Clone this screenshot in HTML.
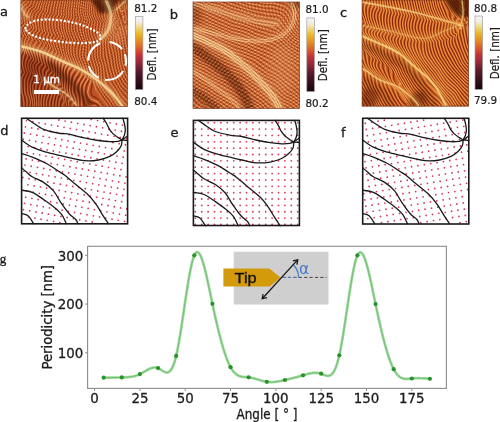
<!DOCTYPE html><html><head><meta charset="utf-8"><style>html,body{margin:0;padding:0;background:#fff;overflow:hidden}svg{display:block}</style></head><body><svg width="500" height="422" viewBox="0 0 500 422">
<defs>
<linearGradient id="cmap" x1="0" y1="1" x2="0" y2="0">
<stop offset="0" stop-color="#1a0508"/>
<stop offset="0.10" stop-color="#2e0d18"/>
<stop offset="0.25" stop-color="#5a1a2c"/>
<stop offset="0.38" stop-color="#9a2a3a"/>
<stop offset="0.48" stop-color="#c83236"/>
<stop offset="0.56" stop-color="#d85a2a"/>
<stop offset="0.66" stop-color="#e48a22"/>
<stop offset="0.76" stop-color="#ebb522"/>
<stop offset="0.86" stop-color="#f0dc8c"/>
<stop offset="0.93" stop-color="#f2eee6"/>
<stop offset="1" stop-color="#f4f4f6"/>
</linearGradient>
<filter id="bl05" x="-50%" y="-50%" width="200%" height="200%"><feGaussianBlur stdDeviation="0.5"/></filter>
<filter id="bl1" x="-50%" y="-50%" width="200%" height="200%"><feGaussianBlur stdDeviation="0.9"/></filter>
<filter id="bl15" x="-50%" y="-50%" width="200%" height="200%"><feGaussianBlur stdDeviation="1.5"/></filter>
<filter id="bl2" x="-50%" y="-50%" width="200%" height="200%"><feGaussianBlur stdDeviation="2.2"/></filter>
<filter id="bl3" x="-50%" y="-50%" width="200%" height="200%"><feGaussianBlur stdDeviation="3.2"/></filter>
<filter id="bl4" x="-50%" y="-50%" width="200%" height="200%"><feGaussianBlur stdDeviation="5"/></filter>
<clipPath id="cpa"><rect x="20.8" y="0" width="106.7" height="106.6"/></clipPath>
<clipPath id="cpb"><rect x="193" y="2" width="106.5" height="106.4"/></clipPath>
<clipPath id="cpc"><rect x="362.1" y="0" width="106.4" height="106.2"/></clipPath>
</defs>
<rect width="500" height="422" fill="#fff"/>
<rect x="87.6" y="246.3" width="358.8" height="142.1" fill="none" stroke="#8c8c8c" stroke-width="1.1"/>
<line x1="94.6" y1="388.4" x2="94.6" y2="390.9" stroke="#8c8c8c" stroke-width="1"/>
<text x="94.6" y="403.2" text-anchor="middle" font-family="'DejaVu Sans', 'Liberation Sans', sans-serif" font-size="13.4" fill="#1c1c1c" stroke="#1c1c1c" stroke-width="0.3">0</text>
<line x1="139.91" y1="388.4" x2="139.91" y2="390.9" stroke="#8c8c8c" stroke-width="1"/>
<text x="139.91" y="403.2" text-anchor="middle" font-family="'DejaVu Sans', 'Liberation Sans', sans-serif" font-size="13.4" fill="#1c1c1c" stroke="#1c1c1c" stroke-width="0.3">25</text>
<line x1="185.23" y1="388.4" x2="185.23" y2="390.9" stroke="#8c8c8c" stroke-width="1"/>
<text x="185.23" y="403.2" text-anchor="middle" font-family="'DejaVu Sans', 'Liberation Sans', sans-serif" font-size="13.4" fill="#1c1c1c" stroke="#1c1c1c" stroke-width="0.3">50</text>
<line x1="230.54" y1="388.4" x2="230.54" y2="390.9" stroke="#8c8c8c" stroke-width="1"/>
<text x="230.54" y="403.2" text-anchor="middle" font-family="'DejaVu Sans', 'Liberation Sans', sans-serif" font-size="13.4" fill="#1c1c1c" stroke="#1c1c1c" stroke-width="0.3">75</text>
<line x1="275.86" y1="388.4" x2="275.86" y2="390.9" stroke="#8c8c8c" stroke-width="1"/>
<text x="275.86" y="403.2" text-anchor="middle" font-family="'DejaVu Sans', 'Liberation Sans', sans-serif" font-size="13.4" fill="#1c1c1c" stroke="#1c1c1c" stroke-width="0.3">100</text>
<line x1="321.17" y1="388.4" x2="321.17" y2="390.9" stroke="#8c8c8c" stroke-width="1"/>
<text x="321.17" y="403.2" text-anchor="middle" font-family="'DejaVu Sans', 'Liberation Sans', sans-serif" font-size="13.4" fill="#1c1c1c" stroke="#1c1c1c" stroke-width="0.3">125</text>
<line x1="366.49" y1="388.4" x2="366.49" y2="390.9" stroke="#8c8c8c" stroke-width="1"/>
<text x="366.49" y="403.2" text-anchor="middle" font-family="'DejaVu Sans', 'Liberation Sans', sans-serif" font-size="13.4" fill="#1c1c1c" stroke="#1c1c1c" stroke-width="0.3">150</text>
<line x1="411.8" y1="388.4" x2="411.8" y2="390.9" stroke="#8c8c8c" stroke-width="1"/>
<text x="411.8" y="403.2" text-anchor="middle" font-family="'DejaVu Sans', 'Liberation Sans', sans-serif" font-size="13.4" fill="#1c1c1c" stroke="#1c1c1c" stroke-width="0.3">175</text>
<line x1="85.1" y1="352.8" x2="87.6" y2="352.8" stroke="#8c8c8c" stroke-width="1"/>
<text x="83.4" y="358.2" text-anchor="end" font-family="'DejaVu Sans', 'Liberation Sans', sans-serif" font-size="13.4" fill="#1c1c1c" stroke="#1c1c1c" stroke-width="0.3">100</text>
<line x1="85.1" y1="304.05" x2="87.6" y2="304.05" stroke="#8c8c8c" stroke-width="1"/>
<text x="83.4" y="309.45" text-anchor="end" font-family="'DejaVu Sans', 'Liberation Sans', sans-serif" font-size="13.4" fill="#1c1c1c" stroke="#1c1c1c" stroke-width="0.3">200</text>
<line x1="85.1" y1="255.3" x2="87.6" y2="255.3" stroke="#8c8c8c" stroke-width="1"/>
<text x="83.4" y="260.7" text-anchor="end" font-family="'DejaVu Sans', 'Liberation Sans', sans-serif" font-size="13.4" fill="#1c1c1c" stroke="#1c1c1c" stroke-width="0.3">300</text>
<text transform="translate(52.3 317.3) rotate(-90)" text-anchor="middle" font-family="'DejaVu Sans', 'Liberation Sans', sans-serif" font-size="13.3" fill="#1c1c1c" stroke="#1c1c1c" stroke-width="0.3" textLength="104.5" lengthAdjust="spacingAndGlyphs">Periodicity [nm]</text>
<text x="267" y="418.6" text-anchor="middle" font-family="'DejaVu Sans', 'Liberation Sans', sans-serif" font-size="13.3" fill="#1c1c1c" stroke="#1c1c1c" stroke-width="0.3" textLength="61" lengthAdjust="spacingAndGlyphs">Angle [ ° ]</text>
<rect x="233.7" y="251.7" width="94.8" height="52.8" fill="#cfcfcf"/>
<path d="M223.4 268.6 L269.3 268.6 L280.6 277.4 L269.8 286.4 L223.4 286.4 Z" fill="#d39a0c"/>
<text x="234.6" y="283.2" font-family="'Liberation Sans', 'DejaVu Sans', sans-serif" font-size="15.2" fill="#111" stroke="#111" stroke-width="0.35" textLength="22" lengthAdjust="spacingAndGlyphs">Tip</text>
<line x1="282.5" y1="277.4" x2="326.5" y2="277.4" stroke="#444" stroke-width="1" stroke-dasharray="3.2 2.2"/>
<line x1="282.5" y1="277.4" x2="298" y2="277.4" stroke="#5a7ac0" stroke-width="1" stroke-dasharray="3.2 2.2"/>
<path d="M292.7 264.3 A18 18 0 0 1 298.6 277.4" fill="none" stroke="#4a78c8" stroke-width="1.2"/>
<line x1="262.4" y1="298.5" x2="297.6" y2="259.9" stroke="#151515" stroke-width="1.25"/>
<path d="M296.9 264.6 L297.75 259.75 L293 260.9 M263.1 294 L262.2 298.75 L267 297.6" fill="none" stroke="#151515" stroke-width="1.25" stroke-linejoin="miter"/>
<text x="299.0" y="273.5" font-family="'DejaVu Sans', 'Liberation Sans', sans-serif" font-size="15.5" fill="#4a78c8">α</text>
<path d="M103.66 377.66 L104.57 377.66 L105.48 377.65 L106.38 377.64 L107.29 377.63 L108.19 377.62 L109.1 377.62 L110.01 377.61 L110.91 377.6 L111.82 377.59 L112.73 377.58 L113.63 377.57 L114.54 377.55 L115.44 377.54 L116.35 377.53 L117.26 377.51 L118.16 377.5 L119.07 377.48 L119.98 377.46 L120.88 377.44 L121.79 377.42 L122.7 377.4 L123.6 377.37 L124.51 377.34 L125.41 377.3 L126.32 377.25 L127.23 377.19 L128.13 377.12 L129.04 377.03 L129.95 376.93 L130.85 376.8 L131.76 376.66 L132.66 376.49 L133.57 376.3 L134.48 376.08 L135.38 375.83 L136.29 375.56 L137.2 375.25 L138.1 374.9 L139.01 374.52 L139.91 374.1 L140.82 373.65 L141.73 373.16 L142.63 372.64 L143.54 372.12 L144.45 371.58 L145.35 371.04 L146.26 370.51 L147.17 370 L148.07 369.52 L148.98 369.06 L149.88 368.65 L150.79 368.28 L151.7 367.98 L152.6 367.74 L153.51 367.57 L154.42 367.48 L155.32 367.48 L156.23 367.58 L157.13 367.79 L158.04 368.11 L158.95 368.54 L159.85 369.07 L160.76 369.64 L161.67 370.25 L162.57 370.84 L163.48 371.38 L164.39 371.86 L165.29 372.22 L166.2 372.43 L167.1 372.48 L168.01 372.31 L168.92 371.9 L169.82 371.21 L170.73 370.22 L171.64 368.88 L172.54 367.17 L173.45 365.05 L174.35 362.49 L175.26 359.46 L176.17 355.92 L177.07 351.85 L177.98 347.31 L178.89 342.35 L179.79 337.04 L180.7 331.44 L181.6 325.62 L182.51 319.62 L183.42 313.53 L184.32 307.4 L185.23 301.29 L186.14 295.27 L187.04 289.4 L187.95 283.74 L188.86 278.35 L189.76 273.3 L190.67 268.65 L191.57 264.46 L192.48 260.8 L193.39 257.72 L194.29 255.3 L195.2 253.57 L196.11 252.52 L197.01 252.1 L197.92 252.27 L198.82 253 L199.73 254.25 L200.64 255.97 L201.54 258.13 L202.45 260.69 L203.36 263.6 L204.26 266.84 L205.17 270.35 L206.07 274.11 L206.98 278.07 L207.89 282.18 L208.79 286.42 L209.7 290.74 L210.61 295.11 L211.51 299.47 L212.42 303.81 L213.33 308.07 L214.23 312.25 L215.14 316.35 L216.04 320.35 L216.95 324.25 L217.86 328.05 L218.76 331.75 L219.67 335.32 L220.58 338.78 L221.48 342.11 L222.39 345.3 L223.29 348.36 L224.2 351.28 L225.11 354.04 L226.01 356.65 L226.92 359.1 L227.83 361.39 L228.73 363.5 L229.64 365.43 L230.54 367.18 L231.45 368.74 L232.36 370.13 L233.26 371.35 L234.17 372.41 L235.08 373.33 L235.98 374.11 L236.89 374.77 L237.8 375.32 L238.7 375.77 L239.61 376.13 L240.51 376.42 L241.42 376.64 L242.33 376.8 L243.23 376.92 L244.14 377 L245.05 377.06 L245.95 377.12 L246.86 377.17 L247.76 377.23 L248.67 377.32 L249.58 377.44 L250.48 377.59 L251.39 377.77 L252.3 377.97 L253.2 378.19 L254.11 378.43 L255.02 378.69 L255.92 378.95 L256.83 379.22 L257.73 379.5 L258.64 379.78 L259.55 380.06 L260.45 380.33 L261.36 380.59 L262.27 380.84 L263.17 381.08 L264.08 381.3 L264.98 381.49 L265.89 381.66 L266.8 381.81 L267.7 381.92 L268.61 382 L269.52 382.05 L270.42 382.08 L271.33 382.08 L272.23 382.05 L273.14 382.01 L274.05 381.94 L274.95 381.85 L275.86 381.74 L276.77 381.62 L277.67 381.48 L278.58 381.33 L279.49 381.17 L280.39 380.99 L281.3 380.81 L282.2 380.61 L283.11 380.41 L284.02 380.21 L284.92 380 L285.83 379.79 L286.74 379.58 L287.64 379.37 L288.55 379.15 L289.45 378.93 L290.36 378.71 L291.27 378.49 L292.17 378.26 L293.08 378.03 L293.99 377.8 L294.89 377.56 L295.8 377.33 L296.7 377.09 L297.61 376.84 L298.52 376.6 L299.42 376.35 L300.33 376.1 L301.24 375.84 L302.14 375.58 L303.05 375.32 L303.96 375.06 L304.86 374.79 L305.77 374.53 L306.67 374.28 L307.58 374.03 L308.49 373.8 L309.39 373.58 L310.3 373.38 L311.21 373.21 L312.11 373.06 L313.02 372.94 L313.92 372.85 L314.83 372.8 L315.74 372.79 L316.64 372.82 L317.55 372.89 L318.46 373.02 L319.36 373.19 L320.27 373.42 L321.17 373.71 L322.08 374.06 L322.99 374.44 L323.89 374.82 L324.8 375.19 L325.71 375.5 L326.61 375.74 L327.52 375.87 L328.43 375.87 L329.33 375.7 L330.24 375.35 L331.14 374.78 L332.05 373.96 L332.96 372.88 L333.86 371.49 L334.77 369.77 L335.68 367.7 L336.58 365.24 L337.49 362.37 L338.39 359.06 L339.3 355.29 L340.21 351.03 L341.11 346.33 L342.02 341.26 L342.93 335.88 L343.83 330.23 L344.74 324.39 L345.65 318.41 L346.55 312.35 L347.46 306.28 L348.36 300.25 L349.27 294.31 L350.18 288.54 L351.08 282.99 L351.99 277.71 L352.9 272.78 L353.8 268.25 L354.71 264.17 L355.61 260.62 L356.52 257.64 L357.43 255.3 L358.33 253.64 L359.24 252.64 L360.15 252.27 L361.05 252.47 L361.96 253.22 L362.86 254.48 L363.77 256.21 L364.68 258.37 L365.58 260.92 L366.49 263.83 L367.4 267.05 L368.3 270.55 L369.21 274.3 L370.12 278.24 L371.02 282.36 L371.93 286.59 L372.83 290.92 L373.74 295.3 L374.65 299.69 L375.55 304.05 L376.46 308.36 L377.37 312.59 L378.27 316.75 L379.18 320.82 L380.08 324.81 L380.99 328.69 L381.9 332.48 L382.8 336.15 L383.71 339.71 L384.62 343.14 L385.52 346.44 L386.43 349.6 L387.33 352.62 L388.24 355.49 L389.15 358.21 L390.05 360.76 L390.96 363.13 L391.87 365.34 L392.77 367.35 L393.68 369.18 L394.59 370.81 L395.49 372.26 L396.4 373.53 L397.3 374.63 L398.21 375.58 L399.12 376.39 L400.02 377.06 L400.93 377.61 L401.84 378.04 L402.74 378.38 L403.65 378.62 L404.55 378.79 L405.46 378.88 L406.37 378.92 L407.27 378.91 L408.18 378.86 L409.09 378.78 L409.99 378.69 L410.9 378.59 L411.8 378.49 L412.71 378.41 L413.62 378.34 L414.52 378.29 L415.43 378.25 L416.34 378.23 L417.24 378.21 L418.15 378.21 L419.06 378.21 L419.96 378.23 L420.87 378.25 L421.77 378.28 L422.68 378.32 L423.59 378.36 L424.49 378.41 L425.4 378.47 L426.31 378.53 L427.21 378.59 L428.12 378.65 L429.02 378.72 L429.93 378.78" fill="none" stroke="#94dc94" stroke-width="2.7" stroke-linejoin="round"/>
<path d="M103.66 377.66 L104.57 377.66 L105.48 377.65 L106.38 377.64 L107.29 377.63 L108.19 377.62 L109.1 377.62 L110.01 377.61 L110.91 377.6 L111.82 377.59 L112.73 377.58 L113.63 377.57 L114.54 377.55 L115.44 377.54 L116.35 377.53 L117.26 377.51 L118.16 377.5 L119.07 377.48 L119.98 377.46 L120.88 377.44 L121.79 377.42 L122.7 377.4 L123.6 377.37 L124.51 377.34 L125.41 377.3 L126.32 377.25 L127.23 377.19 L128.13 377.12 L129.04 377.03 L129.95 376.93 L130.85 376.8 L131.76 376.66 L132.66 376.49 L133.57 376.3 L134.48 376.08 L135.38 375.83 L136.29 375.56 L137.2 375.25 L138.1 374.9 L139.01 374.52 L139.91 374.1 L140.82 373.65 L141.73 373.16 L142.63 372.64 L143.54 372.12 L144.45 371.58 L145.35 371.04 L146.26 370.51 L147.17 370 L148.07 369.52 L148.98 369.06 L149.88 368.65 L150.79 368.28 L151.7 367.98 L152.6 367.74 L153.51 367.57 L154.42 367.48 L155.32 367.48 L156.23 367.58 L157.13 367.79 L158.04 368.11 L158.95 368.54 L159.85 369.07 L160.76 369.64 L161.67 370.25 L162.57 370.84 L163.48 371.38 L164.39 371.86 L165.29 372.22 L166.2 372.43 L167.1 372.48 L168.01 372.31 L168.92 371.9 L169.82 371.21 L170.73 370.22 L171.64 368.88 L172.54 367.17 L173.45 365.05 L174.35 362.49 L175.26 359.46 L176.17 355.92 L177.07 351.85 L177.98 347.31 L178.89 342.35 L179.79 337.04 L180.7 331.44 L181.6 325.62 L182.51 319.62 L183.42 313.53 L184.32 307.4 L185.23 301.29 L186.14 295.27 L187.04 289.4 L187.95 283.74 L188.86 278.35 L189.76 273.3 L190.67 268.65 L191.57 264.46 L192.48 260.8 L193.39 257.72 L194.29 255.3 L195.2 253.57 L196.11 252.52 L197.01 252.1 L197.92 252.27 L198.82 253 L199.73 254.25 L200.64 255.97 L201.54 258.13 L202.45 260.69 L203.36 263.6 L204.26 266.84 L205.17 270.35 L206.07 274.11 L206.98 278.07 L207.89 282.18 L208.79 286.42 L209.7 290.74 L210.61 295.11 L211.51 299.47 L212.42 303.81 L213.33 308.07 L214.23 312.25 L215.14 316.35 L216.04 320.35 L216.95 324.25 L217.86 328.05 L218.76 331.75 L219.67 335.32 L220.58 338.78 L221.48 342.11 L222.39 345.3 L223.29 348.36 L224.2 351.28 L225.11 354.04 L226.01 356.65 L226.92 359.1 L227.83 361.39 L228.73 363.5 L229.64 365.43 L230.54 367.18 L231.45 368.74 L232.36 370.13 L233.26 371.35 L234.17 372.41 L235.08 373.33 L235.98 374.11 L236.89 374.77 L237.8 375.32 L238.7 375.77 L239.61 376.13 L240.51 376.42 L241.42 376.64 L242.33 376.8 L243.23 376.92 L244.14 377 L245.05 377.06 L245.95 377.12 L246.86 377.17 L247.76 377.23 L248.67 377.32 L249.58 377.44 L250.48 377.59 L251.39 377.77 L252.3 377.97 L253.2 378.19 L254.11 378.43 L255.02 378.69 L255.92 378.95 L256.83 379.22 L257.73 379.5 L258.64 379.78 L259.55 380.06 L260.45 380.33 L261.36 380.59 L262.27 380.84 L263.17 381.08 L264.08 381.3 L264.98 381.49 L265.89 381.66 L266.8 381.81 L267.7 381.92 L268.61 382 L269.52 382.05 L270.42 382.08 L271.33 382.08 L272.23 382.05 L273.14 382.01 L274.05 381.94 L274.95 381.85 L275.86 381.74 L276.77 381.62 L277.67 381.48 L278.58 381.33 L279.49 381.17 L280.39 380.99 L281.3 380.81 L282.2 380.61 L283.11 380.41 L284.02 380.21 L284.92 380 L285.83 379.79 L286.74 379.58 L287.64 379.37 L288.55 379.15 L289.45 378.93 L290.36 378.71 L291.27 378.49 L292.17 378.26 L293.08 378.03 L293.99 377.8 L294.89 377.56 L295.8 377.33 L296.7 377.09 L297.61 376.84 L298.52 376.6 L299.42 376.35 L300.33 376.1 L301.24 375.84 L302.14 375.58 L303.05 375.32 L303.96 375.06 L304.86 374.79 L305.77 374.53 L306.67 374.28 L307.58 374.03 L308.49 373.8 L309.39 373.58 L310.3 373.38 L311.21 373.21 L312.11 373.06 L313.02 372.94 L313.92 372.85 L314.83 372.8 L315.74 372.79 L316.64 372.82 L317.55 372.89 L318.46 373.02 L319.36 373.19 L320.27 373.42 L321.17 373.71 L322.08 374.06 L322.99 374.44 L323.89 374.82 L324.8 375.19 L325.71 375.5 L326.61 375.74 L327.52 375.87 L328.43 375.87 L329.33 375.7 L330.24 375.35 L331.14 374.78 L332.05 373.96 L332.96 372.88 L333.86 371.49 L334.77 369.77 L335.68 367.7 L336.58 365.24 L337.49 362.37 L338.39 359.06 L339.3 355.29 L340.21 351.03 L341.11 346.33 L342.02 341.26 L342.93 335.88 L343.83 330.23 L344.74 324.39 L345.65 318.41 L346.55 312.35 L347.46 306.28 L348.36 300.25 L349.27 294.31 L350.18 288.54 L351.08 282.99 L351.99 277.71 L352.9 272.78 L353.8 268.25 L354.71 264.17 L355.61 260.62 L356.52 257.64 L357.43 255.3 L358.33 253.64 L359.24 252.64 L360.15 252.27 L361.05 252.47 L361.96 253.22 L362.86 254.48 L363.77 256.21 L364.68 258.37 L365.58 260.92 L366.49 263.83 L367.4 267.05 L368.3 270.55 L369.21 274.3 L370.12 278.24 L371.02 282.36 L371.93 286.59 L372.83 290.92 L373.74 295.3 L374.65 299.69 L375.55 304.05 L376.46 308.36 L377.37 312.59 L378.27 316.75 L379.18 320.82 L380.08 324.81 L380.99 328.69 L381.9 332.48 L382.8 336.15 L383.71 339.71 L384.62 343.14 L385.52 346.44 L386.43 349.6 L387.33 352.62 L388.24 355.49 L389.15 358.21 L390.05 360.76 L390.96 363.13 L391.87 365.34 L392.77 367.35 L393.68 369.18 L394.59 370.81 L395.49 372.26 L396.4 373.53 L397.3 374.63 L398.21 375.58 L399.12 376.39 L400.02 377.06 L400.93 377.61 L401.84 378.04 L402.74 378.38 L403.65 378.62 L404.55 378.79 L405.46 378.88 L406.37 378.92 L407.27 378.91 L408.18 378.86 L409.09 378.78 L409.99 378.69 L410.9 378.59 L411.8 378.49 L412.71 378.41 L413.62 378.34 L414.52 378.29 L415.43 378.25 L416.34 378.23 L417.24 378.21 L418.15 378.21 L419.06 378.21 L419.96 378.23 L420.87 378.25 L421.77 378.28 L422.68 378.32 L423.59 378.36 L424.49 378.41 L425.4 378.47 L426.31 378.53 L427.21 378.59 L428.12 378.65 L429.02 378.72 L429.93 378.78" fill="none" stroke="#7aa87a" stroke-opacity="0.7" stroke-width="1" stroke-linejoin="round"/>
<circle cx="103.66" cy="377.66" r="2.1" fill="#2a922a"/>
<circle cx="121.79" cy="377.42" r="2.1" fill="#2a922a"/>
<circle cx="139.91" cy="374.1" r="2.1" fill="#2a922a"/>
<circle cx="158.04" cy="368.11" r="2.1" fill="#2a922a"/>
<circle cx="176.17" cy="355.92" r="2.1" fill="#2a922a"/>
<circle cx="194.29" cy="255.3" r="2.1" fill="#2a922a"/>
<circle cx="212.42" cy="303.81" r="2.1" fill="#2a922a"/>
<circle cx="230.54" cy="367.18" r="2.1" fill="#2a922a"/>
<circle cx="248.67" cy="377.32" r="2.1" fill="#2a922a"/>
<circle cx="266.8" cy="381.81" r="2.1" fill="#2a922a"/>
<circle cx="284.92" cy="380" r="2.1" fill="#2a922a"/>
<circle cx="303.05" cy="375.32" r="2.1" fill="#2a922a"/>
<circle cx="321.17" cy="373.71" r="2.1" fill="#2a922a"/>
<circle cx="339.3" cy="355.29" r="2.1" fill="#2a922a"/>
<circle cx="357.43" cy="255.3" r="2.1" fill="#2a922a"/>
<circle cx="375.55" cy="304.05" r="2.1" fill="#2a922a"/>
<circle cx="393.68" cy="369.18" r="2.1" fill="#2a922a"/>
<circle cx="411.8" cy="378.49" r="2.1" fill="#2a922a"/>
<circle cx="429.93" cy="378.78" r="2.1" fill="#2a922a"/>
<g transform="translate(21.6 118.3)">
<g fill="#d43c5c"><circle cx="4.95" cy="2.28" r="0.9"/><circle cx="3.83" cy="8.48" r="0.9"/><circle cx="2.72" cy="14.68" r="0.9"/><circle cx="1.6" cy="20.88" r="0.9"/><circle cx="11.2" cy="3.4" r="0.9"/><circle cx="10.08" cy="9.6" r="0.9"/><circle cx="8.97" cy="15.8" r="0.9"/><circle cx="7.85" cy="22" r="0.9"/><circle cx="6.74" cy="28.2" r="0.9"/><circle cx="5.62" cy="34.4" r="0.9"/><circle cx="4.51" cy="40.6" r="0.9"/><circle cx="3.39" cy="46.8" r="0.9"/><circle cx="2.27" cy="53" r="0.9"/><circle cx="1.16" cy="59.2" r="0.9"/><circle cx="17.45" cy="4.52" r="0.9"/><circle cx="16.33" cy="10.72" r="0.9"/><circle cx="15.22" cy="16.93" r="0.9"/><circle cx="14.1" cy="23.13" r="0.9"/><circle cx="12.99" cy="29.33" r="0.9"/><circle cx="11.87" cy="35.53" r="0.9"/><circle cx="10.76" cy="41.73" r="0.9"/><circle cx="9.64" cy="47.93" r="0.9"/><circle cx="8.52" cy="54.13" r="0.9"/><circle cx="7.41" cy="60.33" r="0.9"/><circle cx="6.29" cy="66.53" r="0.9"/><circle cx="5.18" cy="72.73" r="0.9"/><circle cx="4.06" cy="78.93" r="0.9"/><circle cx="2.95" cy="85.13" r="0.9"/><circle cx="1.83" cy="91.33" r="0.9"/><circle cx="23.7" cy="5.65" r="0.9"/><circle cx="22.58" cy="11.85" r="0.9"/><circle cx="21.47" cy="18.05" r="0.9"/><circle cx="20.35" cy="24.25" r="0.9"/><circle cx="19.24" cy="30.45" r="0.9"/><circle cx="18.12" cy="36.65" r="0.9"/><circle cx="17.01" cy="42.85" r="0.9"/><circle cx="15.89" cy="49.05" r="0.9"/><circle cx="14.77" cy="55.25" r="0.9"/><circle cx="13.66" cy="61.45" r="0.9"/><circle cx="12.54" cy="67.65" r="0.9"/><circle cx="11.43" cy="73.85" r="0.9"/><circle cx="10.31" cy="80.05" r="0.9"/><circle cx="9.2" cy="86.25" r="0.9"/><circle cx="8.08" cy="92.46" r="0.9"/><circle cx="6.96" cy="98.66" r="0.9"/><circle cx="29.95" cy="6.77" r="0.9"/><circle cx="28.83" cy="12.97" r="0.9"/><circle cx="27.72" cy="19.17" r="0.9"/><circle cx="26.6" cy="25.37" r="0.9"/><circle cx="25.49" cy="31.58" r="0.9"/><circle cx="24.37" cy="37.78" r="0.9"/><circle cx="23.26" cy="43.98" r="0.9"/><circle cx="22.14" cy="50.18" r="0.9"/><circle cx="21.02" cy="56.38" r="0.9"/><circle cx="19.91" cy="62.58" r="0.9"/><circle cx="18.79" cy="68.78" r="0.9"/><circle cx="17.68" cy="74.98" r="0.9"/><circle cx="16.56" cy="81.18" r="0.9"/><circle cx="15.45" cy="87.38" r="0.9"/><circle cx="14.33" cy="93.58" r="0.9"/><circle cx="13.21" cy="99.78" r="0.9"/><circle cx="37.31" cy="1.7" r="0.9"/><circle cx="36.2" cy="7.9" r="0.9"/><circle cx="35.08" cy="14.1" r="0.9"/><circle cx="33.97" cy="20.3" r="0.9"/><circle cx="32.85" cy="26.5" r="0.9"/><circle cx="31.74" cy="32.7" r="0.9"/><circle cx="30.62" cy="38.9" r="0.9"/><circle cx="29.5" cy="45.1" r="0.9"/><circle cx="28.39" cy="51.3" r="0.9"/><circle cx="27.27" cy="57.5" r="0.9"/><circle cx="26.16" cy="63.7" r="0.9"/><circle cx="25.04" cy="69.9" r="0.9"/><circle cx="23.93" cy="76.1" r="0.9"/><circle cx="22.81" cy="82.3" r="0.9"/><circle cx="21.7" cy="88.5" r="0.9"/><circle cx="20.58" cy="94.7" r="0.9"/><circle cx="19.46" cy="100.9" r="0.9"/><circle cx="43.56" cy="2.82" r="0.9"/><circle cx="42.45" cy="9.02" r="0.9"/><circle cx="41.33" cy="15.22" r="0.9"/><circle cx="40.22" cy="21.42" r="0.9"/><circle cx="39.1" cy="27.62" r="0.9"/><circle cx="37.99" cy="33.82" r="0.9"/><circle cx="36.87" cy="40.02" r="0.9"/><circle cx="35.75" cy="46.23" r="0.9"/><circle cx="34.64" cy="52.43" r="0.9"/><circle cx="33.52" cy="58.63" r="0.9"/><circle cx="32.41" cy="64.83" r="0.9"/><circle cx="31.29" cy="71.03" r="0.9"/><circle cx="30.18" cy="77.23" r="0.9"/><circle cx="29.06" cy="83.43" r="0.9"/><circle cx="27.94" cy="89.63" r="0.9"/><circle cx="26.83" cy="95.83" r="0.9"/><circle cx="25.71" cy="102.03" r="0.9"/><circle cx="49.81" cy="3.95" r="0.9"/><circle cx="48.7" cy="10.15" r="0.9"/><circle cx="47.58" cy="16.35" r="0.9"/><circle cx="46.47" cy="22.55" r="0.9"/><circle cx="45.35" cy="28.75" r="0.9"/><circle cx="44.24" cy="34.95" r="0.9"/><circle cx="43.12" cy="41.15" r="0.9"/><circle cx="42" cy="47.35" r="0.9"/><circle cx="40.89" cy="53.55" r="0.9"/><circle cx="39.77" cy="59.75" r="0.9"/><circle cx="38.66" cy="65.95" r="0.9"/><circle cx="37.54" cy="72.15" r="0.9"/><circle cx="36.43" cy="78.35" r="0.9"/><circle cx="35.31" cy="84.55" r="0.9"/><circle cx="34.19" cy="90.75" r="0.9"/><circle cx="33.08" cy="96.95" r="0.9"/><circle cx="31.96" cy="103.15" r="0.9"/><circle cx="56.06" cy="5.07" r="0.9"/><circle cx="54.95" cy="11.27" r="0.9"/><circle cx="53.83" cy="17.47" r="0.9"/><circle cx="52.72" cy="23.67" r="0.9"/><circle cx="51.6" cy="29.87" r="0.9"/><circle cx="50.48" cy="36.07" r="0.9"/><circle cx="49.37" cy="42.27" r="0.9"/><circle cx="48.25" cy="48.47" r="0.9"/><circle cx="47.14" cy="54.67" r="0.9"/><circle cx="46.02" cy="60.87" r="0.9"/><circle cx="44.91" cy="67.08" r="0.9"/><circle cx="43.79" cy="73.28" r="0.9"/><circle cx="42.68" cy="79.48" r="0.9"/><circle cx="41.56" cy="85.68" r="0.9"/><circle cx="40.44" cy="91.88" r="0.9"/><circle cx="39.33" cy="98.08" r="0.9"/><circle cx="38.21" cy="104.28" r="0.9"/><circle cx="62.31" cy="6.2" r="0.9"/><circle cx="61.2" cy="12.4" r="0.9"/><circle cx="60.08" cy="18.6" r="0.9"/><circle cx="58.97" cy="24.8" r="0.9"/><circle cx="57.85" cy="31" r="0.9"/><circle cx="56.73" cy="37.2" r="0.9"/><circle cx="55.62" cy="43.4" r="0.9"/><circle cx="54.5" cy="49.6" r="0.9"/><circle cx="53.39" cy="55.8" r="0.9"/><circle cx="52.27" cy="62" r="0.9"/><circle cx="51.16" cy="68.2" r="0.9"/><circle cx="50.04" cy="74.4" r="0.9"/><circle cx="48.93" cy="80.6" r="0.9"/><circle cx="47.81" cy="86.8" r="0.9"/><circle cx="46.69" cy="93" r="0.9"/><circle cx="45.58" cy="99.2" r="0.9"/><circle cx="69.68" cy="1.12" r="0.9"/><circle cx="68.56" cy="7.32" r="0.9"/><circle cx="67.45" cy="13.52" r="0.9"/><circle cx="66.33" cy="19.72" r="0.9"/><circle cx="65.22" cy="25.92" r="0.9"/><circle cx="64.1" cy="32.12" r="0.9"/><circle cx="62.98" cy="38.32" r="0.9"/><circle cx="61.87" cy="44.52" r="0.9"/><circle cx="60.75" cy="50.72" r="0.9"/><circle cx="59.64" cy="56.92" r="0.9"/><circle cx="58.52" cy="63.12" r="0.9"/><circle cx="57.41" cy="69.32" r="0.9"/><circle cx="56.29" cy="75.52" r="0.9"/><circle cx="55.17" cy="81.73" r="0.9"/><circle cx="54.06" cy="87.93" r="0.9"/><circle cx="52.94" cy="94.13" r="0.9"/><circle cx="51.83" cy="100.33" r="0.9"/><circle cx="75.93" cy="2.24" r="0.9"/><circle cx="74.81" cy="8.44" r="0.9"/><circle cx="73.7" cy="14.64" r="0.9"/><circle cx="72.58" cy="20.85" r="0.9"/><circle cx="71.47" cy="27.05" r="0.9"/><circle cx="70.35" cy="33.25" r="0.9"/><circle cx="69.23" cy="39.45" r="0.9"/><circle cx="68.12" cy="45.65" r="0.9"/><circle cx="67" cy="51.85" r="0.9"/><circle cx="65.89" cy="58.05" r="0.9"/><circle cx="64.77" cy="64.25" r="0.9"/><circle cx="63.66" cy="70.45" r="0.9"/><circle cx="62.54" cy="76.65" r="0.9"/><circle cx="61.42" cy="82.85" r="0.9"/><circle cx="60.31" cy="89.05" r="0.9"/><circle cx="59.19" cy="95.25" r="0.9"/><circle cx="58.08" cy="101.45" r="0.9"/><circle cx="82.18" cy="3.37" r="0.9"/><circle cx="81.06" cy="9.57" r="0.9"/><circle cx="79.95" cy="15.77" r="0.9"/><circle cx="78.83" cy="21.97" r="0.9"/><circle cx="77.71" cy="28.17" r="0.9"/><circle cx="76.6" cy="34.37" r="0.9"/><circle cx="75.48" cy="40.57" r="0.9"/><circle cx="74.37" cy="46.77" r="0.9"/><circle cx="73.25" cy="52.97" r="0.9"/><circle cx="72.14" cy="59.17" r="0.9"/><circle cx="71.02" cy="65.37" r="0.9"/><circle cx="69.91" cy="71.57" r="0.9"/><circle cx="68.79" cy="77.77" r="0.9"/><circle cx="67.67" cy="83.97" r="0.9"/><circle cx="66.56" cy="90.17" r="0.9"/><circle cx="65.44" cy="96.37" r="0.9"/><circle cx="64.33" cy="102.58" r="0.9"/><circle cx="88.43" cy="4.49" r="0.9"/><circle cx="87.31" cy="10.69" r="0.9"/><circle cx="86.2" cy="16.89" r="0.9"/><circle cx="85.08" cy="23.09" r="0.9"/><circle cx="83.96" cy="29.29" r="0.9"/><circle cx="82.85" cy="35.5" r="0.9"/><circle cx="81.73" cy="41.7" r="0.9"/><circle cx="80.62" cy="47.9" r="0.9"/><circle cx="79.5" cy="54.1" r="0.9"/><circle cx="78.39" cy="60.3" r="0.9"/><circle cx="77.27" cy="66.5" r="0.9"/><circle cx="76.16" cy="72.7" r="0.9"/><circle cx="75.04" cy="78.9" r="0.9"/><circle cx="73.92" cy="85.1" r="0.9"/><circle cx="72.81" cy="91.3" r="0.9"/><circle cx="71.69" cy="97.5" r="0.9"/><circle cx="70.58" cy="103.7" r="0.9"/><circle cx="94.68" cy="5.62" r="0.9"/><circle cx="93.56" cy="11.82" r="0.9"/><circle cx="92.45" cy="18.02" r="0.9"/><circle cx="91.33" cy="24.22" r="0.9"/><circle cx="90.21" cy="30.42" r="0.9"/><circle cx="89.1" cy="36.62" r="0.9"/><circle cx="87.98" cy="42.82" r="0.9"/><circle cx="86.87" cy="49.02" r="0.9"/><circle cx="85.75" cy="55.22" r="0.9"/><circle cx="84.64" cy="61.42" r="0.9"/><circle cx="83.52" cy="67.62" r="0.9"/><circle cx="82.4" cy="73.82" r="0.9"/><circle cx="81.29" cy="80.02" r="0.9"/><circle cx="80.17" cy="86.22" r="0.9"/><circle cx="79.06" cy="92.42" r="0.9"/><circle cx="77.94" cy="98.62" r="0.9"/><circle cx="100.93" cy="6.74" r="0.9"/><circle cx="99.81" cy="12.94" r="0.9"/><circle cx="98.69" cy="19.14" r="0.9"/><circle cx="97.58" cy="25.34" r="0.9"/><circle cx="96.46" cy="31.54" r="0.9"/><circle cx="95.35" cy="37.74" r="0.9"/><circle cx="94.23" cy="43.94" r="0.9"/><circle cx="93.12" cy="50.14" r="0.9"/><circle cx="92" cy="56.35" r="0.9"/><circle cx="90.89" cy="62.55" r="0.9"/><circle cx="89.77" cy="68.75" r="0.9"/><circle cx="88.65" cy="74.95" r="0.9"/><circle cx="87.54" cy="81.15" r="0.9"/><circle cx="86.42" cy="87.35" r="0.9"/><circle cx="85.31" cy="93.55" r="0.9"/><circle cx="84.19" cy="99.75" r="0.9"/><circle cx="104.94" cy="20.27" r="0.9"/><circle cx="103.83" cy="26.47" r="0.9"/><circle cx="102.71" cy="32.67" r="0.9"/><circle cx="101.6" cy="38.87" r="0.9"/><circle cx="100.48" cy="45.07" r="0.9"/><circle cx="99.37" cy="51.27" r="0.9"/><circle cx="98.25" cy="57.47" r="0.9"/><circle cx="97.14" cy="63.67" r="0.9"/><circle cx="96.02" cy="69.87" r="0.9"/><circle cx="94.9" cy="76.07" r="0.9"/><circle cx="93.79" cy="82.27" r="0.9"/><circle cx="92.67" cy="88.47" r="0.9"/><circle cx="91.56" cy="94.67" r="0.9"/><circle cx="90.44" cy="100.87" r="0.9"/><circle cx="104.5" cy="58.59" r="0.9"/><circle cx="103.38" cy="64.79" r="0.9"/><circle cx="102.27" cy="71" r="0.9"/><circle cx="101.15" cy="77.2" r="0.9"/><circle cx="100.04" cy="83.4" r="0.9"/><circle cx="98.92" cy="89.6" r="0.9"/><circle cx="97.81" cy="95.8" r="0.9"/><circle cx="96.69" cy="102" r="0.9"/><circle cx="105.17" cy="90.72" r="0.9"/><circle cx="104.06" cy="96.92" r="0.9"/><circle cx="102.94" cy="103.12" r="0.9"/></g>
<g fill="none" stroke="#1a1a1a" stroke-width="1.3" stroke-linecap="round">
<path d="M4.9 0 C5.85 0.67 7.75 2.15 10.6 4 C13.45 5.85 17.73 9.32 22 11.1 C26.27 12.88 31.8 13.87 36.2 14.7 C40.6 15.53 44 15.28 48.4 16.1 C52.8 16.92 57.87 18.58 62.6 19.6 C67.33 20.62 72.5 21.57 76.8 22.2 C81.1 22.83 85.13 23.27 88.4 23.4 C91.67 23.53 94.4 23.28 96.4 23 C98.4 22.72 98.8 21.83 100.4 21.7 C102 21.57 105.07 22.12 106 22.2"/>
<path d="M0 21.8 C1.77 22.98 6.47 26.88 10.6 28.9 C14.73 30.92 20.05 32.48 24.8 33.9 C29.55 35.32 35.17 36.45 39.1 37.4 C43.03 38.35 44.48 38.77 48.4 39.6 C52.32 40.43 57.87 42.05 62.6 42.4 C67.33 42.75 72.53 42.42 76.8 41.7 C81.07 40.98 85.12 39.52 88.2 38.1 C91.28 36.68 93.4 34.97 95.3 33.2 C97.2 31.43 98.75 29.37 99.6 27.5 C100.45 25.63 100.27 22.92 100.4 22"/>
<path d="M0 35.3 C1.77 35.9 6.47 37.25 10.6 38.9 C14.73 40.55 20.53 42.95 24.8 45.2 C29.07 47.45 33.12 50.43 36.2 52.4 C39.28 54.37 40.45 54.82 43.3 57 C46.15 59.18 49.37 62.18 53.3 65.5 C57.23 68.82 63.45 73.58 66.9 76.9 C70.35 80.22 71.63 82.08 74 85.4 C76.37 88.72 78.97 93.47 81.1 96.8 C83.23 100.13 85.85 103.97 86.8 105.4"/>
<path d="M0 49.5 C0.82 50.22 3.13 52.32 4.9 53.8 C6.67 55.28 7.75 56.68 10.6 58.4 C13.45 60.12 18.45 61.73 22 64.1 C25.55 66.47 29.05 69.28 31.9 72.6 C34.75 75.92 36.48 80.2 39.1 84 C41.72 87.8 45.12 92.57 47.6 95.4 C50.08 98.23 52.53 99.33 54 101 C55.47 102.67 56 104.67 56.4 105.4"/>
<path d="M0 71.9 C1.77 72.27 6.93 72.55 10.6 74.1 C14.27 75.65 18.2 78.6 22 81.2 C25.8 83.8 30.32 87.1 33.4 89.7 C36.48 92.3 38.62 94.18 40.5 96.8 C42.38 99.42 44 103.97 44.7 105.4"/>
<path d="M0 95.4 C1.07 95.75 4.4 95.83 6.4 97.5 C8.4 99.17 11.07 104.08 12 105.4"/>
<path d="M81.7 0 C82.25 0.87 83.97 3.37 85 5.2 C86.03 7.03 86.8 9.27 87.9 11 C89 12.73 90.15 14.22 91.6 15.6 C93.05 16.98 95.13 18.28 96.6 19.3 C98.07 20.32 99.77 21.3 100.4 21.7"/>
<path d="M101.2 0 C101.47 0.87 102.38 3.23 102.8 5.2 C103.22 7.17 103.7 9.87 103.7 11.8 C103.7 13.73 103.28 15.28 102.8 16.8 C102.32 18.32 101.13 20.22 100.8 20.9"/>
<path d="M100.4 21.7 C101.33 21.02 105.07 18.28 106 17.6"/>
</g>
<rect x="0" y="0" width="106" height="105.5" fill="none" stroke="#1a1a1a" stroke-width="1.6"/>
</g>
<g transform="translate(193.4 120.4)">
<g fill="#d43c5c"><circle cx="1.9" cy="2.3" r="0.9"/><circle cx="1.9" cy="8.66" r="0.9"/><circle cx="1.9" cy="15.02" r="0.9"/><circle cx="1.9" cy="21.38" r="0.9"/><circle cx="1.9" cy="27.74" r="0.9"/><circle cx="1.9" cy="34.1" r="0.9"/><circle cx="1.9" cy="40.46" r="0.9"/><circle cx="1.9" cy="46.82" r="0.9"/><circle cx="1.9" cy="53.18" r="0.9"/><circle cx="1.9" cy="59.54" r="0.9"/><circle cx="1.9" cy="65.9" r="0.9"/><circle cx="1.9" cy="72.26" r="0.9"/><circle cx="1.9" cy="78.62" r="0.9"/><circle cx="1.9" cy="84.98" r="0.9"/><circle cx="1.9" cy="91.34" r="0.9"/><circle cx="1.9" cy="97.7" r="0.9"/><circle cx="1.9" cy="104.06" r="0.9"/><circle cx="8.3" cy="2.3" r="0.9"/><circle cx="8.3" cy="8.66" r="0.9"/><circle cx="8.3" cy="15.02" r="0.9"/><circle cx="8.3" cy="21.38" r="0.9"/><circle cx="8.3" cy="27.74" r="0.9"/><circle cx="8.3" cy="34.1" r="0.9"/><circle cx="8.3" cy="40.46" r="0.9"/><circle cx="8.3" cy="46.82" r="0.9"/><circle cx="8.3" cy="53.18" r="0.9"/><circle cx="8.3" cy="59.54" r="0.9"/><circle cx="8.3" cy="65.9" r="0.9"/><circle cx="8.3" cy="72.26" r="0.9"/><circle cx="8.3" cy="78.62" r="0.9"/><circle cx="8.3" cy="84.98" r="0.9"/><circle cx="8.3" cy="91.34" r="0.9"/><circle cx="8.3" cy="97.7" r="0.9"/><circle cx="8.3" cy="104.06" r="0.9"/><circle cx="14.7" cy="2.3" r="0.9"/><circle cx="14.7" cy="8.66" r="0.9"/><circle cx="14.7" cy="15.02" r="0.9"/><circle cx="14.7" cy="21.38" r="0.9"/><circle cx="14.7" cy="27.74" r="0.9"/><circle cx="14.7" cy="34.1" r="0.9"/><circle cx="14.7" cy="40.46" r="0.9"/><circle cx="14.7" cy="46.82" r="0.9"/><circle cx="14.7" cy="53.18" r="0.9"/><circle cx="14.7" cy="59.54" r="0.9"/><circle cx="14.7" cy="65.9" r="0.9"/><circle cx="14.7" cy="72.26" r="0.9"/><circle cx="14.7" cy="78.62" r="0.9"/><circle cx="14.7" cy="84.98" r="0.9"/><circle cx="14.7" cy="91.34" r="0.9"/><circle cx="14.7" cy="97.7" r="0.9"/><circle cx="14.7" cy="104.06" r="0.9"/><circle cx="21.1" cy="2.3" r="0.9"/><circle cx="21.1" cy="8.66" r="0.9"/><circle cx="21.1" cy="15.02" r="0.9"/><circle cx="21.1" cy="21.38" r="0.9"/><circle cx="21.1" cy="27.74" r="0.9"/><circle cx="21.1" cy="34.1" r="0.9"/><circle cx="21.1" cy="40.46" r="0.9"/><circle cx="21.1" cy="46.82" r="0.9"/><circle cx="21.1" cy="53.18" r="0.9"/><circle cx="21.1" cy="59.54" r="0.9"/><circle cx="21.1" cy="65.9" r="0.9"/><circle cx="21.1" cy="72.26" r="0.9"/><circle cx="21.1" cy="78.62" r="0.9"/><circle cx="21.1" cy="84.98" r="0.9"/><circle cx="21.1" cy="91.34" r="0.9"/><circle cx="21.1" cy="97.7" r="0.9"/><circle cx="21.1" cy="104.06" r="0.9"/><circle cx="27.5" cy="2.3" r="0.9"/><circle cx="27.5" cy="8.66" r="0.9"/><circle cx="27.5" cy="15.02" r="0.9"/><circle cx="27.5" cy="21.38" r="0.9"/><circle cx="27.5" cy="27.74" r="0.9"/><circle cx="27.5" cy="34.1" r="0.9"/><circle cx="27.5" cy="40.46" r="0.9"/><circle cx="27.5" cy="46.82" r="0.9"/><circle cx="27.5" cy="53.18" r="0.9"/><circle cx="27.5" cy="59.54" r="0.9"/><circle cx="27.5" cy="65.9" r="0.9"/><circle cx="27.5" cy="72.26" r="0.9"/><circle cx="27.5" cy="78.62" r="0.9"/><circle cx="27.5" cy="84.98" r="0.9"/><circle cx="27.5" cy="91.34" r="0.9"/><circle cx="27.5" cy="97.7" r="0.9"/><circle cx="27.5" cy="104.06" r="0.9"/><circle cx="33.9" cy="2.3" r="0.9"/><circle cx="33.9" cy="8.66" r="0.9"/><circle cx="33.9" cy="15.02" r="0.9"/><circle cx="33.9" cy="21.38" r="0.9"/><circle cx="33.9" cy="27.74" r="0.9"/><circle cx="33.9" cy="34.1" r="0.9"/><circle cx="33.9" cy="40.46" r="0.9"/><circle cx="33.9" cy="46.82" r="0.9"/><circle cx="33.9" cy="53.18" r="0.9"/><circle cx="33.9" cy="59.54" r="0.9"/><circle cx="33.9" cy="65.9" r="0.9"/><circle cx="33.9" cy="72.26" r="0.9"/><circle cx="33.9" cy="78.62" r="0.9"/><circle cx="33.9" cy="84.98" r="0.9"/><circle cx="33.9" cy="91.34" r="0.9"/><circle cx="33.9" cy="97.7" r="0.9"/><circle cx="33.9" cy="104.06" r="0.9"/><circle cx="40.3" cy="2.3" r="0.9"/><circle cx="40.3" cy="8.66" r="0.9"/><circle cx="40.3" cy="15.02" r="0.9"/><circle cx="40.3" cy="21.38" r="0.9"/><circle cx="40.3" cy="27.74" r="0.9"/><circle cx="40.3" cy="34.1" r="0.9"/><circle cx="40.3" cy="40.46" r="0.9"/><circle cx="40.3" cy="46.82" r="0.9"/><circle cx="40.3" cy="53.18" r="0.9"/><circle cx="40.3" cy="59.54" r="0.9"/><circle cx="40.3" cy="65.9" r="0.9"/><circle cx="40.3" cy="72.26" r="0.9"/><circle cx="40.3" cy="78.62" r="0.9"/><circle cx="40.3" cy="84.98" r="0.9"/><circle cx="40.3" cy="91.34" r="0.9"/><circle cx="40.3" cy="97.7" r="0.9"/><circle cx="40.3" cy="104.06" r="0.9"/><circle cx="46.7" cy="2.3" r="0.9"/><circle cx="46.7" cy="8.66" r="0.9"/><circle cx="46.7" cy="15.02" r="0.9"/><circle cx="46.7" cy="21.38" r="0.9"/><circle cx="46.7" cy="27.74" r="0.9"/><circle cx="46.7" cy="34.1" r="0.9"/><circle cx="46.7" cy="40.46" r="0.9"/><circle cx="46.7" cy="46.82" r="0.9"/><circle cx="46.7" cy="53.18" r="0.9"/><circle cx="46.7" cy="59.54" r="0.9"/><circle cx="46.7" cy="65.9" r="0.9"/><circle cx="46.7" cy="72.26" r="0.9"/><circle cx="46.7" cy="78.62" r="0.9"/><circle cx="46.7" cy="84.98" r="0.9"/><circle cx="46.7" cy="91.34" r="0.9"/><circle cx="46.7" cy="97.7" r="0.9"/><circle cx="46.7" cy="104.06" r="0.9"/><circle cx="53.1" cy="2.3" r="0.9"/><circle cx="53.1" cy="8.66" r="0.9"/><circle cx="53.1" cy="15.02" r="0.9"/><circle cx="53.1" cy="21.38" r="0.9"/><circle cx="53.1" cy="27.74" r="0.9"/><circle cx="53.1" cy="34.1" r="0.9"/><circle cx="53.1" cy="40.46" r="0.9"/><circle cx="53.1" cy="46.82" r="0.9"/><circle cx="53.1" cy="53.18" r="0.9"/><circle cx="53.1" cy="59.54" r="0.9"/><circle cx="53.1" cy="65.9" r="0.9"/><circle cx="53.1" cy="72.26" r="0.9"/><circle cx="53.1" cy="78.62" r="0.9"/><circle cx="53.1" cy="84.98" r="0.9"/><circle cx="53.1" cy="91.34" r="0.9"/><circle cx="53.1" cy="97.7" r="0.9"/><circle cx="53.1" cy="104.06" r="0.9"/><circle cx="59.5" cy="2.3" r="0.9"/><circle cx="59.5" cy="8.66" r="0.9"/><circle cx="59.5" cy="15.02" r="0.9"/><circle cx="59.5" cy="21.38" r="0.9"/><circle cx="59.5" cy="27.74" r="0.9"/><circle cx="59.5" cy="34.1" r="0.9"/><circle cx="59.5" cy="40.46" r="0.9"/><circle cx="59.5" cy="46.82" r="0.9"/><circle cx="59.5" cy="53.18" r="0.9"/><circle cx="59.5" cy="59.54" r="0.9"/><circle cx="59.5" cy="65.9" r="0.9"/><circle cx="59.5" cy="72.26" r="0.9"/><circle cx="59.5" cy="78.62" r="0.9"/><circle cx="59.5" cy="84.98" r="0.9"/><circle cx="59.5" cy="91.34" r="0.9"/><circle cx="59.5" cy="97.7" r="0.9"/><circle cx="59.5" cy="104.06" r="0.9"/><circle cx="65.9" cy="2.3" r="0.9"/><circle cx="65.9" cy="8.66" r="0.9"/><circle cx="65.9" cy="15.02" r="0.9"/><circle cx="65.9" cy="21.38" r="0.9"/><circle cx="65.9" cy="27.74" r="0.9"/><circle cx="65.9" cy="34.1" r="0.9"/><circle cx="65.9" cy="40.46" r="0.9"/><circle cx="65.9" cy="46.82" r="0.9"/><circle cx="65.9" cy="53.18" r="0.9"/><circle cx="65.9" cy="59.54" r="0.9"/><circle cx="65.9" cy="65.9" r="0.9"/><circle cx="65.9" cy="72.26" r="0.9"/><circle cx="65.9" cy="78.62" r="0.9"/><circle cx="65.9" cy="84.98" r="0.9"/><circle cx="65.9" cy="91.34" r="0.9"/><circle cx="65.9" cy="97.7" r="0.9"/><circle cx="65.9" cy="104.06" r="0.9"/><circle cx="72.3" cy="2.3" r="0.9"/><circle cx="72.3" cy="8.66" r="0.9"/><circle cx="72.3" cy="15.02" r="0.9"/><circle cx="72.3" cy="21.38" r="0.9"/><circle cx="72.3" cy="27.74" r="0.9"/><circle cx="72.3" cy="34.1" r="0.9"/><circle cx="72.3" cy="40.46" r="0.9"/><circle cx="72.3" cy="46.82" r="0.9"/><circle cx="72.3" cy="53.18" r="0.9"/><circle cx="72.3" cy="59.54" r="0.9"/><circle cx="72.3" cy="65.9" r="0.9"/><circle cx="72.3" cy="72.26" r="0.9"/><circle cx="72.3" cy="78.62" r="0.9"/><circle cx="72.3" cy="84.98" r="0.9"/><circle cx="72.3" cy="91.34" r="0.9"/><circle cx="72.3" cy="97.7" r="0.9"/><circle cx="72.3" cy="104.06" r="0.9"/><circle cx="78.7" cy="2.3" r="0.9"/><circle cx="78.7" cy="8.66" r="0.9"/><circle cx="78.7" cy="15.02" r="0.9"/><circle cx="78.7" cy="21.38" r="0.9"/><circle cx="78.7" cy="27.74" r="0.9"/><circle cx="78.7" cy="34.1" r="0.9"/><circle cx="78.7" cy="40.46" r="0.9"/><circle cx="78.7" cy="46.82" r="0.9"/><circle cx="78.7" cy="53.18" r="0.9"/><circle cx="78.7" cy="59.54" r="0.9"/><circle cx="78.7" cy="65.9" r="0.9"/><circle cx="78.7" cy="72.26" r="0.9"/><circle cx="78.7" cy="78.62" r="0.9"/><circle cx="78.7" cy="84.98" r="0.9"/><circle cx="78.7" cy="91.34" r="0.9"/><circle cx="78.7" cy="97.7" r="0.9"/><circle cx="78.7" cy="104.06" r="0.9"/><circle cx="85.1" cy="2.3" r="0.9"/><circle cx="85.1" cy="8.66" r="0.9"/><circle cx="85.1" cy="15.02" r="0.9"/><circle cx="85.1" cy="21.38" r="0.9"/><circle cx="85.1" cy="27.74" r="0.9"/><circle cx="85.1" cy="34.1" r="0.9"/><circle cx="85.1" cy="40.46" r="0.9"/><circle cx="85.1" cy="46.82" r="0.9"/><circle cx="85.1" cy="53.18" r="0.9"/><circle cx="85.1" cy="59.54" r="0.9"/><circle cx="85.1" cy="65.9" r="0.9"/><circle cx="85.1" cy="72.26" r="0.9"/><circle cx="85.1" cy="78.62" r="0.9"/><circle cx="85.1" cy="84.98" r="0.9"/><circle cx="85.1" cy="91.34" r="0.9"/><circle cx="85.1" cy="97.7" r="0.9"/><circle cx="85.1" cy="104.06" r="0.9"/><circle cx="91.5" cy="2.3" r="0.9"/><circle cx="91.5" cy="8.66" r="0.9"/><circle cx="91.5" cy="15.02" r="0.9"/><circle cx="91.5" cy="21.38" r="0.9"/><circle cx="91.5" cy="27.74" r="0.9"/><circle cx="91.5" cy="34.1" r="0.9"/><circle cx="91.5" cy="40.46" r="0.9"/><circle cx="91.5" cy="46.82" r="0.9"/><circle cx="91.5" cy="53.18" r="0.9"/><circle cx="91.5" cy="59.54" r="0.9"/><circle cx="91.5" cy="65.9" r="0.9"/><circle cx="91.5" cy="72.26" r="0.9"/><circle cx="91.5" cy="78.62" r="0.9"/><circle cx="91.5" cy="84.98" r="0.9"/><circle cx="91.5" cy="91.34" r="0.9"/><circle cx="91.5" cy="97.7" r="0.9"/><circle cx="91.5" cy="104.06" r="0.9"/><circle cx="97.9" cy="2.3" r="0.9"/><circle cx="97.9" cy="8.66" r="0.9"/><circle cx="97.9" cy="15.02" r="0.9"/><circle cx="97.9" cy="21.38" r="0.9"/><circle cx="97.9" cy="27.74" r="0.9"/><circle cx="97.9" cy="34.1" r="0.9"/><circle cx="97.9" cy="40.46" r="0.9"/><circle cx="97.9" cy="46.82" r="0.9"/><circle cx="97.9" cy="53.18" r="0.9"/><circle cx="97.9" cy="59.54" r="0.9"/><circle cx="97.9" cy="65.9" r="0.9"/><circle cx="97.9" cy="72.26" r="0.9"/><circle cx="97.9" cy="78.62" r="0.9"/><circle cx="97.9" cy="84.98" r="0.9"/><circle cx="97.9" cy="91.34" r="0.9"/><circle cx="97.9" cy="97.7" r="0.9"/><circle cx="97.9" cy="104.06" r="0.9"/><circle cx="104.3" cy="2.3" r="0.9"/><circle cx="104.3" cy="8.66" r="0.9"/><circle cx="104.3" cy="15.02" r="0.9"/><circle cx="104.3" cy="21.38" r="0.9"/><circle cx="104.3" cy="27.74" r="0.9"/><circle cx="104.3" cy="34.1" r="0.9"/><circle cx="104.3" cy="40.46" r="0.9"/><circle cx="104.3" cy="46.82" r="0.9"/><circle cx="104.3" cy="53.18" r="0.9"/><circle cx="104.3" cy="59.54" r="0.9"/><circle cx="104.3" cy="65.9" r="0.9"/><circle cx="104.3" cy="72.26" r="0.9"/><circle cx="104.3" cy="78.62" r="0.9"/><circle cx="104.3" cy="84.98" r="0.9"/><circle cx="104.3" cy="91.34" r="0.9"/><circle cx="104.3" cy="97.7" r="0.9"/><circle cx="104.3" cy="104.06" r="0.9"/></g>
<g fill="none" stroke="#1a1a1a" stroke-width="1.3" stroke-linecap="round">
<path d="M4.9 0 C5.85 0.67 7.75 2.15 10.6 4 C13.45 5.85 17.73 9.32 22 11.1 C26.27 12.88 31.8 13.87 36.2 14.7 C40.6 15.53 44 15.28 48.4 16.1 C52.8 16.92 57.87 18.58 62.6 19.6 C67.33 20.62 72.5 21.57 76.8 22.2 C81.1 22.83 85.13 23.27 88.4 23.4 C91.67 23.53 94.4 23.28 96.4 23 C98.4 22.72 98.8 21.83 100.4 21.7 C102 21.57 105.07 22.12 106 22.2"/>
<path d="M0 21.8 C1.77 22.98 6.47 26.88 10.6 28.9 C14.73 30.92 20.05 32.48 24.8 33.9 C29.55 35.32 35.17 36.45 39.1 37.4 C43.03 38.35 44.48 38.77 48.4 39.6 C52.32 40.43 57.87 42.05 62.6 42.4 C67.33 42.75 72.53 42.42 76.8 41.7 C81.07 40.98 85.12 39.52 88.2 38.1 C91.28 36.68 93.4 34.97 95.3 33.2 C97.2 31.43 98.75 29.37 99.6 27.5 C100.45 25.63 100.27 22.92 100.4 22"/>
<path d="M0 35.3 C1.77 35.9 6.47 37.25 10.6 38.9 C14.73 40.55 20.53 42.95 24.8 45.2 C29.07 47.45 33.12 50.43 36.2 52.4 C39.28 54.37 40.45 54.82 43.3 57 C46.15 59.18 49.37 62.18 53.3 65.5 C57.23 68.82 63.45 73.58 66.9 76.9 C70.35 80.22 71.63 82.08 74 85.4 C76.37 88.72 78.97 93.47 81.1 96.8 C83.23 100.13 85.85 103.97 86.8 105.4"/>
<path d="M0 49.5 C0.82 50.22 3.13 52.32 4.9 53.8 C6.67 55.28 7.75 56.68 10.6 58.4 C13.45 60.12 18.45 61.73 22 64.1 C25.55 66.47 29.05 69.28 31.9 72.6 C34.75 75.92 36.48 80.2 39.1 84 C41.72 87.8 45.12 92.57 47.6 95.4 C50.08 98.23 52.53 99.33 54 101 C55.47 102.67 56 104.67 56.4 105.4"/>
<path d="M0 71.9 C1.77 72.27 6.93 72.55 10.6 74.1 C14.27 75.65 18.2 78.6 22 81.2 C25.8 83.8 30.32 87.1 33.4 89.7 C36.48 92.3 38.62 94.18 40.5 96.8 C42.38 99.42 44 103.97 44.7 105.4"/>
<path d="M0 95.4 C1.07 95.75 4.4 95.83 6.4 97.5 C8.4 99.17 11.07 104.08 12 105.4"/>
<path d="M81.7 0 C82.25 0.87 83.97 3.37 85 5.2 C86.03 7.03 86.8 9.27 87.9 11 C89 12.73 90.15 14.22 91.6 15.6 C93.05 16.98 95.13 18.28 96.6 19.3 C98.07 20.32 99.77 21.3 100.4 21.7"/>
<path d="M101.2 0 C101.47 0.87 102.38 3.23 102.8 5.2 C103.22 7.17 103.7 9.87 103.7 11.8 C103.7 13.73 103.28 15.28 102.8 16.8 C102.32 18.32 101.13 20.22 100.8 20.9"/>
<path d="M100.4 21.7 C101.33 21.02 105.07 18.28 106 17.6"/>
</g>
<rect x="0" y="0" width="106" height="105.1" fill="none" stroke="#1a1a1a" stroke-width="1.6"/>
</g>
<g transform="translate(362.7 118.3)">
<g fill="#d43c5c"><circle cx="1.03" cy="75.44" r="0.9"/><circle cx="2.05" cy="81.66" r="0.9"/><circle cx="3.07" cy="87.87" r="0.9"/><circle cx="4.09" cy="94.09" r="0.9"/><circle cx="5.1" cy="100.31" r="0.9"/><circle cx="1.29" cy="37.09" r="0.9"/><circle cx="2.31" cy="43.31" r="0.9"/><circle cx="3.33" cy="49.53" r="0.9"/><circle cx="4.34" cy="55.75" r="0.9"/><circle cx="5.36" cy="61.96" r="0.9"/><circle cx="6.38" cy="68.18" r="0.9"/><circle cx="7.4" cy="74.4" r="0.9"/><circle cx="8.42" cy="80.61" r="0.9"/><circle cx="9.43" cy="86.83" r="0.9"/><circle cx="10.45" cy="93.05" r="0.9"/><circle cx="11.47" cy="99.27" r="0.9"/><circle cx="2.56" cy="4.97" r="0.9"/><circle cx="3.58" cy="11.18" r="0.9"/><circle cx="4.6" cy="17.4" r="0.9"/><circle cx="5.62" cy="23.62" r="0.9"/><circle cx="6.64" cy="29.83" r="0.9"/><circle cx="7.65" cy="36.05" r="0.9"/><circle cx="8.67" cy="42.27" r="0.9"/><circle cx="9.69" cy="48.49" r="0.9"/><circle cx="10.71" cy="54.7" r="0.9"/><circle cx="11.73" cy="60.92" r="0.9"/><circle cx="12.74" cy="67.14" r="0.9"/><circle cx="13.76" cy="73.35" r="0.9"/><circle cx="14.78" cy="79.57" r="0.9"/><circle cx="15.8" cy="85.79" r="0.9"/><circle cx="16.82" cy="92.01" r="0.9"/><circle cx="17.84" cy="98.22" r="0.9"/><circle cx="18.85" cy="104.44" r="0.9"/><circle cx="8.93" cy="3.92" r="0.9"/><circle cx="9.95" cy="10.14" r="0.9"/><circle cx="10.97" cy="16.36" r="0.9"/><circle cx="11.98" cy="22.57" r="0.9"/><circle cx="13" cy="28.79" r="0.9"/><circle cx="14.02" cy="35.01" r="0.9"/><circle cx="15.04" cy="41.23" r="0.9"/><circle cx="16.06" cy="47.44" r="0.9"/><circle cx="17.07" cy="53.66" r="0.9"/><circle cx="18.09" cy="59.88" r="0.9"/><circle cx="19.11" cy="66.1" r="0.9"/><circle cx="20.13" cy="72.31" r="0.9"/><circle cx="21.15" cy="78.53" r="0.9"/><circle cx="22.16" cy="84.75" r="0.9"/><circle cx="23.18" cy="90.96" r="0.9"/><circle cx="24.2" cy="97.18" r="0.9"/><circle cx="25.22" cy="103.4" r="0.9"/><circle cx="15.29" cy="2.88" r="0.9"/><circle cx="16.31" cy="9.1" r="0.9"/><circle cx="17.33" cy="15.32" r="0.9"/><circle cx="18.35" cy="21.53" r="0.9"/><circle cx="19.37" cy="27.75" r="0.9"/><circle cx="20.38" cy="33.97" r="0.9"/><circle cx="21.4" cy="40.18" r="0.9"/><circle cx="22.42" cy="46.4" r="0.9"/><circle cx="23.44" cy="52.62" r="0.9"/><circle cx="24.46" cy="58.84" r="0.9"/><circle cx="25.48" cy="65.05" r="0.9"/><circle cx="26.49" cy="71.27" r="0.9"/><circle cx="27.51" cy="77.49" r="0.9"/><circle cx="28.53" cy="83.7" r="0.9"/><circle cx="29.55" cy="89.92" r="0.9"/><circle cx="30.57" cy="96.14" r="0.9"/><circle cx="31.58" cy="102.36" r="0.9"/><circle cx="21.66" cy="1.84" r="0.9"/><circle cx="22.68" cy="8.06" r="0.9"/><circle cx="23.7" cy="14.27" r="0.9"/><circle cx="24.71" cy="20.49" r="0.9"/><circle cx="25.73" cy="26.71" r="0.9"/><circle cx="26.75" cy="32.92" r="0.9"/><circle cx="27.77" cy="39.14" r="0.9"/><circle cx="28.79" cy="45.36" r="0.9"/><circle cx="29.8" cy="51.58" r="0.9"/><circle cx="30.82" cy="57.79" r="0.9"/><circle cx="31.84" cy="64.01" r="0.9"/><circle cx="32.86" cy="70.23" r="0.9"/><circle cx="33.88" cy="76.44" r="0.9"/><circle cx="34.89" cy="82.66" r="0.9"/><circle cx="35.91" cy="88.88" r="0.9"/><circle cx="36.93" cy="95.1" r="0.9"/><circle cx="37.95" cy="101.31" r="0.9"/><circle cx="29.04" cy="7.01" r="0.9"/><circle cx="30.06" cy="13.23" r="0.9"/><circle cx="31.08" cy="19.45" r="0.9"/><circle cx="32.1" cy="25.67" r="0.9"/><circle cx="33.12" cy="31.88" r="0.9"/><circle cx="34.13" cy="38.1" r="0.9"/><circle cx="35.15" cy="44.32" r="0.9"/><circle cx="36.17" cy="50.53" r="0.9"/><circle cx="37.19" cy="56.75" r="0.9"/><circle cx="38.21" cy="62.97" r="0.9"/><circle cx="39.22" cy="69.19" r="0.9"/><circle cx="40.24" cy="75.4" r="0.9"/><circle cx="41.26" cy="81.62" r="0.9"/><circle cx="42.28" cy="87.84" r="0.9"/><circle cx="43.3" cy="94.05" r="0.9"/><circle cx="44.31" cy="100.27" r="0.9"/><circle cx="35.41" cy="5.97" r="0.9"/><circle cx="36.43" cy="12.19" r="0.9"/><circle cx="37.44" cy="18.41" r="0.9"/><circle cx="38.46" cy="24.62" r="0.9"/><circle cx="39.48" cy="30.84" r="0.9"/><circle cx="40.5" cy="37.06" r="0.9"/><circle cx="41.52" cy="43.27" r="0.9"/><circle cx="42.53" cy="49.49" r="0.9"/><circle cx="43.55" cy="55.71" r="0.9"/><circle cx="44.57" cy="61.93" r="0.9"/><circle cx="45.59" cy="68.14" r="0.9"/><circle cx="46.61" cy="74.36" r="0.9"/><circle cx="47.63" cy="80.58" r="0.9"/><circle cx="48.64" cy="86.79" r="0.9"/><circle cx="49.66" cy="93.01" r="0.9"/><circle cx="50.68" cy="99.23" r="0.9"/><circle cx="41.77" cy="4.93" r="0.9"/><circle cx="42.79" cy="11.15" r="0.9"/><circle cx="43.81" cy="17.36" r="0.9"/><circle cx="44.83" cy="23.58" r="0.9"/><circle cx="45.85" cy="29.8" r="0.9"/><circle cx="46.86" cy="36.01" r="0.9"/><circle cx="47.88" cy="42.23" r="0.9"/><circle cx="48.9" cy="48.45" r="0.9"/><circle cx="49.92" cy="54.67" r="0.9"/><circle cx="50.94" cy="60.88" r="0.9"/><circle cx="51.95" cy="67.1" r="0.9"/><circle cx="52.97" cy="73.32" r="0.9"/><circle cx="53.99" cy="79.54" r="0.9"/><circle cx="55.01" cy="85.75" r="0.9"/><circle cx="56.03" cy="91.97" r="0.9"/><circle cx="57.04" cy="98.19" r="0.9"/><circle cx="58.06" cy="104.4" r="0.9"/><circle cx="48.14" cy="3.89" r="0.9"/><circle cx="49.16" cy="10.1" r="0.9"/><circle cx="50.17" cy="16.32" r="0.9"/><circle cx="51.19" cy="22.54" r="0.9"/><circle cx="52.21" cy="28.76" r="0.9"/><circle cx="53.23" cy="34.97" r="0.9"/><circle cx="54.25" cy="41.19" r="0.9"/><circle cx="55.27" cy="47.41" r="0.9"/><circle cx="56.28" cy="53.62" r="0.9"/><circle cx="57.3" cy="59.84" r="0.9"/><circle cx="58.32" cy="66.06" r="0.9"/><circle cx="59.34" cy="72.28" r="0.9"/><circle cx="60.36" cy="78.49" r="0.9"/><circle cx="61.37" cy="84.71" r="0.9"/><circle cx="62.39" cy="90.93" r="0.9"/><circle cx="63.41" cy="97.14" r="0.9"/><circle cx="64.43" cy="103.36" r="0.9"/><circle cx="54.5" cy="2.84" r="0.9"/><circle cx="55.52" cy="9.06" r="0.9"/><circle cx="56.54" cy="15.28" r="0.9"/><circle cx="57.56" cy="21.5" r="0.9"/><circle cx="58.58" cy="27.71" r="0.9"/><circle cx="59.59" cy="33.93" r="0.9"/><circle cx="60.61" cy="40.15" r="0.9"/><circle cx="61.63" cy="46.36" r="0.9"/><circle cx="62.65" cy="52.58" r="0.9"/><circle cx="63.67" cy="58.8" r="0.9"/><circle cx="64.68" cy="65.02" r="0.9"/><circle cx="65.7" cy="71.23" r="0.9"/><circle cx="66.72" cy="77.45" r="0.9"/><circle cx="67.74" cy="83.67" r="0.9"/><circle cx="68.76" cy="89.88" r="0.9"/><circle cx="69.78" cy="96.1" r="0.9"/><circle cx="70.79" cy="102.32" r="0.9"/><circle cx="60.87" cy="1.8" r="0.9"/><circle cx="61.89" cy="8.02" r="0.9"/><circle cx="62.91" cy="14.24" r="0.9"/><circle cx="63.92" cy="20.45" r="0.9"/><circle cx="64.94" cy="26.67" r="0.9"/><circle cx="65.96" cy="32.89" r="0.9"/><circle cx="66.98" cy="39.1" r="0.9"/><circle cx="68" cy="45.32" r="0.9"/><circle cx="69.01" cy="51.54" r="0.9"/><circle cx="70.03" cy="57.76" r="0.9"/><circle cx="71.05" cy="63.97" r="0.9"/><circle cx="72.07" cy="70.19" r="0.9"/><circle cx="73.09" cy="76.41" r="0.9"/><circle cx="74.1" cy="82.63" r="0.9"/><circle cx="75.12" cy="88.84" r="0.9"/><circle cx="76.14" cy="95.06" r="0.9"/><circle cx="77.16" cy="101.28" r="0.9"/><circle cx="68.25" cy="6.98" r="0.9"/><circle cx="69.27" cy="13.19" r="0.9"/><circle cx="70.29" cy="19.41" r="0.9"/><circle cx="71.31" cy="25.63" r="0.9"/><circle cx="72.32" cy="31.85" r="0.9"/><circle cx="73.34" cy="38.06" r="0.9"/><circle cx="74.36" cy="44.28" r="0.9"/><circle cx="75.38" cy="50.5" r="0.9"/><circle cx="76.4" cy="56.71" r="0.9"/><circle cx="77.42" cy="62.93" r="0.9"/><circle cx="78.43" cy="69.15" r="0.9"/><circle cx="79.45" cy="75.37" r="0.9"/><circle cx="80.47" cy="81.58" r="0.9"/><circle cx="81.49" cy="87.8" r="0.9"/><circle cx="82.51" cy="94.02" r="0.9"/><circle cx="83.52" cy="100.23" r="0.9"/><circle cx="74.62" cy="5.93" r="0.9"/><circle cx="75.64" cy="12.15" r="0.9"/><circle cx="76.65" cy="18.37" r="0.9"/><circle cx="77.67" cy="24.59" r="0.9"/><circle cx="78.69" cy="30.8" r="0.9"/><circle cx="79.71" cy="37.02" r="0.9"/><circle cx="80.73" cy="43.24" r="0.9"/><circle cx="81.74" cy="49.45" r="0.9"/><circle cx="82.76" cy="55.67" r="0.9"/><circle cx="83.78" cy="61.89" r="0.9"/><circle cx="84.8" cy="68.11" r="0.9"/><circle cx="85.82" cy="74.32" r="0.9"/><circle cx="86.83" cy="80.54" r="0.9"/><circle cx="87.85" cy="86.76" r="0.9"/><circle cx="88.87" cy="92.97" r="0.9"/><circle cx="89.89" cy="99.19" r="0.9"/><circle cx="80.98" cy="4.89" r="0.9"/><circle cx="82" cy="11.11" r="0.9"/><circle cx="83.02" cy="17.33" r="0.9"/><circle cx="84.04" cy="23.54" r="0.9"/><circle cx="85.06" cy="29.76" r="0.9"/><circle cx="86.07" cy="35.98" r="0.9"/><circle cx="87.09" cy="42.2" r="0.9"/><circle cx="88.11" cy="48.41" r="0.9"/><circle cx="89.13" cy="54.63" r="0.9"/><circle cx="90.15" cy="60.85" r="0.9"/><circle cx="91.16" cy="67.06" r="0.9"/><circle cx="92.18" cy="73.28" r="0.9"/><circle cx="93.2" cy="79.5" r="0.9"/><circle cx="94.22" cy="85.72" r="0.9"/><circle cx="95.24" cy="91.93" r="0.9"/><circle cx="96.25" cy="98.15" r="0.9"/><circle cx="97.27" cy="104.37" r="0.9"/><circle cx="87.35" cy="3.85" r="0.9"/><circle cx="88.37" cy="10.07" r="0.9"/><circle cx="89.38" cy="16.28" r="0.9"/><circle cx="90.4" cy="22.5" r="0.9"/><circle cx="91.42" cy="28.72" r="0.9"/><circle cx="92.44" cy="34.94" r="0.9"/><circle cx="93.46" cy="41.15" r="0.9"/><circle cx="94.47" cy="47.37" r="0.9"/><circle cx="95.49" cy="53.59" r="0.9"/><circle cx="96.51" cy="59.8" r="0.9"/><circle cx="97.53" cy="66.02" r="0.9"/><circle cx="98.55" cy="72.24" r="0.9"/><circle cx="99.57" cy="78.46" r="0.9"/><circle cx="100.58" cy="84.67" r="0.9"/><circle cx="101.6" cy="90.89" r="0.9"/><circle cx="102.62" cy="97.11" r="0.9"/><circle cx="103.64" cy="103.32" r="0.9"/><circle cx="93.71" cy="2.81" r="0.9"/><circle cx="94.73" cy="9.02" r="0.9"/><circle cx="95.75" cy="15.24" r="0.9"/><circle cx="96.77" cy="21.46" r="0.9"/><circle cx="97.79" cy="27.68" r="0.9"/><circle cx="98.8" cy="33.89" r="0.9"/><circle cx="99.82" cy="40.11" r="0.9"/><circle cx="100.84" cy="46.33" r="0.9"/><circle cx="101.86" cy="52.54" r="0.9"/><circle cx="102.88" cy="58.76" r="0.9"/><circle cx="103.89" cy="64.98" r="0.9"/><circle cx="104.91" cy="71.2" r="0.9"/><circle cx="100.08" cy="1.76" r="0.9"/><circle cx="101.1" cy="7.98" r="0.9"/><circle cx="102.11" cy="14.2" r="0.9"/><circle cx="103.13" cy="20.42" r="0.9"/><circle cx="104.15" cy="26.63" r="0.9"/><circle cx="105.17" cy="32.85" r="0.9"/></g>
<g fill="none" stroke="#1a1a1a" stroke-width="1.3" stroke-linecap="round">
<path d="M4.9 0 C5.85 0.67 7.75 2.15 10.6 4 C13.45 5.85 17.73 9.32 22 11.1 C26.27 12.88 31.8 13.87 36.2 14.7 C40.6 15.53 44 15.28 48.4 16.1 C52.8 16.92 57.87 18.58 62.6 19.6 C67.33 20.62 72.5 21.57 76.8 22.2 C81.1 22.83 85.13 23.27 88.4 23.4 C91.67 23.53 94.4 23.28 96.4 23 C98.4 22.72 98.8 21.83 100.4 21.7 C102 21.57 105.07 22.12 106 22.2"/>
<path d="M0 21.8 C1.77 22.98 6.47 26.88 10.6 28.9 C14.73 30.92 20.05 32.48 24.8 33.9 C29.55 35.32 35.17 36.45 39.1 37.4 C43.03 38.35 44.48 38.77 48.4 39.6 C52.32 40.43 57.87 42.05 62.6 42.4 C67.33 42.75 72.53 42.42 76.8 41.7 C81.07 40.98 85.12 39.52 88.2 38.1 C91.28 36.68 93.4 34.97 95.3 33.2 C97.2 31.43 98.75 29.37 99.6 27.5 C100.45 25.63 100.27 22.92 100.4 22"/>
<path d="M0 35.3 C1.77 35.9 6.47 37.25 10.6 38.9 C14.73 40.55 20.53 42.95 24.8 45.2 C29.07 47.45 33.12 50.43 36.2 52.4 C39.28 54.37 40.45 54.82 43.3 57 C46.15 59.18 49.37 62.18 53.3 65.5 C57.23 68.82 63.45 73.58 66.9 76.9 C70.35 80.22 71.63 82.08 74 85.4 C76.37 88.72 78.97 93.47 81.1 96.8 C83.23 100.13 85.85 103.97 86.8 105.4"/>
<path d="M0 49.5 C0.82 50.22 3.13 52.32 4.9 53.8 C6.67 55.28 7.75 56.68 10.6 58.4 C13.45 60.12 18.45 61.73 22 64.1 C25.55 66.47 29.05 69.28 31.9 72.6 C34.75 75.92 36.48 80.2 39.1 84 C41.72 87.8 45.12 92.57 47.6 95.4 C50.08 98.23 52.53 99.33 54 101 C55.47 102.67 56 104.67 56.4 105.4"/>
<path d="M0 71.9 C1.77 72.27 6.93 72.55 10.6 74.1 C14.27 75.65 18.2 78.6 22 81.2 C25.8 83.8 30.32 87.1 33.4 89.7 C36.48 92.3 38.62 94.18 40.5 96.8 C42.38 99.42 44 103.97 44.7 105.4"/>
<path d="M0 95.4 C1.07 95.75 4.4 95.83 6.4 97.5 C8.4 99.17 11.07 104.08 12 105.4"/>
<path d="M81.7 0 C82.25 0.87 83.97 3.37 85 5.2 C86.03 7.03 86.8 9.27 87.9 11 C89 12.73 90.15 14.22 91.6 15.6 C93.05 16.98 95.13 18.28 96.6 19.3 C98.07 20.32 99.77 21.3 100.4 21.7"/>
<path d="M101.2 0 C101.47 0.87 102.38 3.23 102.8 5.2 C103.22 7.17 103.7 9.87 103.7 11.8 C103.7 13.73 103.28 15.28 102.8 16.8 C102.32 18.32 101.13 20.22 100.8 20.9"/>
<path d="M100.4 21.7 C101.33 21.02 105.07 18.28 106 17.6"/>
</g>
<rect x="0" y="0" width="106.1" height="105.7" fill="none" stroke="#1a1a1a" stroke-width="1.6"/>
</g>
<g clip-path="url(#cpa)">
<rect x="20.8" y="0" width="106.7" height="106.6" fill="#c25a28"/>
<path d="M20.8 3.0 21.0 3.0 21.3 2.8 22.0 2.0 22.7 1.5 24.5 0.3 24.7 0.0 M20.8 7.3 21.0 7.1 21.8 6.0 22.3 5.4 24.0 3.9 26.8 1.8 27.1 1.2 27.3 0.0 M20.8 21.8 21.1 21.6 21.2 21.1 21.0 20.5 20.8 20.3 M20.8 25.8 21.0 25.7 22.0 24.6 23.5 23.6 23.7 23.1 23.0 18.9 22.4 16.4 22.2 15.1 22.2 13.9 22.2 12.9 22.4 12.2 22.6 11.2 23.6 9.2 24.0 8.4 24.8 7.4 26.3 6.0 29.1 3.7 29.3 3.2 29.6 1.5 30.1 0.0 M20.8 37.7 21.0 37.5 21.9 36.2 22.0 35.7 21.5 34.5 21.0 33.6 20.8 33.5 M20.8 76.5 21.0 76.2 22.0 73.9 22.8 72.7 23.0 72.2 23.0 71.7 22.5 70.8 22.0 69.2 21.7 67.8 21.2 64.1 21.1 61.6 21.4 58.3 21.8 55.9 22.7 53.4 23.3 52.2 23.4 51.9 23.1 50.6 22.0 47.2 21.3 44.4 21.0 43.6 20.8 43.3 M22.1 107.0 22.2 104.0 22.2 102.3 21.4 97.6 21.5 96.1 21.4 95.3 21.0 94.0 20.8 93.6 M25.3 107.0 25.5 104.0 25.5 102.0 24.8 98.6 24.7 96.1 23.8 94.3 23.4 92.4 22.9 82.2 23.1 79.9 23.6 78.0 24.9 74.7 25.3 74.1 25.9 73.2 26.1 72.7 26.0 72.2 25.0 70.0 24.4 67.8 24.0 65.8 23.9 64.1 24.0 62.3 24.3 60.3 25.0 57.7 26.0 54.6 26.0 54.1 25.2 51.6 23.9 46.9 23.4 44.4 23.1 42.5 23.2 41.0 23.5 39.5 24.1 38.2 24.9 37.2 25.0 37.0 25.0 36.7 24.6 35.7 23.8 34.4 22.9 32.5 22.5 31.3 22.4 30.0 22.5 29.3 22.7 28.8 23.1 28.1 23.5 27.6 24.3 26.8 26.3 25.6 26.5 25.3 26.6 25.1 26.6 24.8 26.2 23.6 25.8 22.1 25.4 17.6 25.4 16.1 25.5 14.9 25.8 13.7 26.1 12.4 27.0 10.4 28.2 8.7 29.4 7.4 30.5 6.5 31.2 5.9 31.6 5.5 32.2 3.0 32.8 1.5 33.4 0.2 33.4 0.0 M28.2 107.0 28.9 102.5 29.0 101.0 29.0 100.0 28.8 98.8 28.3 97.6 27.0 94.6 26.6 93.6 26.4 92.6 26.2 90.1 26.1 83.2 26.3 81.2 26.7 79.2 27.8 76.0 28.3 74.7 28.9 73.7 29.0 73.2 28.9 72.7 28.2 71.5 27.6 70.0 27.0 68.0 26.6 66.0 26.7 64.1 26.9 62.8 27.4 61.3 28.0 60.0 29.3 57.8 29.5 57.1 29.2 56.1 27.8 53.1 27.0 50.9 26.3 48.4 25.8 45.9 25.6 43.7 25.7 42.7 25.9 41.7 26.3 40.5 26.8 39.5 27.8 38.0 27.9 37.5 27.7 36.7 26.9 35.5 26.1 33.8 25.7 32.5 25.6 31.5 25.8 30.8 25.9 30.3 26.6 29.3 27.5 28.5 29.6 27.3 29.8 27.1 29.9 26.8 29.8 26.6 29.1 24.8 28.6 23.3 28.0 19.4 27.9 17.9 28.1 16.6 28.3 15.4 28.8 13.9 29.6 11.9 30.7 10.2 31.9 8.9 33.7 7.4 34.1 7.0 34.8 4.5 36.6 0.5 36.7 0.0 M31.0 107.0 31.1 106.5 31.8 104.0 31.7 102.3 31.5 101.0 31.2 99.6 29.8 94.8 29.2 92.6 29.0 89.9 28.9 85.9 29.1 83.2 29.5 81.2 30.9 77.0 31.8 75.0 31.9 74.2 31.7 73.5 30.4 71.0 29.6 69.0 29.2 67.3 29.1 65.5 29.3 64.1 29.9 62.6 31.0 60.9 32.2 59.4 32.4 59.1 32.4 58.8 32.1 57.6 31.5 56.1 30.0 52.6 29.2 50.6 28.6 48.7 28.3 46.9 28.2 45.7 28.2 44.7 28.4 43.7 28.6 42.9 29.1 41.7 30.2 40.0 30.8 39.2 30.9 38.7 30.7 38.0 30.0 36.7 29.2 35.0 28.9 33.8 28.9 32.8 29.1 31.8 29.7 30.8 30.7 29.8 32.4 28.5 32.6 28.3 32.7 28.1 32.6 27.6 32.2 26.8 31.8 25.3 30.6 19.9 30.6 18.6 30.6 17.6 30.8 16.4 31.1 15.1 32.0 13.2 33.0 11.7 34.2 10.3 36.1 8.7 36.6 8.2 36.8 7.7 37.0 6.7 37.3 5.7 39.4 0.5 39.5 0.0 M33.8 107.0 33.7 103.3 33.6 101.3 33.2 99.3 32.3 95.1 31.8 92.6 31.5 89.6 31.5 86.9 31.7 84.7 32.2 82.7 32.6 81.4 33.4 79.7 34.2 77.5 34.8 76.5 35.0 76.0 34.5 74.7 32.8 71.3 32.1 69.5 31.7 67.8 31.6 66.3 31.8 64.8 32.3 63.6 33.2 62.2 34.9 60.3 35.0 59.8 34.1 56.6 32.6 52.4 32.0 50.6 31.6 48.7 31.4 46.9 31.6 45.4 32.1 44.2 33.2 42.4 33.7 41.5 34.6 40.7 34.7 40.5 34.7 40.2 34.6 39.7 33.7 38.7 33.1 37.7 32.4 36.5 32.0 35.3 31.8 34.0 31.9 33.3 32.1 32.8 32.7 31.8 34.1 30.3 35.1 29.5 35.3 29.3 35.4 29.0 35.3 28.5 34.8 27.6 34.5 26.1 34.2 23.8 33.6 20.1 33.5 18.9 33.5 17.9 33.7 16.9 33.9 15.9 34.5 14.4 35.4 12.9 36.5 11.7 38.6 9.7 39.0 9.2 39.2 8.7 39.3 7.7 39.7 6.2 41.2 2.2 41.7 0.5 41.8 0.0 M35.8 107.0 35.5 100.5 34.6 94.6 34.3 91.6 34.2 89.1 34.2 87.1 34.5 85.4 35.0 83.8 36.1 81.4 37.1 79.2 37.7 78.3 37.8 78.0 37.7 77.5 37.5 76.7 36.9 75.6 35.8 73.0 34.8 70.3 34.3 68.3 34.3 66.8 34.5 65.5 35.0 64.3 35.8 63.3 36.7 62.3 37.4 61.6 37.6 61.1 35.4 52.4 35.2 50.4 35.3 48.7 35.6 47.7 36.1 46.7 37.4 44.9 38.1 43.7 38.9 42.7 39.1 42.2 38.9 41.7 38.6 41.2 36.7 39.0 35.7 37.5 35.1 36.0 34.9 34.8 35.1 33.8 35.6 32.8 36.7 31.5 37.9 30.5 38.1 30.0 38.0 29.5 37.5 28.3 37.2 27.1 36.7 22.6 36.7 20.9 36.7 19.1 36.8 17.9 37.1 16.6 37.6 15.1 38.4 13.7 39.6 12.2 41.2 10.4 41.5 9.9 41.6 8.7 42.0 7.0 43.9 0.5 44.0 0.0 M37.8 107.0 37.4 94.3 37.4 90.4 37.5 88.1 37.7 86.6 38.2 85.2 39.6 81.7 40.0 80.9 40.5 80.2 40.7 79.9 40.7 79.7 40.4 78.7 39.2 75.7 38.1 72.7 37.7 71.0 37.4 69.3 37.4 68.3 37.4 67.5 37.6 66.8 37.9 66.0 38.6 65.0 39.7 63.9 40.5 63.3 40.7 63.1 40.7 62.8 40.0 60.8 38.7 55.9 38.4 53.9 38.4 52.1 38.7 50.6 39.2 49.5 39.9 48.4 41.0 46.9 41.9 45.4 42.6 44.4 42.8 43.9 42.7 43.4 42.3 42.7 40.4 40.2 39.0 38.0 38.5 36.7 38.3 36.0 38.3 35.5 38.5 34.5 38.9 33.8 39.7 32.8 40.9 31.7 41.1 31.3 41.1 30.8 40.5 29.8 40.0 28.3 39.8 27.1 39.5 24.1 39.5 22.6 39.5 21.1 39.8 19.4 40.0 17.9 40.5 16.1 41.3 14.4 42.2 12.9 43.5 11.2 43.8 10.7 43.9 8.9 44.2 7.4 46.2 0.0 M40.0 107.0 39.9 104.3 39.9 101.3 40.1 98.3 40.4 95.6 41.3 89.6 42.0 85.2 42.3 84.2 42.7 83.2 42.9 82.7 43.4 82.1 43.5 81.7 43.2 80.7 42.8 79.7 42.2 77.7 41.3 74.5 40.9 72.2 40.9 70.3 41.1 69.0 41.7 67.8 42.8 66.3 43.9 65.3 44.0 65.0 43.9 64.5 43.2 62.6 42.4 59.8 41.8 57.6 41.4 55.6 41.4 53.9 41.7 52.6 42.2 51.4 42.9 50.4 44.5 48.2 45.4 46.5 45.9 45.9 46.0 45.4 45.8 44.7 44.4 42.5 42.6 39.5 42.1 38.2 41.8 37.2 41.8 36.2 42.0 35.3 42.3 34.8 43.0 33.8 43.8 33.0 44.1 32.5 43.9 31.8 43.3 30.5 42.8 28.5 42.3 24.6 42.3 22.3 42.4 20.9 42.7 19.4 43.2 17.6 43.6 16.1 44.5 14.2 45.1 13.2 46.0 11.9 46.3 11.2 46.3 9.7 46.6 7.9 48.2 1.5 48.7 0.0 M42.4 107.0 42.3 104.5 42.3 102.5 42.4 100.8 42.6 99.1 43.1 96.8 44.5 91.9 45.0 87.9 45.2 86.4 45.7 84.9 46.3 83.9 46.2 82.9 45.6 81.7 45.2 80.4 44.5 78.0 44.2 75.5 44.2 74.2 44.2 73.2 44.6 71.7 45.1 70.5 45.6 69.7 46.4 68.8 47.2 68.0 47.4 67.8 47.4 67.5 47.3 66.8 46.8 65.8 45.8 62.8 45.2 60.6 44.8 57.8 44.7 56.6 44.8 55.6 45.0 54.4 45.6 52.9 46.3 51.6 47.7 49.4 48.4 48.2 48.9 47.6 49.1 47.2 49.0 46.9 48.9 46.4 45.9 40.7 45.4 39.5 45.2 38.5 45.2 37.2 45.5 36.2 46.0 35.3 47.0 34.0 47.2 33.5 47.2 33.3 47.1 32.8 46.3 31.5 45.9 30.3 45.7 29.3 45.1 25.1 45.1 23.8 45.2 22.3 45.6 19.4 46.0 17.9 46.5 16.4 47.4 14.4 48.9 12.2 49.0 11.7 48.9 10.7 49.2 8.7 50.5 3.0 51.4 0.0 M45.0 107.0 44.9 102.8 45.0 101.3 45.3 99.8 45.8 97.8 46.9 95.1 47.3 93.6 48.5 88.1 48.7 87.4 49.4 86.1 49.4 85.9 49.1 85.2 47.9 82.4 47.3 80.4 47.0 78.2 47.0 77.2 47.1 76.2 47.5 74.7 48.1 73.5 49.1 72.2 50.5 71.0 50.7 70.5 50.7 70.0 50.5 69.3 48.8 64.1 48.4 62.3 48.1 60.3 48.2 58.3 48.5 56.4 49.2 54.4 50.2 52.1 51.2 50.1 51.7 49.4 51.8 48.9 51.4 47.4 49.0 41.7 48.7 40.7 48.5 39.7 48.5 38.5 48.8 37.2 49.4 36.0 50.3 34.8 50.5 34.3 50.3 33.8 49.7 32.8 49.3 32.0 48.9 31.0 48.6 30.0 48.1 27.3 48.0 25.8 47.9 23.8 48.0 21.8 48.2 20.4 48.5 18.9 49.2 16.6 49.7 15.6 50.3 14.6 51.7 12.9 51.7 11.4 52.1 9.4 53.3 3.2 53.7 1.5 54.2 0.0 M47.9 107.0 47.9 102.8 48.0 101.5 48.3 100.3 48.6 99.3 50.4 94.3 51.5 90.6 51.9 89.6 52.4 88.9 52.5 88.4 52.3 87.6 51.2 85.4 50.3 83.2 49.9 81.7 49.7 80.2 49.8 78.5 50.1 77.5 50.4 76.7 50.8 75.9 51.4 75.2 53.0 73.7 53.2 73.5 53.3 73.0 53.2 72.0 52.8 68.8 51.7 64.5 51.5 63.3 51.3 61.8 51.4 60.3 51.9 58.1 52.9 55.4 53.8 53.4 54.4 52.1 55.0 51.4 55.0 51.1 54.9 50.6 54.0 48.4 52.8 45.4 52.0 42.9 51.6 41.2 51.6 39.7 51.7 39.0 51.9 38.2 52.7 36.7 53.1 36.2 53.8 35.5 54.0 35.0 53.8 34.6 53.1 33.6 52.1 31.8 51.8 30.8 51.2 28.5 50.9 27.3 50.8 25.6 50.8 23.3 50.8 21.4 51.2 19.1 51.7 17.4 52.6 15.9 54.1 13.9 54.4 13.4 54.5 12.9 54.7 10.9 55.8 4.7 56.5 1.5 57.0 0.0 M51.0 107.0 51.3 102.8 51.7 100.5 52.0 99.1 53.9 93.1 54.4 91.9 55.1 91.0 55.2 90.6 55.1 89.9 54.0 87.4 53.0 84.9 52.7 83.4 52.5 82.2 52.6 80.7 52.8 79.9 53.2 79.2 53.7 78.5 54.3 77.8 55.3 77.2 55.5 76.7 55.3 73.7 55.4 70.0 55.2 68.0 54.5 64.1 54.5 62.8 54.5 61.6 55.0 59.6 55.8 57.3 56.8 55.4 57.5 54.4 58.1 53.6 58.2 53.1 58.2 52.6 55.5 45.9 55.0 44.2 54.7 42.7 54.6 41.0 54.9 39.5 55.2 38.7 55.8 37.8 57.0 36.2 57.1 36.0 57.1 35.7 56.8 34.8 56.1 33.5 55.4 32.0 54.5 29.8 54.1 28.5 53.9 27.1 53.7 25.6 53.7 23.1 53.8 21.4 54.1 19.5 54.6 17.9 55.4 16.6 56.3 15.4 57.1 14.4 57.3 14.0 57.2 12.4 57.5 9.9 58.8 3.2 59.6 0.0 M54.2 107.0 54.4 105.5 54.9 100.8 55.6 97.1 56.1 95.3 56.5 94.3 57.0 93.6 57.7 93.1 57.7 92.8 57.5 92.1 56.6 89.6 55.9 87.6 55.6 85.9 55.7 84.7 55.8 84.1 56.0 83.7 56.5 83.1 57.0 82.8 57.5 82.6 58.5 82.8 58.8 82.7 58.9 82.4 58.9 81.9 57.9 78.7 57.6 77.0 57.5 76.0 57.5 74.2 57.8 72.0 57.8 69.8 57.8 68.0 57.6 64.3 57.7 62.3 58.0 60.8 58.6 59.1 59.6 57.3 60.9 55.4 61.0 54.9 60.9 53.9 60.2 51.6 58.3 45.9 57.7 43.7 57.7 42.0 58.0 40.5 58.7 39.0 59.9 37.2 60.0 37.0 60.1 36.5 59.9 35.7 57.7 30.3 57.1 28.5 56.9 27.3 56.7 26.1 56.7 24.6 56.8 22.8 57.0 20.9 57.5 19.1 58.4 17.4 59.7 15.4 60.0 14.9 60.0 14.2 59.9 12.2 60.0 10.2 62.0 0.0 M57.1 107.0 57.8 101.0 58.3 98.3 58.7 97.3 59.0 96.6 59.4 96.1 60.0 95.7 60.1 95.3 60.0 94.6 59.0 91.9 58.5 90.4 58.3 88.9 58.4 87.9 58.7 87.1 59.3 86.7 59.8 86.5 61.3 86.5 61.4 86.1 61.4 85.2 61.1 83.7 60.8 80.7 60.3 77.0 60.2 75.7 60.2 72.0 60.8 66.0 61.2 63.8 61.8 62.0 62.5 60.1 63.8 57.6 63.9 57.1 63.8 56.4 63.2 54.4 61.2 46.2 60.9 43.9 60.9 42.7 61.1 41.5 61.7 40.0 62.8 38.0 62.8 37.2 62.7 36.7 62.2 35.5 60.0 29.0 59.6 27.1 59.5 25.1 59.7 22.6 60.3 20.4 61.1 18.4 62.6 15.6 62.8 15.1 62.8 14.6 62.6 13.4 62.5 12.2 62.5 10.2 62.8 8.7 63.6 4.5 64.3 0.0 M60.2 107.0 60.9 102.8 61.5 100.8 61.8 100.4 62.0 100.3 62.5 100.2 62.8 100.1 62.9 99.6 62.9 99.1 62.4 97.1 61.5 94.3 61.1 92.8 61.0 91.9 61.0 90.9 61.3 90.4 61.8 90.1 62.5 90.0 63.5 90.1 63.7 90.1 63.9 89.9 64.0 89.6 63.4 86.1 63.4 84.2 63.6 79.2 63.5 77.2 63.1 74.7 63.0 73.2 63.0 71.7 63.2 70.0 63.6 68.0 64.2 66.3 65.0 64.8 66.7 61.8 67.3 60.6 67.4 60.1 67.2 59.1 66.1 56.4 65.3 53.6 64.5 49.9 64.0 46.2 63.9 44.4 64.1 42.9 64.5 41.5 65.5 39.2 65.6 38.7 65.5 38.2 64.7 36.0 62.9 30.3 62.4 27.8 62.2 25.6 62.3 23.3 62.7 21.1 63.4 19.4 65.0 16.1 65.2 15.4 65.3 14.9 65.1 13.7 64.9 12.2 64.9 10.4 65.2 8.7 66.0 4.2 66.5 0.0 M65.1 107.0 65.7 106.7 66.0 106.4 66.0 105.8 65.6 104.8 65.5 103.5 65.0 101.8 64.0 96.8 63.8 95.3 63.8 94.8 64.0 94.3 64.2 94.0 64.5 93.9 65.0 93.8 65.5 93.8 66.5 94.0 66.7 93.9 66.9 93.6 66.9 93.1 66.1 90.4 65.8 87.9 65.9 85.4 66.4 79.7 66.4 78.2 65.9 73.5 65.9 72.2 66.0 71.3 66.4 69.5 67.1 68.0 68.0 66.8 70.5 63.6 70.7 63.3 70.8 62.8 70.5 61.6 68.7 57.1 68.1 55.4 67.5 53.4 67.1 51.4 66.7 47.9 66.7 46.4 66.8 45.2 67.1 43.2 68.3 40.0 68.4 39.2 68.2 38.7 67.6 37.5 67.0 35.7 65.7 32.0 65.0 28.8 64.8 27.3 64.7 25.8 64.8 23.6 65.0 22.5 65.3 21.4 66.0 19.4 67.5 16.4 67.7 15.9 67.7 15.4 67.4 12.7 67.4 10.4 67.6 8.7 68.3 5.2 68.9 0.0 M68.1 107.0 66.9 101.5 66.7 99.8 66.8 98.8 67.0 98.5 67.2 98.1 67.7 97.8 68.7 97.7 70.2 97.8 70.5 97.7 70.5 97.6 70.4 97.1 69.3 94.6 68.9 93.3 68.5 91.4 68.4 89.6 68.4 87.1 68.9 81.7 69.1 76.2 69.3 74.0 69.7 72.3 70.3 71.0 71.1 69.8 73.7 66.5 74.0 66.0 74.1 65.5 74.0 64.8 73.1 62.1 70.6 55.9 70.1 54.4 69.8 52.9 69.6 51.1 69.4 49.2 69.4 47.7 69.5 46.2 69.9 43.9 70.4 42.5 71.2 40.7 71.3 40.2 71.3 40.0 69.1 35.0 68.3 32.8 67.7 30.0 67.4 27.1 67.5 24.3 67.8 22.1 68.5 20.1 70.0 16.9 70.2 16.1 70.0 14.6 69.9 13.2 69.8 10.9 70.0 9.4 70.7 5.2 71.3 0.0 M70.3 107.0 70.1 103.8 70.3 103.0 70.6 102.3 71.1 101.8 71.9 101.4 73.4 101.0 74.4 101.0 74.6 100.8 74.1 99.6 71.9 94.8 71.4 93.1 71.1 91.4 71.0 89.6 71.1 87.6 71.7 81.4 72.0 79.4 72.6 77.2 73.3 75.5 74.2 74.0 76.2 71.2 77.3 69.5 77.5 69.0 77.6 68.5 77.5 67.5 77.0 65.8 75.5 62.1 73.5 57.1 73.0 55.6 72.6 54.1 72.4 52.4 72.2 50.4 72.2 48.4 72.3 46.9 72.5 45.7 72.9 44.2 73.5 42.5 74.0 41.5 74.2 41.0 74.1 40.5 71.5 34.5 70.9 32.8 70.3 30.5 70.1 28.3 70.1 25.6 70.6 22.8 71.3 20.4 72.7 17.1 72.8 16.6 72.4 13.7 72.4 11.2 73.8 0.0 M74.1 107.0 74.2 106.8 74.4 106.5 74.9 106.2 75.4 106.1 76.7 106.0 76.9 105.9 77.1 105.5 77.2 104.0 77.0 101.0 76.6 98.8 76.1 96.8 74.7 93.1 74.3 91.1 74.2 89.9 74.2 88.6 74.5 85.6 74.7 84.2 75.2 82.2 76.0 80.2 76.7 78.9 79.1 75.0 80.4 72.2 80.9 71.5 81.0 71.0 80.3 67.8 79.9 66.5 79.2 64.8 76.8 59.1 76.0 56.9 75.6 55.1 75.4 53.6 75.2 51.9 75.2 49.9 75.4 47.9 75.8 45.4 76.4 43.7 77.0 42.2 77.1 41.7 77.1 41.2 76.9 40.7 76.5 39.7 73.5 32.3 72.9 30.3 72.7 28.5 72.6 27.3 72.7 26.1 73.2 23.6 73.9 21.3 75.3 18.4 75.5 17.9 75.4 17.1 75.1 15.4 74.9 14.2 74.8 11.7 75.0 8.4 76.2 0.0 M80.3 107.0 79.9 105.5 79.8 104.0 79.8 100.0 79.7 97.8 79.3 95.3 78.5 91.6 78.3 89.9 78.2 88.4 78.3 86.9 78.7 84.9 79.4 82.9 80.3 81.2 82.3 78.2 83.0 77.0 84.0 74.5 84.1 73.7 84.0 73.0 83.1 68.8 82.5 66.5 81.8 64.5 80.1 61.1 79.5 59.6 78.9 57.8 78.6 56.4 78.3 54.9 78.3 53.4 78.3 51.6 78.5 49.9 79.0 46.4 79.8 43.4 80.2 42.5 80.2 42.0 78.6 38.2 76.3 32.3 75.7 30.3 75.5 28.5 75.4 27.6 75.5 26.3 76.0 24.1 76.7 22.2 78.2 19.1 78.4 18.6 78.3 17.9 77.8 15.9 77.4 14.2 77.2 12.4 77.2 10.9 77.4 8.4 78.5 0.0 M85.5 107.0 85.4 106.8 84.7 106.0 84.4 105.5 84.0 103.8 83.4 99.6 82.5 95.1 82.2 93.1 82.0 90.6 82.0 88.1 82.3 85.9 82.6 84.9 83.0 83.9 83.9 82.2 86.5 78.2 87.1 77.0 87.2 76.5 87.2 76.0 86.1 70.8 85.0 66.0 84.1 63.7 82.0 59.3 81.6 58.1 81.3 56.9 81.1 55.1 81.2 53.1 82.2 45.9 82.8 42.9 82.8 42.2 82.7 41.7 82.1 40.5 81.1 38.0 79.5 33.0 78.7 30.3 78.4 28.3 78.5 26.6 78.9 24.6 79.6 22.8 81.1 19.9 81.3 19.1 81.2 18.6 80.4 16.1 79.9 13.9 79.6 12.4 79.5 11.2 79.6 8.7 80.7 0.0 M99.3 107.0 99.0 106.5 97.6 105.0 97.0 104.5 96.3 104.0 94.8 103.3 91.1 102.3 90.1 101.7 89.3 101.1 88.2 99.8 87.1 97.7 86.2 95.6 85.8 93.6 85.6 92.1 85.7 90.4 85.9 88.6 86.2 86.9 86.6 85.6 87.2 84.2 89.6 79.3 89.7 78.7 89.7 77.5 89.6 75.2 89.3 73.0 88.3 68.5 86.9 63.8 86.2 62.1 84.7 58.6 84.4 57.6 84.2 56.6 84.1 55.4 84.1 54.1 84.7 49.7 85.0 45.4 85.3 43.2 85.3 42.5 85.1 41.8 84.5 40.5 83.9 38.7 83.0 36.0 81.9 31.8 81.4 29.0 81.4 27.1 81.7 25.3 82.2 23.8 83.7 20.4 83.8 19.9 83.6 18.6 82.1 13.7 81.9 12.4 81.8 11.2 81.8 9.9 81.8 8.4 82.6 1.5 82.8 0.0 M105.2 107.0 105.1 106.8 104.0 106.0 103.5 105.5 100.0 100.9 98.5 99.3 97.8 98.7 97.0 98.2 93.7 96.6 92.9 96.1 92.4 95.6 91.8 94.9 91.4 94.3 91.1 93.6 90.9 92.8 90.9 91.9 91.0 90.6 91.7 87.1 92.4 82.9 92.1 78.9 92.1 74.2 92.0 72.5 91.8 70.8 91.3 69.0 89.2 62.1 87.9 58.1 87.4 56.4 87.3 55.1 87.3 53.9 87.5 49.7 87.6 44.4 87.8 42.7 87.6 42.0 86.9 40.5 86.3 39.0 85.5 36.2 84.6 32.3 84.2 29.3 84.2 27.3 84.5 25.6 84.9 24.1 86.0 20.9 86.1 20.1 86.1 19.6 84.4 14.2 84.1 12.7 84.0 11.2 83.9 9.7 84.1 7.9 84.7 1.7 85.0 0.0 M110.6 107.0 110.3 106.5 109.4 105.5 104.0 98.2 98.8 90.1 97.8 88.4 96.2 85.4 95.4 83.4 94.8 81.4 94.6 80.2 94.5 78.7 94.8 73.0 94.7 71.5 94.5 70.0 94.1 68.0 92.7 63.8 91.5 59.6 90.9 57.1 90.6 55.4 90.5 53.4 90.4 48.9 90.2 44.9 90.4 42.9 90.3 42.5 90.2 42.0 89.5 40.7 88.9 39.2 88.1 37.0 87.4 34.0 87.0 31.0 86.8 28.5 87.0 26.6 87.4 24.8 88.4 21.6 88.5 20.9 88.3 19.9 87.4 17.4 86.7 14.9 86.3 13.2 86.1 11.4 86.1 9.7 86.3 7.4 86.8 3.0 87.3 0.0 M113.6 107.0 113.3 106.5 112.5 105.5 108.9 99.9 107.9 98.6 105.7 96.0 104.6 94.6 100.8 88.9 99.7 86.9 98.8 85.2 98.0 83.2 97.5 81.4 97.3 79.9 97.2 78.5 97.4 72.5 97.2 70.0 96.8 67.5 94.6 60.8 94.1 58.6 93.7 56.6 93.4 53.9 93.2 48.2 92.9 44.9 93.0 42.2 92.9 41.7 92.3 40.7 91.5 39.2 90.6 37.0 89.9 34.5 89.5 32.0 89.5 29.8 89.6 27.6 90.0 25.8 91.1 21.4 91.0 20.6 90.4 19.6 89.9 18.4 89.0 15.9 88.5 13.9 88.2 11.9 88.2 9.9 88.4 7.4 89.0 3.7 89.6 0.0 M117.2 107.0 117.1 106.8 115.8 105.5 114.5 103.8 113.5 102.0 111.6 98.6 110.5 96.8 109.4 95.6 106.2 92.2 104.7 90.3 103.2 88.2 102.2 86.6 101.4 85.2 100.8 83.7 100.4 82.2 100.1 80.7 99.9 78.9 99.8 71.5 99.6 68.5 99.3 67.0 98.9 65.5 96.9 59.3 96.5 57.6 96.3 56.1 96.2 53.9 96.3 49.2 95.8 45.7 95.7 44.4 95.8 43.4 96.0 42.5 96.0 42.0 94.5 39.2 93.4 36.5 92.6 34.0 92.3 32.0 92.2 30.3 92.3 28.5 92.7 26.8 93.6 22.6 93.7 21.8 93.4 20.9 92.7 19.6 92.0 18.1 91.1 15.6 90.5 13.4 90.3 11.2 90.4 9.4 90.6 7.2 91.8 0.0 M121.9 107.0 121.7 106.8 120.4 105.8 118.6 104.1 117.1 102.3 115.6 100.1 113.6 96.0 112.7 94.4 111.2 92.6 107.6 89.1 105.7 86.9 104.8 85.6 104.2 84.6 103.7 83.4 103.3 82.2 103.0 80.9 102.8 79.7 102.4 71.0 102.0 67.5 101.3 64.3 99.4 58.6 99.2 57.3 99.0 56.1 98.9 54.1 99.1 51.4 99.1 49.2 98.8 44.2 98.9 41.5 98.7 41.0 98.0 40.0 97.5 39.0 96.6 37.0 95.7 34.3 95.3 32.0 95.2 30.5 95.3 28.8 96.4 22.1 96.2 21.6 94.9 19.4 93.8 16.9 93.1 14.6 92.7 12.4 92.6 10.4 92.7 7.9 93.0 5.5 93.8 0.0 M126.2 107.0 126.1 106.8 125.8 106.5 124.9 105.8 123.7 104.5 120.3 101.3 118.8 99.6 117.6 97.6 115.8 93.6 114.8 91.9 113.4 89.9 110.1 86.1 108.7 84.4 107.6 82.7 107.0 80.9 106.4 78.0 104.8 68.0 104.3 65.5 103.7 62.8 102.2 58.1 101.8 56.1 101.7 55.1 101.7 53.1 101.8 48.2 101.6 43.4 101.7 41.0 101.5 40.5 100.1 38.5 99.4 37.0 98.7 35.0 98.2 32.8 98.1 31.3 98.1 29.8 99.1 23.3 99.1 22.6 98.8 21.8 98.0 20.6 97.3 19.4 96.4 17.4 95.5 14.9 95.0 12.4 94.9 10.2 94.9 7.7 95.1 5.5 95.8 0.0 M127.8 104.4 127.6 104.3 127.3 104.0 126.3 102.5 121.8 97.9 120.6 96.3 117.3 90.4 113.6 84.7 112.4 82.7 111.0 79.9 110.3 77.7 108.1 69.5 106.6 62.8 105.3 57.3 104.8 54.9 104.6 52.6 104.5 47.9 104.2 43.4 104.3 41.5 104.5 40.2 104.5 40.0 104.3 39.7 103.1 38.5 101.9 36.7 101.2 35.3 100.8 33.5 100.7 32.0 100.7 30.5 101.0 29.0 101.7 25.8 101.8 24.3 102.0 23.1 101.7 22.3 100.2 20.4 99.1 18.4 98.2 15.9 97.6 13.2 97.2 10.4 97.2 7.9 97.4 5.5 98.0 0.0 M127.8 99.0 127.6 98.9 127.3 98.5 126.8 97.6 126.3 96.9 122.8 93.1 121.1 91.0 119.1 88.2 117.4 85.4 115.2 81.2 114.0 78.5 113.2 76.0 111.1 69.3 110.3 65.8 109.1 59.1 108.1 54.1 107.3 49.2 106.9 45.2 106.8 42.7 106.9 40.5 107.3 39.5 107.3 39.0 107.2 38.7 107.0 38.5 105.9 37.7 104.8 36.5 103.8 34.8 103.5 34.0 103.3 33.0 103.3 31.8 103.4 30.5 104.4 26.1 104.6 24.3 104.8 23.3 104.8 23.1 104.5 22.6 103.5 21.6 102.9 20.9 102.2 19.9 101.7 18.9 101.2 17.9 100.8 16.6 100.2 13.7 99.9 10.7 99.8 7.9 99.9 5.7 100.4 1.2 100.4 0.0 M127.8 93.3 127.6 93.2 126.6 91.9 123.8 89.3 122.5 87.9 121.1 86.1 120.0 84.4 118.6 81.7 116.6 77.0 115.5 73.7 114.5 70.3 113.9 67.8 113.4 65.3 112.5 59.1 111.7 54.9 111.2 52.4 110.1 47.9 109.6 45.4 109.4 43.2 109.4 41.2 109.6 39.5 110.1 38.2 110.2 37.7 109.9 37.3 109.0 36.7 108.4 36.2 107.5 35.3 106.8 34.0 106.3 32.0 106.3 30.8 106.4 29.5 107.1 25.1 107.4 23.8 107.5 23.3 107.2 22.8 105.6 21.4 104.4 19.6 103.6 17.9 103.2 16.1 103.0 14.2 103.0 11.9 103.7 5.5 103.8 3.5 103.7 2.2 103.2 0.0 M127.8 88.9 127.6 88.8 127.4 88.6 126.6 87.5 123.8 84.6 122.8 83.3 121.9 81.9 120.7 79.4 119.0 75.7 118.1 73.3 117.5 71.0 116.8 68.0 116.1 64.3 115.0 56.1 114.6 53.7 114.1 51.4 112.9 46.9 112.4 44.4 112.1 41.5 112.1 39.2 112.2 38.2 112.8 36.2 112.8 36.0 112.7 35.7 111.7 35.4 110.9 34.9 110.3 34.3 109.8 33.3 109.5 32.3 109.2 30.5 109.1 28.3 109.2 26.3 109.5 25.3 109.9 24.1 109.9 23.6 109.9 23.3 109.6 22.8 108.0 21.4 107.1 20.1 106.4 18.9 106.0 17.4 105.9 15.6 106.2 13.9 106.5 12.9 107.0 11.7 107.8 10.4 107.9 9.9 107.9 9.4 107.3 6.5 106.6 4.2 105.2 0.5 105.1 0.0 M127.8 84.5 127.6 84.4 127.3 84.1 126.6 83.0 125.0 81.2 124.0 79.7 123.1 78.2 122.1 76.2 121.3 74.2 120.6 72.2 120.1 70.3 119.0 65.3 118.4 62.3 118.1 60.1 117.4 53.6 115.9 46.4 114.7 38.7 114.6 36.5 115.1 34.3 114.9 34.0 113.9 34.0 113.3 33.8 112.8 33.3 112.4 32.5 112.1 31.5 111.5 29.0 111.3 27.3 111.4 26.6 111.6 25.6 111.7 25.1 112.3 24.1 112.4 23.6 112.3 23.3 112.0 22.8 110.8 21.8 110.2 21.1 109.4 19.9 109.1 18.9 108.9 17.6 109.2 16.4 109.4 15.9 109.9 15.2 110.2 14.9 110.9 14.5 111.0 14.2 110.0 10.9 109.3 7.0 108.9 5.5 108.4 3.7 107.1 0.5 107.0 0.0 M127.8 80.2 127.6 80.1 127.3 79.7 125.6 77.0 124.9 75.7 124.3 74.2 123.6 72.0 121.0 62.8 120.5 59.8 120.1 53.4 119.1 47.4 118.5 42.2 118.1 40.0 117.0 36.2 116.6 34.5 116.7 34.0 116.9 33.3 116.9 33.1 116.6 32.8 115.4 32.1 115.2 31.8 113.6 27.5 113.5 26.6 113.7 25.6 114.0 24.8 114.8 23.6 115.0 23.3 115.0 23.1 114.7 22.8 113.5 22.1 112.9 21.6 112.4 20.9 112.0 19.9 112.0 19.1 112.2 18.4 112.8 17.6 113.6 17.1 113.7 16.6 113.5 15.9 112.9 14.6 112.1 11.9 110.7 5.5 110.2 3.5 109.0 0.0 M116.7 31.0 116.8 30.8 116.6 30.6 116.4 30.7 116.5 31.0 116.7 31.0 M127.8 75.0 127.6 74.8 127.3 74.2 126.1 69.5 125.2 67.0 123.9 63.6 123.3 61.3 123.1 59.3 123.0 54.9 122.8 52.1 122.0 47.2 121.4 42.0 121.1 39.7 120.3 36.7 119.0 32.3 118.9 31.5 119.2 30.5 119.2 30.0 119.0 29.8 118.4 29.7 118.0 27.8 117.9 27.6 117.0 27.3 116.2 26.3 116.0 25.8 116.0 25.3 116.2 24.6 116.5 24.1 117.4 23.3 117.6 23.1 117.5 22.8 117.2 22.6 116.1 22.1 115.7 21.8 115.2 21.4 115.0 20.9 114.9 20.4 115.0 20.1 115.4 19.6 115.9 19.5 116.9 19.5 117.1 19.4 117.2 19.1 117.2 18.9 116.6 18.1 115.6 16.6 114.5 13.9 113.9 11.4 112.6 5.5 111.1 0.0 M118.8 27.1 118.8 26.8 118.6 26.3 118.3 26.6 118.2 27.1 118.4 27.2 118.6 27.2 118.8 27.1 M118.1 30.3 117.9 30.3 117.8 30.0 117.9 29.9 118.1 29.8 118.2 30.0 118.1 30.3 M127.8 65.6 127.6 65.4 127.1 64.3 126.5 62.1 126.2 60.8 126.1 59.1 126.2 55.1 126.1 53.1 124.6 45.7 123.8 40.0 123.4 37.5 122.6 34.3 121.2 29.0 121.2 28.3 121.4 26.8 121.4 26.1 121.3 25.8 121.1 25.4 120.7 25.1 120.5 24.8 120.4 24.3 120.3 24.1 119.9 23.9 119.1 23.9 118.9 23.8 119.3 22.8 119.9 22.4 120.1 22.1 120.1 21.8 120.0 21.6 119.9 21.4 119.6 21.3 119.4 21.4 118.6 21.8 118.2 21.6 118.1 21.4 118.2 21.1 118.9 20.8 119.1 20.6 119.3 20.1 119.3 19.9 119.1 19.6 118.5 18.9 117.9 17.6 117.0 15.1 116.5 13.4 115.5 8.7 113.4 0.0 M118.9 24.1 118.8 24.1 118.9 24.0 118.9 24.1 118.9 24.1 M119.9 27.0 119.6 26.3 119.6 26.1 119.9 25.6 120.0 25.8 120.1 26.6 120.1 26.8 119.9 27.0 M127.8 46.9 127.6 46.5 127.3 45.5 126.5 38.7 125.7 34.8 124.6 30.8 123.2 26.3 122.6 24.6 122.6 24.1 122.8 23.8 123.4 23.6 123.4 23.3 123.4 22.8 123.3 22.6 122.5 21.8 122.1 21.1 121.5 20.4 121.2 19.6 121.2 19.1 121.3 18.8 121.6 18.6 122.1 18.6 122.3 18.4 122.1 16.6 121.8 15.7 121.6 15.3 121.3 15.3 121.1 15.6 120.6 16.9 120.5 16.6 118.7 9.9 117.1 4.7 116.2 0.0 M124.9 21.8 124.8 21.8 124.9 21.8 M125.0 24.6 125.2 24.3 125.2 24.1 124.9 23.8 124.3 23.7 123.8 23.8 123.7 24.1 123.8 24.3 124.1 24.5 124.6 24.7 125.0 24.6 M127.8 21.9 126.8 21.2 125.3 20.6 125.0 20.4 124.9 20.1 124.7 18.9 124.6 14.2 124.6 14.0 124.3 13.9 123.8 14.0 123.6 13.7 123.3 12.4 123.4 10.9 123.3 9.9 123.1 9.6 122.8 9.5 122.0 9.2 121.7 8.7 121.2 7.4 120.8 6.2 120.6 4.7 120.3 0.0 M123.8 6.5 123.9 6.2 123.9 5.7 123.8 5.5 123.6 5.3 123.3 5.5 123.2 6.0 123.3 6.3 123.5 6.5 123.6 6.5 123.8 6.5 M127.8 25.2 127.6 25.1 127.1 24.5 126.3 23.8 125.9 23.3 125.8 23.1 126.8 22.8 127.8 22.4 M127.8 18.5 127.6 18.2 127.4 17.6 126.6 13.1 126.1 11.0 125.6 7.2 125.0 4.2 123.7 0.0 M127.8 5.2 127.6 4.9 127.3 4.1 126.6 1.5 126.2 0.5 126.1 0.0" fill="none" stroke="#8e320c" stroke-width="1.25" stroke-opacity="1" stroke-dasharray="2.0 0.9"/>
<path d="M20.8 1.3 21.0 1.2 22.0 0.5 22.3 0.2 22.4 0.0 M20.8 4.9 21.0 4.8 22.3 3.5 25.7 1.0 26.0 0.5 26.0 0.0 M20.8 11.7 21.0 11.2 21.8 8.7 22.3 7.8 23.2 6.7 24.2 5.7 25.7 4.5 27.5 3.1 27.9 2.7 28.1 2.2 28.6 0.0 M20.8 23.8 21.0 23.7 22.2 22.6 22.4 22.1 22.3 21.6 22.0 20.6 21.5 17.9 21.0 15.6 20.8 15.0 M20.8 53.7 21.0 53.4 21.5 52.1 22.0 51.1 22.1 50.6 22.0 49.9 21.3 47.3 21.0 46.6 20.8 46.4 M20.8 73.3 21.0 73.1 21.3 72.8 21.6 72.0 21.6 71.5 21.0 69.7 20.8 69.4 M20.8 103.8 20.8 103.8 M23.8 107.0 23.9 104.5 23.9 103.0 23.0 97.8 23.0 97.1 23.0 96.1 22.2 94.1 22.0 92.8 21.4 81.7 21.6 79.2 22.0 77.3 23.4 74.5 24.3 73.0 24.5 72.5 24.4 71.7 23.5 69.5 22.9 67.0 22.5 65.0 22.4 63.1 22.6 60.8 23.0 58.3 23.5 56.4 24.2 54.1 24.5 53.4 24.6 52.9 24.4 51.9 22.2 44.4 22.0 43.2 21.8 41.7 21.8 40.2 22.0 39.0 22.6 37.7 23.5 36.5 23.6 36.0 23.3 35.5 22.6 34.5 22.0 33.6 21.8 33.0 21.2 30.8 21.1 30.0 21.1 29.3 21.5 27.8 21.8 27.1 22.0 26.7 23.0 25.8 24.8 24.6 25.0 24.3 25.1 24.1 24.5 21.4 23.9 16.1 23.9 14.9 24.0 13.7 24.2 12.7 24.5 11.7 24.9 10.7 25.4 9.7 26.7 7.9 28.1 6.5 30.3 4.7 30.5 4.4 30.7 3.2 31.1 1.7 31.7 0.2 31.7 0.0 M26.8 107.0 27.2 103.3 27.2 102.0 27.1 100.8 26.7 97.1 25.4 94.3 25.1 93.3 24.9 92.4 24.7 90.6 24.5 82.4 24.7 80.2 25.2 78.2 26.5 75.0 27.0 74.1 27.6 73.2 27.7 73.0 26.6 70.5 25.9 68.5 25.4 66.5 25.3 64.5 25.4 63.1 25.8 61.3 26.4 59.3 27.7 56.4 27.8 55.9 27.5 54.9 26.5 52.5 25.8 50.4 25.0 47.4 24.5 44.9 24.4 42.7 24.6 41.0 25.0 39.7 25.6 38.7 26.4 37.5 26.5 37.0 26.3 36.5 25.2 34.8 24.5 33.3 24.1 31.8 24.0 30.5 24.3 29.5 24.5 29.0 25.0 28.4 26.0 27.6 27.9 26.6 28.2 26.3 28.3 26.1 28.2 25.8 27.5 23.8 27.2 22.8 26.8 19.9 26.7 18.6 26.7 17.1 26.8 15.9 27.2 14.4 27.6 12.9 28.5 11.0 29.5 9.4 30.7 8.2 32.5 6.7 32.9 6.2 33.1 5.7 33.2 4.7 33.6 3.7 34.5 1.5 35.0 0.5 35.2 0.0 M29.6 107.0 30.1 104.5 30.5 102.8 30.6 101.8 30.2 99.8 28.4 94.6 27.8 92.4 27.6 89.6 27.6 84.2 27.8 81.7 28.2 79.7 29.7 75.5 30.5 74.2 30.6 74.0 30.5 73.5 29.0 70.5 28.4 68.8 28.0 67.0 27.9 65.3 28.1 63.6 28.6 62.1 29.6 60.3 30.9 58.6 31.1 58.1 31.0 57.6 30.4 56.1 28.9 52.9 28.1 50.9 27.5 48.9 27.0 46.7 26.9 44.4 26.9 43.4 27.1 42.5 27.7 41.0 28.8 39.2 29.4 38.5 29.5 38.2 29.5 38.0 28.2 35.7 27.7 34.5 27.3 33.3 27.3 32.3 27.5 31.3 28.1 30.3 29.0 29.4 30.8 28.1 31.1 27.8 31.2 27.6 31.1 26.8 30.6 25.6 30.0 23.6 29.4 20.6 29.3 19.6 29.2 18.4 29.3 17.1 29.6 15.9 29.9 14.6 30.8 12.7 31.9 10.9 33.2 9.5 35.0 8.1 35.3 7.7 35.5 7.2 36.2 5.0 38.0 0.5 38.2 0.0 M32.4 107.0 32.7 105.9 32.8 105.3 32.6 102.0 32.2 99.6 30.9 94.6 30.6 92.6 30.3 89.6 30.2 86.4 30.4 83.9 30.8 81.9 32.6 77.2 33.4 75.5 33.5 75.0 33.3 74.5 31.8 71.5 31.0 69.5 30.5 67.8 30.3 66.0 30.5 64.5 30.9 63.3 31.9 61.8 33.4 60.1 33.6 59.6 33.6 59.1 32.9 56.6 31.2 52.4 30.6 50.6 30.1 48.9 29.8 47.4 29.7 46.4 29.8 45.4 29.9 44.4 30.1 43.7 30.7 42.4 31.8 40.7 32.6 39.7 32.7 39.5 32.7 39.2 32.5 38.7 31.6 37.5 30.9 36.0 30.5 34.8 30.3 33.5 30.5 32.8 30.6 32.3 31.2 31.3 32.2 30.3 33.8 29.0 33.9 28.8 33.8 28.1 33.3 26.3 32.7 23.1 32.3 21.4 32.1 19.9 32.0 18.6 32.0 17.6 32.4 15.6 33.1 13.9 34.2 12.2 35.2 11.1 37.4 9.2 37.8 8.7 38.6 6.0 40.6 0.5 40.7 0.0 M34.8 107.0 34.7 102.5 34.5 100.8 34.2 99.1 33.4 94.6 33.0 91.6 32.8 89.1 32.8 86.9 33.1 84.9 33.6 83.2 34.7 80.7 35.7 78.2 36.3 77.2 36.4 77.0 36.0 75.7 34.4 72.2 33.5 70.0 33.0 68.0 32.9 66.5 32.9 65.8 33.1 65.0 33.7 63.8 34.6 62.6 36.1 61.1 36.2 60.8 36.2 60.6 35.6 57.6 34.2 53.1 33.7 51.4 33.4 49.7 33.3 48.2 33.6 46.7 34.0 45.4 35.2 43.7 35.8 42.7 36.8 41.7 36.9 41.5 36.9 41.2 36.9 41.0 36.6 40.5 34.9 38.5 34.0 37.0 33.7 36.2 33.4 35.5 33.3 34.3 33.6 33.3 34.1 32.3 35.3 31.0 36.4 30.2 36.7 29.8 36.6 29.3 36.0 27.6 35.9 26.8 35.2 20.9 35.1 18.4 35.3 17.1 35.5 16.1 36.1 14.6 36.8 13.4 37.8 12.2 39.8 10.2 40.1 9.7 40.3 9.2 40.5 7.9 40.8 6.7 42.3 2.2 42.9 0.0 M36.8 107.0 36.6 100.5 36.0 95.1 35.8 92.4 35.7 89.6 35.8 87.6 36.0 86.1 36.4 84.7 38.4 80.2 39.2 79.1 39.2 78.7 39.0 77.7 37.5 74.2 36.6 71.7 36.0 69.8 35.8 68.3 35.8 67.3 35.9 66.5 36.1 65.8 36.4 65.0 37.1 64.1 38.1 63.1 38.9 62.4 39.1 62.1 39.1 61.8 38.8 60.8 37.2 54.6 36.9 52.6 36.8 51.1 37.1 49.7 37.6 48.4 38.2 47.4 39.2 46.2 40.0 44.7 40.9 43.5 41.0 43.2 40.9 42.7 40.5 42.0 38.5 39.5 37.2 37.5 36.7 36.2 36.6 35.5 36.6 35.0 36.8 34.0 37.2 33.3 38.0 32.3 39.2 31.3 39.5 30.8 39.4 30.0 38.9 28.8 38.5 27.6 38.4 26.3 38.1 23.6 38.1 21.8 38.2 20.1 38.3 18.6 38.6 17.1 39.1 15.6 39.8 14.2 40.6 12.9 42.5 10.4 42.7 9.9 42.8 8.4 43.1 7.2 45.1 0.0 M38.9 107.0 38.8 103.8 38.8 97.1 38.9 94.1 39.4 89.1 39.7 86.9 40.6 83.7 41.2 82.2 41.9 81.1 42.0 80.7 41.8 79.7 40.8 77.0 39.7 73.7 39.3 72.0 39.1 70.5 39.1 69.5 39.2 68.5 39.4 67.8 39.6 67.0 40.3 66.0 41.4 64.8 42.2 64.2 42.3 64.1 42.3 63.8 40.9 59.3 40.2 56.9 39.9 54.9 39.9 53.1 40.1 51.9 40.7 50.5 41.4 49.4 42.7 47.7 43.9 45.7 44.4 45.0 44.4 44.7 44.3 44.2 44.1 43.7 42.5 41.5 41.0 39.0 40.4 37.7 40.1 36.7 40.0 36.0 40.1 35.5 40.4 34.5 40.7 34.0 41.4 33.3 42.6 32.3 42.8 32.0 42.8 31.8 42.3 31.0 41.8 29.8 41.3 27.8 40.9 24.3 40.9 21.8 41.1 20.4 41.4 18.6 42.2 15.9 43.1 13.9 44.0 12.4 44.8 11.4 45.0 10.9 45.1 9.2 45.4 7.7 47.4 0.0 M41.2 107.0 41.0 104.8 41.0 102.5 41.2 100.3 41.4 98.3 41.8 96.3 43.0 90.4 43.4 87.1 43.7 85.6 44.1 84.2 44.7 83.2 44.8 82.7 44.7 81.9 44.2 80.7 43.6 78.9 43.0 76.2 42.6 73.7 42.6 71.7 42.9 70.4 43.4 69.2 44.3 67.8 45.5 66.5 45.7 66.3 45.7 66.0 44.8 63.6 43.5 59.1 43.1 56.9 43.0 55.9 43.0 54.9 43.3 53.6 43.9 52.2 44.5 51.1 46.2 48.7 46.8 47.4 47.4 46.7 47.6 46.2 47.4 45.7 44.3 40.2 43.8 39.0 43.5 38.0 43.5 36.7 43.8 35.7 44.5 34.5 45.4 33.5 45.7 33.0 45.6 32.5 44.6 30.5 44.2 28.8 43.7 24.8 43.6 23.6 43.7 22.3 44.2 19.4 45.0 16.4 45.9 14.4 46.4 13.4 47.3 12.2 47.5 11.7 47.6 9.9 47.9 8.4 49.6 1.5 50.0 0.0 M43.7 107.0 43.6 102.8 43.7 101.0 43.9 99.6 44.4 97.3 45.8 93.3 46.8 87.1 47.2 86.1 47.8 85.2 47.8 84.9 47.6 83.9 47.0 82.7 46.5 81.2 46.0 79.4 45.6 77.0 45.7 75.7 45.8 74.7 46.1 73.2 46.7 72.0 47.6 70.8 48.3 70.0 48.9 69.5 49.1 69.3 49.1 69.0 48.9 68.0 47.4 63.8 46.9 61.8 46.6 60.3 46.5 59.1 46.5 56.9 46.8 55.4 47.4 53.6 48.4 51.6 50.3 48.4 50.4 47.9 49.9 46.4 47.5 41.2 47.1 40.2 46.9 39.2 46.8 38.0 47.1 36.7 47.8 35.5 48.2 35.0 48.9 34.4 49.0 34.0 49.0 33.8 48.4 33.0 47.6 31.5 47.1 29.8 46.6 25.6 46.5 24.1 46.6 22.3 47.0 19.4 47.7 16.9 48.6 14.9 49.1 14.0 50.0 12.9 50.3 12.2 50.4 10.7 50.6 9.2 52.0 3.0 52.3 1.5 52.8 0.0 M46.4 107.0 46.4 102.8 46.5 101.3 46.7 100.0 47.1 98.6 48.0 96.6 48.8 94.1 50.1 89.1 50.4 88.4 50.9 87.6 51.0 87.4 51.0 87.1 50.9 86.6 49.5 83.9 48.9 82.2 48.5 80.7 48.4 79.2 48.4 78.2 48.5 77.2 48.8 76.2 49.1 75.5 49.5 74.7 50.1 74.0 51.1 73.0 51.8 72.3 52.1 71.7 52.0 70.8 51.4 68.0 50.3 64.5 49.9 62.8 49.7 61.1 49.8 59.6 50.2 57.6 51.1 54.9 52.0 52.6 53.2 50.4 53.3 49.9 52.9 48.7 50.7 42.7 50.3 41.5 50.1 40.5 50.0 39.2 50.3 38.0 50.8 36.7 51.9 35.3 52.1 34.8 51.9 34.0 50.9 32.5 50.3 31.1 50.0 30.0 49.6 28.1 49.4 26.6 49.4 25.1 49.4 23.1 49.5 21.4 49.8 18.9 50.5 16.9 51.3 15.4 51.8 14.6 52.8 13.5 53.1 12.9 53.3 10.4 54.5 4.2 55.1 1.5 55.6 0.0 M49.4 107.0 49.6 102.5 49.8 101.3 50.2 99.8 50.6 98.3 52.7 91.9 53.2 90.9 54.0 89.9 54.0 89.6 53.9 88.9 52.6 86.4 51.7 84.2 51.3 82.7 51.1 81.2 51.1 80.2 51.2 79.4 51.4 78.7 51.7 78.0 52.1 77.2 52.6 76.6 53.2 76.0 54.1 75.3 54.2 75.0 54.3 74.5 54.2 69.5 54.0 68.3 53.0 63.8 52.9 62.3 53.0 61.1 53.4 59.1 54.3 56.6 55.1 54.9 56.5 52.6 56.6 52.1 56.5 51.6 55.0 47.9 54.2 45.9 53.5 43.7 53.2 42.0 53.1 40.5 53.2 39.7 53.4 39.0 54.0 37.7 55.3 36.0 55.4 35.7 55.5 35.3 55.3 34.8 54.4 33.3 53.8 32.0 53.3 30.8 52.6 28.5 52.4 27.1 52.2 25.3 52.2 22.8 52.3 21.1 52.6 19.3 53.2 17.6 53.8 16.4 54.5 15.4 55.6 14.2 55.8 13.7 56.0 11.4 56.3 9.2 57.5 3.2 58.3 0.0 M52.6 107.0 53.2 101.3 53.4 99.8 53.8 98.1 54.6 95.3 55.1 93.8 55.6 92.8 55.8 92.6 56.3 92.1 56.4 91.9 56.2 90.9 55.3 88.4 54.6 86.4 54.2 84.9 54.1 83.7 54.1 82.9 54.2 82.2 54.7 81.2 55.1 80.7 55.6 80.2 55.8 80.1 56.8 79.9 57.0 79.5 57.1 79.2 57.0 78.7 56.7 77.7 56.4 75.5 56.4 73.7 56.6 71.3 56.6 70.0 56.5 68.0 56.0 64.1 56.0 62.8 56.1 61.8 56.5 60.1 57.2 58.1 58.2 56.4 59.5 54.6 59.7 54.1 59.6 53.6 58.8 50.9 56.8 45.7 56.4 44.4 56.2 43.2 56.1 41.5 56.4 40.0 57.0 38.7 58.6 36.5 58.7 36.0 58.5 35.5 58.0 34.5 56.3 30.5 55.6 28.5 55.4 27.3 55.3 25.8 55.2 23.8 55.3 21.8 55.6 20.1 56.1 18.4 56.8 17.1 58.3 15.0 58.6 14.4 58.6 13.9 58.6 11.9 58.8 9.9 60.4 1.5 60.8 0.0 M55.7 107.0 56.3 101.0 56.6 99.1 57.0 97.3 57.4 96.1 57.8 95.2 58.1 94.8 58.8 94.4 58.9 94.1 58.8 93.3 57.7 90.6 57.2 88.9 57.0 87.4 57.1 86.4 57.3 85.6 57.5 85.4 58.0 85.0 58.5 84.8 60.0 84.7 60.3 84.4 60.2 83.7 59.9 82.4 59.0 77.7 58.8 76.0 58.8 74.7 59.1 69.3 59.2 65.0 59.4 63.3 59.7 61.6 60.3 59.8 61.5 57.6 62.5 56.1 62.6 55.9 61.0 50.2 59.6 45.7 59.3 43.9 59.2 42.5 59.5 41.0 60.2 39.5 61.5 37.5 61.6 37.0 59.1 30.3 58.5 28.5 58.2 26.3 58.2 23.6 58.5 21.4 59.1 19.4 59.9 17.6 61.3 15.4 61.5 14.9 61.2 12.7 61.3 10.4 61.5 8.9 62.3 4.7 63.1 0.0 M58.6 107.0 59.4 101.3 59.8 99.3 60.1 98.6 60.4 98.1 60.8 97.8 61.3 97.7 61.5 97.3 61.3 95.8 60.2 93.1 59.7 91.4 59.6 90.4 59.6 89.4 59.8 88.9 60.0 88.6 60.4 88.4 61.3 88.2 62.5 88.3 62.7 88.1 62.8 87.9 62.3 84.9 62.1 79.9 61.6 73.7 61.6 71.7 61.8 69.5 62.3 67.1 62.9 65.0 63.5 63.4 65.1 60.1 65.6 58.6 65.6 57.8 64.7 55.4 63.9 52.4 62.8 47.2 62.5 44.7 62.5 43.2 62.7 42.0 63.1 40.7 63.7 39.5 64.2 38.5 64.3 38.0 63.4 35.5 61.5 29.5 61.0 27.3 60.9 25.3 61.0 22.8 61.6 20.6 62.3 18.9 63.9 15.6 64.1 15.1 64.1 14.6 63.8 13.7 63.7 12.7 63.7 10.4 64.0 8.7 64.9 3.7 65.4 0.0 M62.0 107.0 62.1 106.5 63.0 104.0 63.3 103.5 64.0 103.0 64.2 102.5 64.2 102.0 64.1 101.0 62.5 94.6 62.4 93.6 62.4 92.8 62.6 92.4 63.0 92.0 63.7 91.8 65.2 91.9 65.4 91.6 65.3 90.9 64.8 88.6 64.6 86.9 64.6 84.9 65.0 80.9 65.1 78.9 65.0 77.7 64.4 73.5 64.4 72.0 64.5 70.5 65.0 68.8 65.6 67.3 66.5 65.8 68.4 63.1 69.0 62.1 69.2 61.6 69.1 61.1 69.0 60.6 67.5 57.1 66.8 54.9 66.3 52.9 65.8 50.4 65.4 46.7 65.4 45.4 65.4 44.2 65.9 42.2 66.5 40.5 67.0 39.5 67.1 39.0 66.0 36.5 64.4 31.5 63.7 28.3 63.4 25.6 63.5 23.3 64.0 21.1 64.7 19.4 66.4 16.1 66.5 15.6 66.5 15.1 66.2 12.7 66.2 10.4 66.4 8.7 67.2 4.7 67.7 0.0 M67.1 107.0 66.3 103.5 65.7 100.8 65.3 98.6 65.2 97.3 65.3 96.8 65.4 96.3 65.6 96.1 66.0 95.8 66.7 95.7 68.5 96.1 68.7 95.8 68.5 94.8 67.9 93.3 67.5 91.9 67.2 90.1 67.1 88.9 67.1 86.1 67.7 80.4 67.6 74.2 67.6 72.2 68.0 70.8 68.6 69.3 69.5 68.1 71.6 65.5 72.2 64.6 72.4 64.1 72.3 63.3 71.9 62.2 69.8 57.1 69.3 55.6 68.9 54.1 68.5 52.4 68.1 48.7 68.0 47.2 68.1 45.7 68.3 44.4 68.6 43.2 69.4 41.2 69.9 40.2 69.9 40.0 69.8 39.5 68.8 37.2 67.8 34.8 67.0 32.5 66.3 29.3 66.0 26.3 66.1 23.8 66.6 21.6 67.2 19.9 68.7 16.6 68.9 16.1 68.9 15.6 68.6 12.7 68.6 10.7 68.8 8.9 69.4 5.7 70.1 0.0 M69.1 107.0 68.4 102.8 68.4 101.5 68.6 100.8 69.0 100.2 69.5 99.9 70.5 99.6 72.2 99.4 72.5 99.3 72.6 99.1 72.4 98.6 71.1 96.1 70.5 94.6 70.0 92.6 69.7 90.6 69.6 88.9 69.7 87.1 70.2 82.9 70.4 79.2 70.7 76.7 71.2 74.7 71.9 73.0 72.7 71.7 75.0 68.8 75.8 67.5 75.9 67.0 75.5 65.5 74.5 62.6 72.0 56.4 71.6 55.1 71.2 53.6 71.0 51.9 70.8 49.9 70.8 48.2 70.9 46.7 71.3 44.4 71.8 42.9 72.6 41.0 72.6 40.2 72.5 39.7 70.3 34.8 69.6 32.8 69.0 30.3 68.7 27.8 68.7 26.3 68.8 24.8 69.2 22.3 70.0 20.1 71.5 16.9 71.5 16.1 71.1 13.4 71.1 11.2 72.5 0.0 M71.7 107.0 71.8 106.0 72.0 105.0 72.4 104.3 72.7 103.9 73.2 103.5 73.9 103.2 74.4 103.0 75.4 103.1 75.7 103.0 75.9 102.7 76.0 102.3 76.0 101.8 75.2 98.8 73.2 93.9 72.8 92.6 72.6 91.4 72.5 89.9 72.5 88.1 73.0 83.7 73.3 81.7 73.9 79.5 74.7 77.7 75.4 76.5 77.4 73.3 79.1 70.5 79.3 70.0 79.3 69.8 79.1 68.6 78.6 66.5 75.1 57.8 74.5 56.1 74.1 54.4 73.8 52.9 73.7 50.9 73.7 48.9 73.8 47.2 74.3 44.9 74.7 43.7 75.5 41.7 75.6 41.0 72.2 32.5 71.6 30.5 71.4 28.5 71.4 26.1 71.6 24.6 71.9 23.3 72.6 20.9 74.0 17.9 74.2 17.1 73.8 15.6 73.6 14.2 73.6 12.9 73.6 11.4 73.9 8.2 75.0 0.0 M78.9 107.0 78.3 104.0 78.3 100.3 78.0 98.1 77.7 96.2 76.6 92.6 76.3 91.1 76.2 89.1 76.2 86.9 76.6 84.7 77.4 82.4 78.3 80.7 80.3 77.5 81.1 76.0 82.4 73.1 82.5 72.2 81.8 68.5 81.2 66.5 80.6 64.8 79.0 61.3 78.2 59.6 77.6 57.6 77.1 55.9 76.9 54.4 76.8 52.6 76.8 50.6 77.0 48.4 77.2 46.9 77.5 45.7 78.1 43.7 78.6 42.5 78.7 42.0 78.3 40.7 74.8 32.0 74.3 30.3 74.0 28.5 74.0 27.6 74.1 26.3 74.3 25.1 74.6 23.8 75.4 21.4 77.0 18.1 77.0 17.6 76.6 16.4 76.2 14.4 76.0 12.9 76.0 10.9 76.2 8.4 77.4 0.0 M82.2 107.0 81.8 105.8 81.6 104.3 81.5 98.6 80.3 91.4 80.2 89.1 80.3 87.1 80.6 85.2 81.2 83.4 82.2 81.7 84.1 78.7 84.9 77.5 85.6 75.7 85.8 75.0 84.3 68.3 83.7 66.0 82.9 64.1 80.8 59.6 80.3 58.1 80.0 56.9 79.7 54.6 79.8 51.9 80.5 47.4 81.5 42.7 81.5 42.2 81.4 41.7 79.8 38.0 77.9 32.5 77.2 30.3 76.9 28.5 76.9 26.6 77.1 25.3 77.4 24.3 78.1 22.6 79.8 19.4 79.9 18.9 79.9 18.4 78.8 14.6 78.4 12.7 78.3 11.2 78.5 8.7 79.6 0.0 M96.6 107.0 96.5 106.8 96.0 106.4 95.3 106.1 94.3 105.8 93.0 105.6 90.3 105.5 89.3 105.3 88.3 104.8 87.6 104.2 87.1 103.6 86.7 103.0 85.9 101.0 84.5 96.3 84.0 93.6 83.8 91.6 83.8 89.4 84.0 87.4 84.3 85.6 84.8 84.4 85.3 83.2 88.3 78.3 88.5 77.7 88.5 77.2 88.3 74.7 87.8 72.2 86.3 66.3 85.3 63.3 83.3 58.8 82.7 56.9 82.6 55.4 82.6 53.6 83.2 49.4 83.8 44.9 84.0 43.2 84.1 42.5 83.9 41.7 82.5 38.2 81.4 35.0 80.4 31.3 79.9 28.8 79.9 26.8 80.3 25.1 80.9 23.3 82.4 20.1 82.6 19.4 82.5 18.6 81.0 13.7 80.8 12.4 80.6 11.2 80.7 8.7 81.8 0.0 M101.7 107.0 101.4 106.5 100.7 105.8 99.5 104.1 98.6 103.0 97.8 102.3 97.0 101.8 96.0 101.2 93.3 100.1 92.3 99.7 91.4 99.1 90.6 98.3 89.6 97.2 88.8 96.0 88.2 94.6 87.9 93.3 87.8 92.4 87.9 91.4 88.2 89.1 89.4 84.9 90.8 80.7 90.9 80.2 90.8 74.2 90.5 71.7 89.8 68.8 88.1 63.1 86.3 58.3 85.8 56.6 85.6 55.4 85.7 54.1 86.1 49.9 86.3 45.9 86.5 42.7 86.4 42.0 85.1 38.7 84.3 36.2 83.3 32.0 82.8 29.3 82.8 27.3 83.1 25.3 83.7 23.6 85.0 20.1 85.0 19.6 83.3 13.9 83.0 12.4 82.9 11.2 82.9 9.7 83.0 8.2 83.7 1.5 83.9 0.0 M109.1 107.0 108.9 106.6 107.4 105.0 106.7 104.1 105.7 102.9 105.0 102.3 104.0 101.0 103.5 100.3 102.9 99.6 101.9 98.1 101.5 97.3 100.8 96.3 100.4 95.6 99.4 94.1 98.7 93.3 98.2 92.6 97.5 91.9 96.4 90.4 95.6 88.6 95.4 87.1 93.9 82.9 93.5 81.4 93.3 80.2 93.3 78.9 93.4 73.5 93.4 72.0 93.2 70.5 92.7 68.5 91.5 64.8 89.5 58.1 89.0 55.6 88.9 53.4 89.0 49.4 88.9 44.7 89.0 42.7 88.8 42.0 88.1 40.5 87.5 39.0 86.8 36.7 86.1 33.5 85.6 30.3 85.5 28.1 85.7 26.1 86.1 24.6 87.2 21.4 87.3 20.6 87.2 19.9 86.2 16.9 85.5 14.4 85.2 12.7 85.0 11.2 85.0 9.4 85.2 7.4 85.8 1.7 86.1 0.0 M112.1 107.0 112.0 106.8 111.1 105.8 107.9 101.0 103.9 95.8 99.6 89.1 98.5 87.2 97.5 85.2 96.7 83.2 96.2 81.4 95.9 79.9 95.8 78.5 96.1 73.0 96.0 70.3 95.8 69.0 95.5 67.8 94.0 63.3 93.2 60.6 92.6 58.3 92.3 56.4 92.0 53.9 91.8 47.7 91.6 45.2 91.6 42.5 91.4 41.7 90.7 40.5 90.1 39.0 89.3 36.7 88.6 34.3 88.2 31.5 88.2 29.0 88.4 26.8 88.8 24.8 89.9 21.1 89.8 20.6 88.5 17.6 87.9 15.6 87.4 13.7 87.2 11.7 87.1 9.7 87.3 7.4 87.9 3.2 88.5 0.0 M115.3 107.0 115.2 106.8 114.2 105.8 113.9 105.3 112.8 103.5 110.7 99.8 109.7 98.3 108.7 97.1 105.5 93.5 104.0 91.5 102.0 88.5 100.8 86.6 100.0 84.9 99.4 83.4 98.9 81.7 98.7 80.2 98.5 78.7 98.6 71.7 98.4 69.0 97.8 66.3 96.2 61.6 95.7 59.6 95.2 57.6 95.0 55.9 94.8 53.6 94.8 48.9 94.3 44.7 94.3 43.4 94.5 42.2 94.3 41.7 93.7 40.7 92.9 39.0 92.0 36.7 91.3 34.5 90.9 32.3 90.8 30.3 90.9 28.3 91.4 26.1 92.3 22.3 92.4 21.6 92.2 20.9 90.9 18.1 90.1 16.1 89.6 14.2 89.3 12.2 89.3 10.2 89.5 7.7 89.9 4.5 90.7 0.0 M119.5 107.0 119.4 106.8 119.1 106.5 118.4 106.0 117.8 105.5 115.9 103.2 114.6 101.0 112.4 96.9 111.4 95.3 110.3 94.1 106.9 90.8 105.7 89.3 104.5 87.7 103.5 86.2 102.7 84.9 102.2 83.7 101.7 82.2 101.5 80.9 101.3 79.4 101.1 71.3 100.8 68.0 100.1 65.0 98.2 59.1 97.8 57.6 97.6 56.1 97.5 53.9 97.7 49.7 97.2 43.7 97.5 42.0 97.3 41.5 96.1 39.2 95.1 37.0 94.2 34.3 93.8 32.0 93.7 30.3 93.8 28.5 94.2 26.6 95.1 22.1 95.0 21.6 93.3 18.4 92.5 16.4 91.9 14.4 91.5 12.4 91.4 10.4 91.6 7.9 91.9 5.5 92.8 0.0 M124.1 107.0 124.0 106.8 123.7 106.5 122.7 105.8 119.8 103.0 118.8 102.0 117.9 100.8 116.6 98.8 114.6 94.7 113.6 92.9 112.2 91.1 108.7 87.6 107.0 85.6 106.3 84.7 105.7 83.7 105.3 82.7 104.9 81.7 104.6 79.9 103.8 71.0 103.3 67.0 102.5 63.8 100.8 58.3 100.4 56.1 100.3 54.4 100.5 48.7 100.2 43.4 100.4 41.2 100.2 40.7 99.6 40.0 99.1 39.2 98.1 37.2 97.3 34.8 96.8 32.3 96.7 30.8 96.8 29.0 97.7 22.6 97.7 22.1 97.5 21.6 96.6 20.4 95.8 18.9 95.2 17.4 94.3 14.9 93.8 12.4 93.7 10.4 93.8 7.9 94.1 5.5 94.8 0.0 M127.8 106.6 127.3 106.3 126.3 105.0 124.6 103.1 121.1 99.7 119.7 98.1 118.8 96.6 117.0 92.8 115.9 90.8 114.6 88.9 111.4 84.7 110.3 82.9 109.4 81.2 108.7 78.9 106.8 71.0 105.4 64.1 103.8 58.1 103.4 56.1 103.1 52.9 103.2 48.2 102.9 42.7 103.1 41.0 103.0 40.5 102.8 40.0 101.4 38.2 100.7 37.0 100.0 35.3 99.5 33.3 99.4 31.8 99.5 30.0 100.3 25.3 100.4 24.1 100.6 23.3 100.6 22.8 100.3 22.1 99.0 20.4 97.8 18.1 96.9 15.4 96.5 13.9 96.2 12.4 96.0 10.2 96.0 7.7 96.2 5.2 96.9 0.0 M127.8 101.9 127.6 101.8 127.3 101.4 126.3 99.9 122.8 96.0 121.5 94.3 117.2 87.6 115.1 84.2 113.4 80.9 112.5 78.9 111.8 77.0 109.8 70.0 108.9 66.5 107.8 61.1 106.6 55.6 106.3 53.4 106.0 50.9 105.5 43.7 105.5 41.7 105.8 40.0 105.7 39.5 105.5 39.0 104.7 38.4 104.1 37.7 103.1 36.2 102.4 34.8 102.0 33.0 101.9 31.8 102.1 30.3 103.0 26.1 103.2 24.3 103.6 23.3 103.7 23.1 103.5 22.8 102.5 21.8 101.5 20.6 100.9 19.6 100.4 18.6 99.9 17.4 99.4 15.9 98.7 12.7 98.5 10.2 98.4 7.7 98.6 5.5 99.1 0.0 M127.8 95.9 127.6 95.8 126.8 94.6 126.3 94.0 123.3 91.1 121.6 89.2 120.2 87.4 119.0 85.4 117.2 81.9 115.5 78.0 114.2 74.5 112.7 69.3 111.8 65.3 110.7 58.6 108.8 49.4 108.3 46.2 108.1 43.7 108.1 41.7 108.3 40.2 108.8 38.2 108.7 38.0 107.1 37.0 106.2 36.0 105.7 35.3 105.3 34.3 105.0 33.5 104.8 32.8 104.7 31.5 104.8 30.3 105.7 26.3 105.9 24.8 106.2 23.3 106.0 22.8 104.9 21.8 104.3 21.1 103.5 20.1 103.1 19.4 102.6 18.4 102.2 17.4 101.7 14.9 101.4 12.2 101.4 8.9 101.4 7.0 101.8 2.7 102.0 0.0 M127.8 91.1 127.6 91.0 126.6 89.7 125.3 88.6 123.3 86.5 122.1 84.9 121.1 83.4 119.8 80.9 117.9 76.4 116.9 73.7 116.1 71.0 115.4 68.3 114.8 65.0 113.7 57.1 113.2 54.1 112.7 51.9 111.5 47.4 111.0 44.9 110.8 42.9 110.8 40.7 111.0 39.0 111.5 37.2 111.5 37.0 111.5 36.7 111.2 36.5 109.9 35.8 109.3 35.3 108.9 34.7 108.5 34.0 108.2 33.3 107.8 31.3 107.8 29.5 108.0 27.3 108.2 25.6 108.7 23.8 108.7 23.3 108.4 22.8 106.8 21.4 105.7 19.9 105.0 18.4 104.5 16.6 104.4 14.6 104.6 12.7 105.0 11.2 106.1 7.4 106.2 7.0 106.0 5.2 104.2 0.5 104.1 0.0 M127.8 86.7 127.6 86.6 127.3 86.3 126.6 85.2 125.3 83.9 124.3 82.7 123.4 81.4 122.6 80.1 121.4 77.7 120.2 75.0 119.4 73.0 118.8 70.8 117.9 66.5 117.2 62.8 116.9 60.3 116.3 55.4 116.0 53.4 115.6 51.4 114.4 46.7 113.9 43.7 113.5 40.7 113.4 38.7 113.5 37.2 114.0 35.5 114.0 35.0 113.6 34.8 112.7 34.6 112.2 34.3 111.6 33.8 111.1 32.8 110.8 31.5 110.4 29.8 110.2 27.8 110.3 26.8 110.4 25.8 110.7 25.1 111.2 23.8 111.2 23.3 110.8 22.8 109.4 21.6 108.5 20.4 107.8 19.1 107.5 17.9 107.4 16.6 107.6 15.4 107.9 14.4 108.4 13.5 109.2 12.7 109.3 12.2 109.3 11.4 108.0 5.5 107.3 3.5 106.2 0.5 106.0 0.0 M127.8 82.3 127.6 82.2 127.3 81.9 126.6 80.8 125.2 78.9 124.1 77.1 123.2 75.2 122.5 73.5 122.0 71.7 120.1 64.5 119.7 62.6 119.3 60.6 118.9 55.1 118.6 52.9 117.6 47.4 116.8 41.7 115.8 36.7 115.7 35.3 115.9 34.3 116.0 33.8 115.9 33.5 115.6 33.3 114.4 33.1 114.2 33.0 114.0 32.8 113.5 31.5 112.5 28.1 112.4 27.1 112.5 25.8 112.8 25.1 113.5 23.8 113.6 23.3 113.5 23.1 113.2 22.8 111.7 21.6 111.2 20.9 110.7 19.9 110.5 19.4 110.5 18.6 110.6 17.9 110.9 17.1 111.6 16.4 112.2 16.1 112.4 15.9 112.4 15.6 112.3 14.9 111.8 13.9 111.2 11.9 109.7 5.0 108.0 0.0 M127.8 77.9 127.6 77.7 127.3 77.4 125.6 73.5 124.2 68.5 122.6 64.1 122.2 62.3 121.9 61.1 121.7 59.6 121.6 55.1 121.4 53.1 120.6 47.4 120.0 42.2 119.7 40.2 119.0 37.5 117.8 33.8 117.7 33.0 117.7 32.5 117.9 32.0 117.8 31.8 116.9 29.6 116.1 29.4 115.9 29.1 114.9 27.1 114.7 26.6 114.7 25.6 115.0 24.8 115.5 24.1 116.3 23.3 116.5 23.1 116.2 22.8 114.7 22.1 114.1 21.6 113.6 20.9 113.4 20.1 113.5 19.6 113.7 19.1 114.1 18.7 115.4 18.3 115.5 18.1 115.5 17.9 115.0 17.1 114.4 15.9 113.8 14.4 113.3 12.9 112.7 10.5 111.6 5.2 110.1 0.0 M127.8 70.0 127.6 69.7 126.6 66.3 125.3 63.3 124.7 61.3 124.5 59.3 124.6 55.1 124.4 52.4 123.4 46.4 122.6 41.0 122.2 38.7 121.6 35.7 120.1 30.8 120.1 30.0 120.4 29.0 120.4 28.3 120.1 27.9 119.4 27.8 119.1 25.9 118.9 25.3 118.6 25.2 118.4 25.3 117.6 25.5 117.4 25.3 117.2 24.8 117.3 24.3 117.7 23.8 118.3 23.3 118.5 23.1 118.5 22.8 118.3 22.6 118.0 22.3 117.0 21.8 116.7 21.6 116.5 21.1 116.5 20.9 116.6 20.5 116.9 20.4 118.1 20.3 118.5 20.1 118.6 19.9 118.0 19.1 117.0 17.6 116.4 16.4 115.7 14.6 115.1 12.4 113.7 6.0 112.2 0.0 M119.1 28.8 118.9 28.9 118.7 28.5 118.7 28.3 118.9 28.0 119.1 27.9 119.3 28.1 119.3 28.3 119.1 28.8 M127.8 61.3 127.6 60.7 127.5 59.6 127.6 57.2 127.7 55.9 127.7 54.6 126.8 49.1 125.8 44.4 125.0 38.7 124.4 35.5 123.7 32.5 122.1 27.1 121.8 25.3 121.6 24.6 121.4 24.1 121.1 23.6 120.8 23.4 120.3 23.1 120.3 22.8 120.5 22.3 120.5 21.6 120.0 20.6 120.0 19.9 119.2 18.6 119.0 17.6 118.6 16.6 117.3 10.2 115.9 5.2 114.6 0.0 M127.8 37.4 127.6 36.8 126.7 32.0 125.6 28.1 125.7 26.3 125.8 26.1 126.8 25.7 126.9 25.6 126.9 25.3 126.9 25.1 126.7 24.8 126.1 24.4 125.3 23.6 124.3 23.1 124.3 22.8 124.8 22.6 126.2 22.3 126.6 22.1 126.6 21.8 126.1 21.5 124.1 21.0 123.5 20.6 123.4 20.4 123.3 20.1 123.6 18.9 123.5 18.4 123.3 17.9 122.8 17.6 122.6 17.2 122.4 16.1 122.3 14.6 122.4 13.9 122.8 13.2 122.6 12.2 123.1 11.2 123.1 10.6 122.8 10.1 122.6 10.0 122.3 10.1 122.1 10.7 122.0 11.7 122.0 11.9 121.8 12.1 121.6 12.1 121.3 12.0 121.1 11.7 119.6 7.9 118.8 5.5 118.4 3.3 117.9 0.0 M123.9 17.4 124.1 17.2 124.2 16.9 124.2 16.1 124.1 15.7 123.8 15.5 123.6 15.6 123.4 15.9 123.4 16.4 123.6 17.4 123.8 17.5 123.9 17.4 M127.8 20.9 127.6 20.8 127.3 20.6 126.3 18.9 126.1 17.6 125.7 15.6 125.4 11.2 125.3 10.7 124.9 9.7 124.9 8.7 124.5 5.2 123.3 1.5 122.8 0.5 122.7 0.0 M124.1 10.8 123.8 10.6 123.8 10.2 123.8 9.8 124.1 9.6 124.3 9.7 124.5 9.9 124.3 10.4 124.1 10.8 M127.8 24.3 127.6 24.1 127.5 23.8 127.6 23.7 127.8 23.6 M127.8 12.2 127.6 11.7 127.3 10.4 126.5 5.5 124.8 0.0 M127.8 1.2 127.6 0.9 127.3 0.3 127.3 0.0" fill="none" stroke="#ea9560" stroke-width="1.0" stroke-opacity="1" stroke-dasharray="2.0 0.9"/>
<clipPath id="cpa_ll"><path d="M15 44 L30 47 L45 53 L62 62 L80 72 L95 85 L100 110 L15 110 Z"/></clipPath>
<g clip-path="url(#cpa_ll)"><rect x="20.8" y="0" width="106.7" height="106.6" fill="#bc5226"/>
<path d="M20.8 3.0 21.0 3.0 21.3 2.8 22.0 2.0 22.7 1.5 24.5 0.3 24.7 0.0 M20.8 7.3 21.0 7.1 21.8 6.0 22.3 5.4 24.0 3.9 26.8 1.8 27.1 1.2 27.3 0.0 M20.8 21.8 21.1 21.6 21.2 21.1 21.0 20.5 20.8 20.3 M20.8 25.8 21.0 25.7 22.0 24.6 23.5 23.6 23.7 23.1 23.0 18.9 22.4 16.4 22.2 15.1 22.2 13.9 22.2 12.9 22.4 12.2 22.6 11.2 23.6 9.2 24.0 8.4 24.8 7.4 26.3 6.0 29.1 3.7 29.3 3.2 29.6 1.5 30.1 0.0 M20.8 37.7 21.0 37.5 21.9 36.2 22.0 35.7 21.5 34.5 21.0 33.6 20.8 33.5 M20.8 76.5 21.0 76.2 22.0 73.9 22.8 72.7 23.0 72.2 23.0 71.7 22.5 70.8 22.0 69.2 21.7 67.8 21.2 64.1 21.1 61.6 21.4 58.3 21.8 55.9 22.7 53.4 23.3 52.2 23.4 51.9 23.1 50.6 22.0 47.2 21.3 44.4 21.0 43.6 20.8 43.3 M22.1 107.0 22.2 104.0 22.2 102.3 21.4 97.6 21.5 96.1 21.4 95.3 21.0 94.0 20.8 93.6 M25.3 107.0 25.5 104.0 25.5 102.0 24.8 98.6 24.7 96.1 23.8 94.3 23.4 92.4 22.9 82.2 23.1 79.9 23.6 78.0 24.9 74.7 25.3 74.1 25.9 73.2 26.1 72.7 26.0 72.2 25.0 70.0 24.4 67.8 24.0 65.8 23.9 64.1 24.0 62.3 24.3 60.3 25.0 57.7 26.0 54.6 26.0 54.1 25.2 51.6 23.9 46.9 23.4 44.4 23.1 42.5 23.2 41.0 23.5 39.5 24.1 38.2 24.9 37.2 25.0 37.0 25.0 36.7 24.6 35.7 23.8 34.4 22.9 32.5 22.5 31.3 22.4 30.0 22.5 29.3 22.7 28.8 23.1 28.1 23.5 27.6 24.3 26.8 26.3 25.6 26.5 25.3 26.6 25.1 26.6 24.8 26.2 23.6 25.8 22.1 25.4 17.6 25.4 16.1 25.5 14.9 25.8 13.7 26.1 12.4 27.0 10.4 28.2 8.7 29.4 7.4 30.5 6.5 31.2 5.9 31.6 5.5 32.2 3.0 32.8 1.5 33.4 0.2 33.4 0.0 M28.2 107.0 28.9 102.5 29.0 101.0 29.0 100.0 28.8 98.8 28.3 97.6 27.0 94.6 26.6 93.6 26.4 92.6 26.2 90.1 26.1 83.2 26.3 81.2 26.7 79.2 27.8 76.0 28.3 74.7 28.9 73.7 29.0 73.2 28.9 72.7 28.2 71.5 27.6 70.0 27.0 68.0 26.6 66.0 26.7 64.1 26.9 62.8 27.4 61.3 28.0 60.0 29.3 57.8 29.5 57.1 29.2 56.1 27.8 53.1 27.0 50.9 26.3 48.4 25.8 45.9 25.6 43.7 25.7 42.7 25.9 41.7 26.3 40.5 26.8 39.5 27.8 38.0 27.9 37.5 27.7 36.7 26.9 35.5 26.1 33.8 25.7 32.5 25.6 31.5 25.8 30.8 25.9 30.3 26.6 29.3 27.5 28.5 29.6 27.3 29.8 27.1 29.9 26.8 29.8 26.6 29.1 24.8 28.6 23.3 28.0 19.4 27.9 17.9 28.1 16.6 28.3 15.4 28.8 13.9 29.6 11.9 30.7 10.2 31.9 8.9 33.7 7.4 34.1 7.0 34.8 4.5 36.6 0.5 36.7 0.0 M31.0 107.0 31.1 106.5 31.8 104.0 31.7 102.3 31.5 101.0 31.2 99.6 29.8 94.8 29.2 92.6 29.0 89.9 28.9 85.9 29.1 83.2 29.5 81.2 30.9 77.0 31.8 75.0 31.9 74.2 31.7 73.5 30.4 71.0 29.6 69.0 29.2 67.3 29.1 65.5 29.3 64.1 29.9 62.6 31.0 60.9 32.2 59.4 32.4 59.1 32.4 58.8 32.1 57.6 31.5 56.1 30.0 52.6 29.2 50.6 28.6 48.7 28.3 46.9 28.2 45.7 28.2 44.7 28.4 43.7 28.6 42.9 29.1 41.7 30.2 40.0 30.8 39.2 30.9 38.7 30.7 38.0 30.0 36.7 29.2 35.0 28.9 33.8 28.9 32.8 29.1 31.8 29.7 30.8 30.7 29.8 32.4 28.5 32.6 28.3 32.7 28.1 32.6 27.6 32.2 26.8 31.8 25.3 30.6 19.9 30.6 18.6 30.6 17.6 30.8 16.4 31.1 15.1 32.0 13.2 33.0 11.7 34.2 10.3 36.1 8.7 36.6 8.2 36.8 7.7 37.0 6.7 37.3 5.7 39.4 0.5 39.5 0.0 M33.8 107.0 33.7 103.3 33.6 101.3 33.2 99.3 32.3 95.1 31.8 92.6 31.5 89.6 31.5 86.9 31.7 84.7 32.2 82.7 32.6 81.4 33.4 79.7 34.2 77.5 34.8 76.5 35.0 76.0 34.5 74.7 32.8 71.3 32.1 69.5 31.7 67.8 31.6 66.3 31.8 64.8 32.3 63.6 33.2 62.2 34.9 60.3 35.0 59.8 34.1 56.6 32.6 52.4 32.0 50.6 31.6 48.7 31.4 46.9 31.6 45.4 32.1 44.2 33.2 42.4 33.7 41.5 34.6 40.7 34.7 40.5 34.7 40.2 34.6 39.7 33.7 38.7 33.1 37.7 32.4 36.5 32.0 35.3 31.8 34.0 31.9 33.3 32.1 32.8 32.7 31.8 34.1 30.3 35.1 29.5 35.3 29.3 35.4 29.0 35.3 28.5 34.8 27.6 34.5 26.1 34.2 23.8 33.6 20.1 33.5 18.9 33.5 17.9 33.7 16.9 33.9 15.9 34.5 14.4 35.4 12.9 36.5 11.7 38.6 9.7 39.0 9.2 39.2 8.7 39.3 7.7 39.7 6.2 41.2 2.2 41.7 0.5 41.8 0.0 M35.8 107.0 35.5 100.5 34.6 94.6 34.3 91.6 34.2 89.1 34.2 87.1 34.5 85.4 35.0 83.8 36.1 81.4 37.1 79.2 37.7 78.3 37.8 78.0 37.7 77.5 37.5 76.7 36.9 75.6 35.8 73.0 34.8 70.3 34.3 68.3 34.3 66.8 34.5 65.5 35.0 64.3 35.8 63.3 36.7 62.3 37.4 61.6 37.6 61.1 35.4 52.4 35.2 50.4 35.3 48.7 35.6 47.7 36.1 46.7 37.4 44.9 38.1 43.7 38.9 42.7 39.1 42.2 38.9 41.7 38.6 41.2 36.7 39.0 35.7 37.5 35.1 36.0 34.9 34.8 35.1 33.8 35.6 32.8 36.7 31.5 37.9 30.5 38.1 30.0 38.0 29.5 37.5 28.3 37.2 27.1 36.7 22.6 36.7 20.9 36.7 19.1 36.8 17.9 37.1 16.6 37.6 15.1 38.4 13.7 39.6 12.2 41.2 10.4 41.5 9.9 41.6 8.7 42.0 7.0 43.9 0.5 44.0 0.0 M37.8 107.0 37.4 94.3 37.4 90.4 37.5 88.1 37.7 86.6 38.2 85.2 39.6 81.7 40.0 80.9 40.5 80.2 40.7 79.9 40.7 79.7 40.4 78.7 39.2 75.7 38.1 72.7 37.7 71.0 37.4 69.3 37.4 68.3 37.4 67.5 37.6 66.8 37.9 66.0 38.6 65.0 39.7 63.9 40.5 63.3 40.7 63.1 40.7 62.8 40.0 60.8 38.7 55.9 38.4 53.9 38.4 52.1 38.7 50.6 39.2 49.5 39.9 48.4 41.0 46.9 41.9 45.4 42.6 44.4 42.8 43.9 42.7 43.4 42.3 42.7 40.4 40.2 39.0 38.0 38.5 36.7 38.3 36.0 38.3 35.5 38.5 34.5 38.9 33.8 39.7 32.8 40.9 31.7 41.1 31.3 41.1 30.8 40.5 29.8 40.0 28.3 39.8 27.1 39.5 24.1 39.5 22.6 39.5 21.1 39.8 19.4 40.0 17.9 40.5 16.1 41.3 14.4 42.2 12.9 43.5 11.2 43.8 10.7 43.9 8.9 44.2 7.4 46.2 0.0 M40.0 107.0 39.9 104.3 39.9 101.3 40.1 98.3 40.4 95.6 41.3 89.6 42.0 85.2 42.3 84.2 42.7 83.2 42.9 82.7 43.4 82.1 43.5 81.7 43.2 80.7 42.8 79.7 42.2 77.7 41.3 74.5 40.9 72.2 40.9 70.3 41.1 69.0 41.7 67.8 42.8 66.3 43.9 65.3 44.0 65.0 43.9 64.5 43.2 62.6 42.4 59.8 41.8 57.6 41.4 55.6 41.4 53.9 41.7 52.6 42.2 51.4 42.9 50.4 44.5 48.2 45.4 46.5 45.9 45.9 46.0 45.4 45.8 44.7 44.4 42.5 42.6 39.5 42.1 38.2 41.8 37.2 41.8 36.2 42.0 35.3 42.3 34.8 43.0 33.8 43.8 33.0 44.1 32.5 43.9 31.8 43.3 30.5 42.8 28.5 42.3 24.6 42.3 22.3 42.4 20.9 42.7 19.4 43.2 17.6 43.6 16.1 44.5 14.2 45.1 13.2 46.0 11.9 46.3 11.2 46.3 9.7 46.6 7.9 48.2 1.5 48.7 0.0 M42.4 107.0 42.3 104.5 42.3 102.5 42.4 100.8 42.6 99.1 43.1 96.8 44.5 91.9 45.0 87.9 45.2 86.4 45.7 84.9 46.3 83.9 46.2 82.9 45.6 81.7 45.2 80.4 44.5 78.0 44.2 75.5 44.2 74.2 44.2 73.2 44.6 71.7 45.1 70.5 45.6 69.7 46.4 68.8 47.2 68.0 47.4 67.8 47.4 67.5 47.3 66.8 46.8 65.8 45.8 62.8 45.2 60.6 44.8 57.8 44.7 56.6 44.8 55.6 45.0 54.4 45.6 52.9 46.3 51.6 47.7 49.4 48.4 48.2 48.9 47.6 49.1 47.2 49.0 46.9 48.9 46.4 45.9 40.7 45.4 39.5 45.2 38.5 45.2 37.2 45.5 36.2 46.0 35.3 47.0 34.0 47.2 33.5 47.2 33.3 47.1 32.8 46.3 31.5 45.9 30.3 45.7 29.3 45.1 25.1 45.1 23.8 45.2 22.3 45.6 19.4 46.0 17.9 46.5 16.4 47.4 14.4 48.9 12.2 49.0 11.7 48.9 10.7 49.2 8.7 50.5 3.0 51.4 0.0 M45.0 107.0 44.9 102.8 45.0 101.3 45.3 99.8 45.8 97.8 46.9 95.1 47.3 93.6 48.5 88.1 48.7 87.4 49.4 86.1 49.4 85.9 49.1 85.2 47.9 82.4 47.3 80.4 47.0 78.2 47.0 77.2 47.1 76.2 47.5 74.7 48.1 73.5 49.1 72.2 50.5 71.0 50.7 70.5 50.7 70.0 50.5 69.3 48.8 64.1 48.4 62.3 48.1 60.3 48.2 58.3 48.5 56.4 49.2 54.4 50.2 52.1 51.2 50.1 51.7 49.4 51.8 48.9 51.4 47.4 49.0 41.7 48.7 40.7 48.5 39.7 48.5 38.5 48.8 37.2 49.4 36.0 50.3 34.8 50.5 34.3 50.3 33.8 49.7 32.8 49.3 32.0 48.9 31.0 48.6 30.0 48.1 27.3 48.0 25.8 47.9 23.8 48.0 21.8 48.2 20.4 48.5 18.9 49.2 16.6 49.7 15.6 50.3 14.6 51.7 12.9 51.7 11.4 52.1 9.4 53.3 3.2 53.7 1.5 54.2 0.0 M47.9 107.0 47.9 102.8 48.0 101.5 48.3 100.3 48.6 99.3 50.4 94.3 51.5 90.6 51.9 89.6 52.4 88.9 52.5 88.4 52.3 87.6 51.2 85.4 50.3 83.2 49.9 81.7 49.7 80.2 49.8 78.5 50.1 77.5 50.4 76.7 50.8 75.9 51.4 75.2 53.0 73.7 53.2 73.5 53.3 73.0 53.2 72.0 52.8 68.8 51.7 64.5 51.5 63.3 51.3 61.8 51.4 60.3 51.9 58.1 52.9 55.4 53.8 53.4 54.4 52.1 55.0 51.4 55.0 51.1 54.9 50.6 54.0 48.4 52.8 45.4 52.0 42.9 51.6 41.2 51.6 39.7 51.7 39.0 51.9 38.2 52.7 36.7 53.1 36.2 53.8 35.5 54.0 35.0 53.8 34.6 53.1 33.6 52.1 31.8 51.8 30.8 51.2 28.5 50.9 27.3 50.8 25.6 50.8 23.3 50.8 21.4 51.2 19.1 51.7 17.4 52.6 15.9 54.1 13.9 54.4 13.4 54.5 12.9 54.7 10.9 55.8 4.7 56.5 1.5 57.0 0.0 M51.0 107.0 51.3 102.8 51.7 100.5 52.0 99.1 53.9 93.1 54.4 91.9 55.1 91.0 55.2 90.6 55.1 89.9 54.0 87.4 53.0 84.9 52.7 83.4 52.5 82.2 52.6 80.7 52.8 79.9 53.2 79.2 53.7 78.5 54.3 77.8 55.3 77.2 55.5 76.7 55.3 73.7 55.4 70.0 55.2 68.0 54.5 64.1 54.5 62.8 54.5 61.6 55.0 59.6 55.8 57.3 56.8 55.4 57.5 54.4 58.1 53.6 58.2 53.1 58.2 52.6 55.5 45.9 55.0 44.2 54.7 42.7 54.6 41.0 54.9 39.5 55.2 38.7 55.8 37.8 57.0 36.2 57.1 36.0 57.1 35.7 56.8 34.8 56.1 33.5 55.4 32.0 54.5 29.8 54.1 28.5 53.9 27.1 53.7 25.6 53.7 23.1 53.8 21.4 54.1 19.5 54.6 17.9 55.4 16.6 56.3 15.4 57.1 14.4 57.3 14.0 57.2 12.4 57.5 9.9 58.8 3.2 59.6 0.0 M54.2 107.0 54.4 105.5 54.9 100.8 55.6 97.1 56.1 95.3 56.5 94.3 57.0 93.6 57.7 93.1 57.7 92.8 57.5 92.1 56.6 89.6 55.9 87.6 55.6 85.9 55.7 84.7 55.8 84.1 56.0 83.7 56.5 83.1 57.0 82.8 57.5 82.6 58.5 82.8 58.8 82.7 58.9 82.4 58.9 81.9 57.9 78.7 57.6 77.0 57.5 76.0 57.5 74.2 57.8 72.0 57.8 69.8 57.8 68.0 57.6 64.3 57.7 62.3 58.0 60.8 58.6 59.1 59.6 57.3 60.9 55.4 61.0 54.9 60.9 53.9 60.2 51.6 58.3 45.9 57.7 43.7 57.7 42.0 58.0 40.5 58.7 39.0 59.9 37.2 60.0 37.0 60.1 36.5 59.9 35.7 57.7 30.3 57.1 28.5 56.9 27.3 56.7 26.1 56.7 24.6 56.8 22.8 57.0 20.9 57.5 19.1 58.4 17.4 59.7 15.4 60.0 14.9 60.0 14.2 59.9 12.2 60.0 10.2 62.0 0.0 M57.1 107.0 57.8 101.0 58.3 98.3 58.7 97.3 59.0 96.6 59.4 96.1 60.0 95.7 60.1 95.3 60.0 94.6 59.0 91.9 58.5 90.4 58.3 88.9 58.4 87.9 58.7 87.1 59.3 86.7 59.8 86.5 61.3 86.5 61.4 86.1 61.4 85.2 61.1 83.7 60.8 80.7 60.3 77.0 60.2 75.7 60.2 72.0 60.8 66.0 61.2 63.8 61.8 62.0 62.5 60.1 63.8 57.6 63.9 57.1 63.8 56.4 63.2 54.4 61.2 46.2 60.9 43.9 60.9 42.7 61.1 41.5 61.7 40.0 62.8 38.0 62.8 37.2 62.7 36.7 62.2 35.5 60.0 29.0 59.6 27.1 59.5 25.1 59.7 22.6 60.3 20.4 61.1 18.4 62.6 15.6 62.8 15.1 62.8 14.6 62.6 13.4 62.5 12.2 62.5 10.2 62.8 8.7 63.6 4.5 64.3 0.0 M60.2 107.0 60.9 102.8 61.5 100.8 61.8 100.4 62.0 100.3 62.5 100.2 62.8 100.1 62.9 99.6 62.9 99.1 62.4 97.1 61.5 94.3 61.1 92.8 61.0 91.9 61.0 90.9 61.3 90.4 61.8 90.1 62.5 90.0 63.5 90.1 63.7 90.1 63.9 89.9 64.0 89.6 63.4 86.1 63.4 84.2 63.6 79.2 63.5 77.2 63.1 74.7 63.0 73.2 63.0 71.7 63.2 70.0 63.6 68.0 64.2 66.3 65.0 64.8 66.7 61.8 67.3 60.6 67.4 60.1 67.2 59.1 66.1 56.4 65.3 53.6 64.5 49.9 64.0 46.2 63.9 44.4 64.1 42.9 64.5 41.5 65.5 39.2 65.6 38.7 65.5 38.2 64.7 36.0 62.9 30.3 62.4 27.8 62.2 25.6 62.3 23.3 62.7 21.1 63.4 19.4 65.0 16.1 65.2 15.4 65.3 14.9 65.1 13.7 64.9 12.2 64.9 10.4 65.2 8.7 66.0 4.2 66.5 0.0 M65.1 107.0 65.7 106.7 66.0 106.4 66.0 105.8 65.6 104.8 65.5 103.5 65.0 101.8 64.0 96.8 63.8 95.3 63.8 94.8 64.0 94.3 64.2 94.0 64.5 93.9 65.0 93.8 65.5 93.8 66.5 94.0 66.7 93.9 66.9 93.6 66.9 93.1 66.1 90.4 65.8 87.9 65.9 85.4 66.4 79.7 66.4 78.2 65.9 73.5 65.9 72.2 66.0 71.3 66.4 69.5 67.1 68.0 68.0 66.8 70.5 63.6 70.7 63.3 70.8 62.8 70.5 61.6 68.7 57.1 68.1 55.4 67.5 53.4 67.1 51.4 66.7 47.9 66.7 46.4 66.8 45.2 67.1 43.2 68.3 40.0 68.4 39.2 68.2 38.7 67.6 37.5 67.0 35.7 65.7 32.0 65.0 28.8 64.8 27.3 64.7 25.8 64.8 23.6 65.0 22.5 65.3 21.4 66.0 19.4 67.5 16.4 67.7 15.9 67.7 15.4 67.4 12.7 67.4 10.4 67.6 8.7 68.3 5.2 68.9 0.0 M68.1 107.0 66.9 101.5 66.7 99.8 66.8 98.8 67.0 98.5 67.2 98.1 67.7 97.8 68.7 97.7 70.2 97.8 70.5 97.7 70.5 97.6 70.4 97.1 69.3 94.6 68.9 93.3 68.5 91.4 68.4 89.6 68.4 87.1 68.9 81.7 69.1 76.2 69.3 74.0 69.7 72.3 70.3 71.0 71.1 69.8 73.7 66.5 74.0 66.0 74.1 65.5 74.0 64.8 73.1 62.1 70.6 55.9 70.1 54.4 69.8 52.9 69.6 51.1 69.4 49.2 69.4 47.7 69.5 46.2 69.9 43.9 70.4 42.5 71.2 40.7 71.3 40.2 71.3 40.0 69.1 35.0 68.3 32.8 67.7 30.0 67.4 27.1 67.5 24.3 67.8 22.1 68.5 20.1 70.0 16.9 70.2 16.1 70.0 14.6 69.9 13.2 69.8 10.9 70.0 9.4 70.7 5.2 71.3 0.0 M70.3 107.0 70.1 103.8 70.3 103.0 70.6 102.3 71.1 101.8 71.9 101.4 73.4 101.0 74.4 101.0 74.6 100.8 74.1 99.6 71.9 94.8 71.4 93.1 71.1 91.4 71.0 89.6 71.1 87.6 71.7 81.4 72.0 79.4 72.6 77.2 73.3 75.5 74.2 74.0 76.2 71.2 77.3 69.5 77.5 69.0 77.6 68.5 77.5 67.5 77.0 65.8 75.5 62.1 73.5 57.1 73.0 55.6 72.6 54.1 72.4 52.4 72.2 50.4 72.2 48.4 72.3 46.9 72.5 45.7 72.9 44.2 73.5 42.5 74.0 41.5 74.2 41.0 74.1 40.5 71.5 34.5 70.9 32.8 70.3 30.5 70.1 28.3 70.1 25.6 70.6 22.8 71.3 20.4 72.7 17.1 72.8 16.6 72.4 13.7 72.4 11.2 73.8 0.0 M74.1 107.0 74.2 106.8 74.4 106.5 74.9 106.2 75.4 106.1 76.7 106.0 76.9 105.9 77.1 105.5 77.2 104.0 77.0 101.0 76.6 98.8 76.1 96.8 74.7 93.1 74.3 91.1 74.2 89.9 74.2 88.6 74.5 85.6 74.7 84.2 75.2 82.2 76.0 80.2 76.7 78.9 79.1 75.0 80.4 72.2 80.9 71.5 81.0 71.0 80.3 67.8 79.9 66.5 79.2 64.8 76.8 59.1 76.0 56.9 75.6 55.1 75.4 53.6 75.2 51.9 75.2 49.9 75.4 47.9 75.8 45.4 76.4 43.7 77.0 42.2 77.1 41.7 77.1 41.2 76.9 40.7 76.5 39.7 73.5 32.3 72.9 30.3 72.7 28.5 72.6 27.3 72.7 26.1 73.2 23.6 73.9 21.3 75.3 18.4 75.5 17.9 75.4 17.1 75.1 15.4 74.9 14.2 74.8 11.7 75.0 8.4 76.2 0.0 M80.3 107.0 79.9 105.5 79.8 104.0 79.8 100.0 79.7 97.8 79.3 95.3 78.5 91.6 78.3 89.9 78.2 88.4 78.3 86.9 78.7 84.9 79.4 82.9 80.3 81.2 82.3 78.2 83.0 77.0 84.0 74.5 84.1 73.7 84.0 73.0 83.1 68.8 82.5 66.5 81.8 64.5 80.1 61.1 79.5 59.6 78.9 57.8 78.6 56.4 78.3 54.9 78.3 53.4 78.3 51.6 78.5 49.9 79.0 46.4 79.8 43.4 80.2 42.5 80.2 42.0 78.6 38.2 76.3 32.3 75.7 30.3 75.5 28.5 75.4 27.6 75.5 26.3 76.0 24.1 76.7 22.2 78.2 19.1 78.4 18.6 78.3 17.9 77.8 15.9 77.4 14.2 77.2 12.4 77.2 10.9 77.4 8.4 78.5 0.0 M85.5 107.0 85.4 106.8 84.7 106.0 84.4 105.5 84.0 103.8 83.4 99.6 82.5 95.1 82.2 93.1 82.0 90.6 82.0 88.1 82.3 85.9 82.6 84.9 83.0 83.9 83.9 82.2 86.5 78.2 87.1 77.0 87.2 76.5 87.2 76.0 86.1 70.8 85.0 66.0 84.1 63.7 82.0 59.3 81.6 58.1 81.3 56.9 81.1 55.1 81.2 53.1 82.2 45.9 82.8 42.9 82.8 42.2 82.7 41.7 82.1 40.5 81.1 38.0 79.5 33.0 78.7 30.3 78.4 28.3 78.5 26.6 78.9 24.6 79.6 22.8 81.1 19.9 81.3 19.1 81.2 18.6 80.4 16.1 79.9 13.9 79.6 12.4 79.5 11.2 79.6 8.7 80.7 0.0 M99.3 107.0 99.0 106.5 97.6 105.0 97.0 104.5 96.3 104.0 94.8 103.3 91.1 102.3 90.1 101.7 89.3 101.1 88.2 99.8 87.1 97.7 86.2 95.6 85.8 93.6 85.6 92.1 85.7 90.4 85.9 88.6 86.2 86.9 86.6 85.6 87.2 84.2 89.6 79.3 89.7 78.7 89.7 77.5 89.6 75.2 89.3 73.0 88.3 68.5 86.9 63.8 86.2 62.1 84.7 58.6 84.4 57.6 84.2 56.6 84.1 55.4 84.1 54.1 84.7 49.7 85.0 45.4 85.3 43.2 85.3 42.5 85.1 41.8 84.5 40.5 83.9 38.7 83.0 36.0 81.9 31.8 81.4 29.0 81.4 27.1 81.7 25.3 82.2 23.8 83.7 20.4 83.8 19.9 83.6 18.6 82.1 13.7 81.9 12.4 81.8 11.2 81.8 9.9 81.8 8.4 82.6 1.5 82.8 0.0 M105.2 107.0 105.1 106.8 104.0 106.0 103.5 105.5 100.0 100.9 98.5 99.3 97.8 98.7 97.0 98.2 93.7 96.6 92.9 96.1 92.4 95.6 91.8 94.9 91.4 94.3 91.1 93.6 90.9 92.8 90.9 91.9 91.0 90.6 91.7 87.1 92.4 82.9 92.1 78.9 92.1 74.2 92.0 72.5 91.8 70.8 91.3 69.0 89.2 62.1 87.9 58.1 87.4 56.4 87.3 55.1 87.3 53.9 87.5 49.7 87.6 44.4 87.8 42.7 87.6 42.0 86.9 40.5 86.3 39.0 85.5 36.2 84.6 32.3 84.2 29.3 84.2 27.3 84.5 25.6 84.9 24.1 86.0 20.9 86.1 20.1 86.1 19.6 84.4 14.2 84.1 12.7 84.0 11.2 83.9 9.7 84.1 7.9 84.7 1.7 85.0 0.0 M110.6 107.0 110.3 106.5 109.4 105.5 104.0 98.2 98.8 90.1 97.8 88.4 96.2 85.4 95.4 83.4 94.8 81.4 94.6 80.2 94.5 78.7 94.8 73.0 94.7 71.5 94.5 70.0 94.1 68.0 92.7 63.8 91.5 59.6 90.9 57.1 90.6 55.4 90.5 53.4 90.4 48.9 90.2 44.9 90.4 42.9 90.3 42.5 90.2 42.0 89.5 40.7 88.9 39.2 88.1 37.0 87.4 34.0 87.0 31.0 86.8 28.5 87.0 26.6 87.4 24.8 88.4 21.6 88.5 20.9 88.3 19.9 87.4 17.4 86.7 14.9 86.3 13.2 86.1 11.4 86.1 9.7 86.3 7.4 86.8 3.0 87.3 0.0 M113.6 107.0 113.3 106.5 112.5 105.5 108.9 99.9 107.9 98.6 105.7 96.0 104.6 94.6 100.8 88.9 99.7 86.9 98.8 85.2 98.0 83.2 97.5 81.4 97.3 79.9 97.2 78.5 97.4 72.5 97.2 70.0 96.8 67.5 94.6 60.8 94.1 58.6 93.7 56.6 93.4 53.9 93.2 48.2 92.9 44.9 93.0 42.2 92.9 41.7 92.3 40.7 91.5 39.2 90.6 37.0 89.9 34.5 89.5 32.0 89.5 29.8 89.6 27.6 90.0 25.8 91.1 21.4 91.0 20.6 90.4 19.6 89.9 18.4 89.0 15.9 88.5 13.9 88.2 11.9 88.2 9.9 88.4 7.4 89.0 3.7 89.6 0.0 M117.2 107.0 117.1 106.8 115.8 105.5 114.5 103.8 113.5 102.0 111.6 98.6 110.5 96.8 109.4 95.6 106.2 92.2 104.7 90.3 103.2 88.2 102.2 86.6 101.4 85.2 100.8 83.7 100.4 82.2 100.1 80.7 99.9 78.9 99.8 71.5 99.6 68.5 99.3 67.0 98.9 65.5 96.9 59.3 96.5 57.6 96.3 56.1 96.2 53.9 96.3 49.2 95.8 45.7 95.7 44.4 95.8 43.4 96.0 42.5 96.0 42.0 94.5 39.2 93.4 36.5 92.6 34.0 92.3 32.0 92.2 30.3 92.3 28.5 92.7 26.8 93.6 22.6 93.7 21.8 93.4 20.9 92.7 19.6 92.0 18.1 91.1 15.6 90.5 13.4 90.3 11.2 90.4 9.4 90.6 7.2 91.8 0.0 M121.9 107.0 121.7 106.8 120.4 105.8 118.6 104.1 117.1 102.3 115.6 100.1 113.6 96.0 112.7 94.4 111.2 92.6 107.6 89.1 105.7 86.9 104.8 85.6 104.2 84.6 103.7 83.4 103.3 82.2 103.0 80.9 102.8 79.7 102.4 71.0 102.0 67.5 101.3 64.3 99.4 58.6 99.2 57.3 99.0 56.1 98.9 54.1 99.1 51.4 99.1 49.2 98.8 44.2 98.9 41.5 98.7 41.0 98.0 40.0 97.5 39.0 96.6 37.0 95.7 34.3 95.3 32.0 95.2 30.5 95.3 28.8 96.4 22.1 96.2 21.6 94.9 19.4 93.8 16.9 93.1 14.6 92.7 12.4 92.6 10.4 92.7 7.9 93.0 5.5 93.8 0.0 M126.2 107.0 126.1 106.8 125.8 106.5 124.9 105.8 123.7 104.5 120.3 101.3 118.8 99.6 117.6 97.6 115.8 93.6 114.8 91.9 113.4 89.9 110.1 86.1 108.7 84.4 107.6 82.7 107.0 80.9 106.4 78.0 104.8 68.0 104.3 65.5 103.7 62.8 102.2 58.1 101.8 56.1 101.7 55.1 101.7 53.1 101.8 48.2 101.6 43.4 101.7 41.0 101.5 40.5 100.1 38.5 99.4 37.0 98.7 35.0 98.2 32.8 98.1 31.3 98.1 29.8 99.1 23.3 99.1 22.6 98.8 21.8 98.0 20.6 97.3 19.4 96.4 17.4 95.5 14.9 95.0 12.4 94.9 10.2 94.9 7.7 95.1 5.5 95.8 0.0 M127.8 104.4 127.6 104.3 127.3 104.0 126.3 102.5 121.8 97.9 120.6 96.3 117.3 90.4 113.6 84.7 112.4 82.7 111.0 79.9 110.3 77.7 108.1 69.5 106.6 62.8 105.3 57.3 104.8 54.9 104.6 52.6 104.5 47.9 104.2 43.4 104.3 41.5 104.5 40.2 104.5 40.0 104.3 39.7 103.1 38.5 101.9 36.7 101.2 35.3 100.8 33.5 100.7 32.0 100.7 30.5 101.0 29.0 101.7 25.8 101.8 24.3 102.0 23.1 101.7 22.3 100.2 20.4 99.1 18.4 98.2 15.9 97.6 13.2 97.2 10.4 97.2 7.9 97.4 5.5 98.0 0.0 M127.8 99.0 127.6 98.9 127.3 98.5 126.8 97.6 126.3 96.9 122.8 93.1 121.1 91.0 119.1 88.2 117.4 85.4 115.2 81.2 114.0 78.5 113.2 76.0 111.1 69.3 110.3 65.8 109.1 59.1 108.1 54.1 107.3 49.2 106.9 45.2 106.8 42.7 106.9 40.5 107.3 39.5 107.3 39.0 107.2 38.7 107.0 38.5 105.9 37.7 104.8 36.5 103.8 34.8 103.5 34.0 103.3 33.0 103.3 31.8 103.4 30.5 104.4 26.1 104.6 24.3 104.8 23.3 104.8 23.1 104.5 22.6 103.5 21.6 102.9 20.9 102.2 19.9 101.7 18.9 101.2 17.9 100.8 16.6 100.2 13.7 99.9 10.7 99.8 7.9 99.9 5.7 100.4 1.2 100.4 0.0 M127.8 93.3 127.6 93.2 126.6 91.9 123.8 89.3 122.5 87.9 121.1 86.1 120.0 84.4 118.6 81.7 116.6 77.0 115.5 73.7 114.5 70.3 113.9 67.8 113.4 65.3 112.5 59.1 111.7 54.9 111.2 52.4 110.1 47.9 109.6 45.4 109.4 43.2 109.4 41.2 109.6 39.5 110.1 38.2 110.2 37.7 109.9 37.3 109.0 36.7 108.4 36.2 107.5 35.3 106.8 34.0 106.3 32.0 106.3 30.8 106.4 29.5 107.1 25.1 107.4 23.8 107.5 23.3 107.2 22.8 105.6 21.4 104.4 19.6 103.6 17.9 103.2 16.1 103.0 14.2 103.0 11.9 103.7 5.5 103.8 3.5 103.7 2.2 103.2 0.0 M127.8 88.9 127.6 88.8 127.4 88.6 126.6 87.5 123.8 84.6 122.8 83.3 121.9 81.9 120.7 79.4 119.0 75.7 118.1 73.3 117.5 71.0 116.8 68.0 116.1 64.3 115.0 56.1 114.6 53.7 114.1 51.4 112.9 46.9 112.4 44.4 112.1 41.5 112.1 39.2 112.2 38.2 112.8 36.2 112.8 36.0 112.7 35.7 111.7 35.4 110.9 34.9 110.3 34.3 109.8 33.3 109.5 32.3 109.2 30.5 109.1 28.3 109.2 26.3 109.5 25.3 109.9 24.1 109.9 23.6 109.9 23.3 109.6 22.8 108.0 21.4 107.1 20.1 106.4 18.9 106.0 17.4 105.9 15.6 106.2 13.9 106.5 12.9 107.0 11.7 107.8 10.4 107.9 9.9 107.9 9.4 107.3 6.5 106.6 4.2 105.2 0.5 105.1 0.0 M127.8 84.5 127.6 84.4 127.3 84.1 126.6 83.0 125.0 81.2 124.0 79.7 123.1 78.2 122.1 76.2 121.3 74.2 120.6 72.2 120.1 70.3 119.0 65.3 118.4 62.3 118.1 60.1 117.4 53.6 115.9 46.4 114.7 38.7 114.6 36.5 115.1 34.3 114.9 34.0 113.9 34.0 113.3 33.8 112.8 33.3 112.4 32.5 112.1 31.5 111.5 29.0 111.3 27.3 111.4 26.6 111.6 25.6 111.7 25.1 112.3 24.1 112.4 23.6 112.3 23.3 112.0 22.8 110.8 21.8 110.2 21.1 109.4 19.9 109.1 18.9 108.9 17.6 109.2 16.4 109.4 15.9 109.9 15.2 110.2 14.9 110.9 14.5 111.0 14.2 110.0 10.9 109.3 7.0 108.9 5.5 108.4 3.7 107.1 0.5 107.0 0.0 M127.8 80.2 127.6 80.1 127.3 79.7 125.6 77.0 124.9 75.7 124.3 74.2 123.6 72.0 121.0 62.8 120.5 59.8 120.1 53.4 119.1 47.4 118.5 42.2 118.1 40.0 117.0 36.2 116.6 34.5 116.7 34.0 116.9 33.3 116.9 33.1 116.6 32.8 115.4 32.1 115.2 31.8 113.6 27.5 113.5 26.6 113.7 25.6 114.0 24.8 114.8 23.6 115.0 23.3 115.0 23.1 114.7 22.8 113.5 22.1 112.9 21.6 112.4 20.9 112.0 19.9 112.0 19.1 112.2 18.4 112.8 17.6 113.6 17.1 113.7 16.6 113.5 15.9 112.9 14.6 112.1 11.9 110.7 5.5 110.2 3.5 109.0 0.0 M116.7 31.0 116.8 30.8 116.6 30.6 116.4 30.7 116.5 31.0 116.7 31.0 M127.8 75.0 127.6 74.8 127.3 74.2 126.1 69.5 125.2 67.0 123.9 63.6 123.3 61.3 123.1 59.3 123.0 54.9 122.8 52.1 122.0 47.2 121.4 42.0 121.1 39.7 120.3 36.7 119.0 32.3 118.9 31.5 119.2 30.5 119.2 30.0 119.0 29.8 118.4 29.7 118.0 27.8 117.9 27.6 117.0 27.3 116.2 26.3 116.0 25.8 116.0 25.3 116.2 24.6 116.5 24.1 117.4 23.3 117.6 23.1 117.5 22.8 117.2 22.6 116.1 22.1 115.7 21.8 115.2 21.4 115.0 20.9 114.9 20.4 115.0 20.1 115.4 19.6 115.9 19.5 116.9 19.5 117.1 19.4 117.2 19.1 117.2 18.9 116.6 18.1 115.6 16.6 114.5 13.9 113.9 11.4 112.6 5.5 111.1 0.0 M118.8 27.1 118.8 26.8 118.6 26.3 118.3 26.6 118.2 27.1 118.4 27.2 118.6 27.2 118.8 27.1 M118.1 30.3 117.9 30.3 117.8 30.0 117.9 29.9 118.1 29.8 118.2 30.0 118.1 30.3 M127.8 65.6 127.6 65.4 127.1 64.3 126.5 62.1 126.2 60.8 126.1 59.1 126.2 55.1 126.1 53.1 124.6 45.7 123.8 40.0 123.4 37.5 122.6 34.3 121.2 29.0 121.2 28.3 121.4 26.8 121.4 26.1 121.3 25.8 121.1 25.4 120.7 25.1 120.5 24.8 120.4 24.3 120.3 24.1 119.9 23.9 119.1 23.9 118.9 23.8 119.3 22.8 119.9 22.4 120.1 22.1 120.1 21.8 120.0 21.6 119.9 21.4 119.6 21.3 119.4 21.4 118.6 21.8 118.2 21.6 118.1 21.4 118.2 21.1 118.9 20.8 119.1 20.6 119.3 20.1 119.3 19.9 119.1 19.6 118.5 18.9 117.9 17.6 117.0 15.1 116.5 13.4 115.5 8.7 113.4 0.0 M118.9 24.1 118.8 24.1 118.9 24.0 118.9 24.1 118.9 24.1 M119.9 27.0 119.6 26.3 119.6 26.1 119.9 25.6 120.0 25.8 120.1 26.6 120.1 26.8 119.9 27.0 M127.8 46.9 127.6 46.5 127.3 45.5 126.5 38.7 125.7 34.8 124.6 30.8 123.2 26.3 122.6 24.6 122.6 24.1 122.8 23.8 123.4 23.6 123.4 23.3 123.4 22.8 123.3 22.6 122.5 21.8 122.1 21.1 121.5 20.4 121.2 19.6 121.2 19.1 121.3 18.8 121.6 18.6 122.1 18.6 122.3 18.4 122.1 16.6 121.8 15.7 121.6 15.3 121.3 15.3 121.1 15.6 120.6 16.9 120.5 16.6 118.7 9.9 117.1 4.7 116.2 0.0 M124.9 21.8 124.8 21.8 124.9 21.8 M125.0 24.6 125.2 24.3 125.2 24.1 124.9 23.8 124.3 23.7 123.8 23.8 123.7 24.1 123.8 24.3 124.1 24.5 124.6 24.7 125.0 24.6 M127.8 21.9 126.8 21.2 125.3 20.6 125.0 20.4 124.9 20.1 124.7 18.9 124.6 14.2 124.6 14.0 124.3 13.9 123.8 14.0 123.6 13.7 123.3 12.4 123.4 10.9 123.3 9.9 123.1 9.6 122.8 9.5 122.0 9.2 121.7 8.7 121.2 7.4 120.8 6.2 120.6 4.7 120.3 0.0 M123.8 6.5 123.9 6.2 123.9 5.7 123.8 5.5 123.6 5.3 123.3 5.5 123.2 6.0 123.3 6.3 123.5 6.5 123.6 6.5 123.8 6.5 M127.8 25.2 127.6 25.1 127.1 24.5 126.3 23.8 125.9 23.3 125.8 23.1 126.8 22.8 127.8 22.4 M127.8 18.5 127.6 18.2 127.4 17.6 126.6 13.1 126.1 11.0 125.6 7.2 125.0 4.2 123.7 0.0 M127.8 5.2 127.6 4.9 127.3 4.1 126.6 1.5 126.2 0.5 126.1 0.0" fill="none" stroke="#86280a" stroke-width="1.25" stroke-opacity="1"/>
<path d="M20.8 1.3 21.0 1.2 22.0 0.5 22.3 0.2 22.4 0.0 M20.8 4.9 21.0 4.8 22.3 3.5 25.7 1.0 26.0 0.5 26.0 0.0 M20.8 11.7 21.0 11.2 21.8 8.7 22.3 7.8 23.2 6.7 24.2 5.7 25.7 4.5 27.5 3.1 27.9 2.7 28.1 2.2 28.6 0.0 M20.8 23.8 21.0 23.7 22.2 22.6 22.4 22.1 22.3 21.6 22.0 20.6 21.5 17.9 21.0 15.6 20.8 15.0 M20.8 53.7 21.0 53.4 21.5 52.1 22.0 51.1 22.1 50.6 22.0 49.9 21.3 47.3 21.0 46.6 20.8 46.4 M20.8 73.3 21.0 73.1 21.3 72.8 21.6 72.0 21.6 71.5 21.0 69.7 20.8 69.4 M20.8 103.8 20.8 103.8 M23.8 107.0 23.9 104.5 23.9 103.0 23.0 97.8 23.0 97.1 23.0 96.1 22.2 94.1 22.0 92.8 21.4 81.7 21.6 79.2 22.0 77.3 23.4 74.5 24.3 73.0 24.5 72.5 24.4 71.7 23.5 69.5 22.9 67.0 22.5 65.0 22.4 63.1 22.6 60.8 23.0 58.3 23.5 56.4 24.2 54.1 24.5 53.4 24.6 52.9 24.4 51.9 22.2 44.4 22.0 43.2 21.8 41.7 21.8 40.2 22.0 39.0 22.6 37.7 23.5 36.5 23.6 36.0 23.3 35.5 22.6 34.5 22.0 33.6 21.8 33.0 21.2 30.8 21.1 30.0 21.1 29.3 21.5 27.8 21.8 27.1 22.0 26.7 23.0 25.8 24.8 24.6 25.0 24.3 25.1 24.1 24.5 21.4 23.9 16.1 23.9 14.9 24.0 13.7 24.2 12.7 24.5 11.7 24.9 10.7 25.4 9.7 26.7 7.9 28.1 6.5 30.3 4.7 30.5 4.4 30.7 3.2 31.1 1.7 31.7 0.2 31.7 0.0 M26.8 107.0 27.2 103.3 27.2 102.0 27.1 100.8 26.7 97.1 25.4 94.3 25.1 93.3 24.9 92.4 24.7 90.6 24.5 82.4 24.7 80.2 25.2 78.2 26.5 75.0 27.0 74.1 27.6 73.2 27.7 73.0 26.6 70.5 25.9 68.5 25.4 66.5 25.3 64.5 25.4 63.1 25.8 61.3 26.4 59.3 27.7 56.4 27.8 55.9 27.5 54.9 26.5 52.5 25.8 50.4 25.0 47.4 24.5 44.9 24.4 42.7 24.6 41.0 25.0 39.7 25.6 38.7 26.4 37.5 26.5 37.0 26.3 36.5 25.2 34.8 24.5 33.3 24.1 31.8 24.0 30.5 24.3 29.5 24.5 29.0 25.0 28.4 26.0 27.6 27.9 26.6 28.2 26.3 28.3 26.1 28.2 25.8 27.5 23.8 27.2 22.8 26.8 19.9 26.7 18.6 26.7 17.1 26.8 15.9 27.2 14.4 27.6 12.9 28.5 11.0 29.5 9.4 30.7 8.2 32.5 6.7 32.9 6.2 33.1 5.7 33.2 4.7 33.6 3.7 34.5 1.5 35.0 0.5 35.2 0.0 M29.6 107.0 30.1 104.5 30.5 102.8 30.6 101.8 30.2 99.8 28.4 94.6 27.8 92.4 27.6 89.6 27.6 84.2 27.8 81.7 28.2 79.7 29.7 75.5 30.5 74.2 30.6 74.0 30.5 73.5 29.0 70.5 28.4 68.8 28.0 67.0 27.9 65.3 28.1 63.6 28.6 62.1 29.6 60.3 30.9 58.6 31.1 58.1 31.0 57.6 30.4 56.1 28.9 52.9 28.1 50.9 27.5 48.9 27.0 46.7 26.9 44.4 26.9 43.4 27.1 42.5 27.7 41.0 28.8 39.2 29.4 38.5 29.5 38.2 29.5 38.0 28.2 35.7 27.7 34.5 27.3 33.3 27.3 32.3 27.5 31.3 28.1 30.3 29.0 29.4 30.8 28.1 31.1 27.8 31.2 27.6 31.1 26.8 30.6 25.6 30.0 23.6 29.4 20.6 29.3 19.6 29.2 18.4 29.3 17.1 29.6 15.9 29.9 14.6 30.8 12.7 31.9 10.9 33.2 9.5 35.0 8.1 35.3 7.7 35.5 7.2 36.2 5.0 38.0 0.5 38.2 0.0 M32.4 107.0 32.7 105.9 32.8 105.3 32.6 102.0 32.2 99.6 30.9 94.6 30.6 92.6 30.3 89.6 30.2 86.4 30.4 83.9 30.8 81.9 32.6 77.2 33.4 75.5 33.5 75.0 33.3 74.5 31.8 71.5 31.0 69.5 30.5 67.8 30.3 66.0 30.5 64.5 30.9 63.3 31.9 61.8 33.4 60.1 33.6 59.6 33.6 59.1 32.9 56.6 31.2 52.4 30.6 50.6 30.1 48.9 29.8 47.4 29.7 46.4 29.8 45.4 29.9 44.4 30.1 43.7 30.7 42.4 31.8 40.7 32.6 39.7 32.7 39.5 32.7 39.2 32.5 38.7 31.6 37.5 30.9 36.0 30.5 34.8 30.3 33.5 30.5 32.8 30.6 32.3 31.2 31.3 32.2 30.3 33.8 29.0 33.9 28.8 33.8 28.1 33.3 26.3 32.7 23.1 32.3 21.4 32.1 19.9 32.0 18.6 32.0 17.6 32.4 15.6 33.1 13.9 34.2 12.2 35.2 11.1 37.4 9.2 37.8 8.7 38.6 6.0 40.6 0.5 40.7 0.0 M34.8 107.0 34.7 102.5 34.5 100.8 34.2 99.1 33.4 94.6 33.0 91.6 32.8 89.1 32.8 86.9 33.1 84.9 33.6 83.2 34.7 80.7 35.7 78.2 36.3 77.2 36.4 77.0 36.0 75.7 34.4 72.2 33.5 70.0 33.0 68.0 32.9 66.5 32.9 65.8 33.1 65.0 33.7 63.8 34.6 62.6 36.1 61.1 36.2 60.8 36.2 60.6 35.6 57.6 34.2 53.1 33.7 51.4 33.4 49.7 33.3 48.2 33.6 46.7 34.0 45.4 35.2 43.7 35.8 42.7 36.8 41.7 36.9 41.5 36.9 41.2 36.9 41.0 36.6 40.5 34.9 38.5 34.0 37.0 33.7 36.2 33.4 35.5 33.3 34.3 33.6 33.3 34.1 32.3 35.3 31.0 36.4 30.2 36.7 29.8 36.6 29.3 36.0 27.6 35.9 26.8 35.2 20.9 35.1 18.4 35.3 17.1 35.5 16.1 36.1 14.6 36.8 13.4 37.8 12.2 39.8 10.2 40.1 9.7 40.3 9.2 40.5 7.9 40.8 6.7 42.3 2.2 42.9 0.0 M36.8 107.0 36.6 100.5 36.0 95.1 35.8 92.4 35.7 89.6 35.8 87.6 36.0 86.1 36.4 84.7 38.4 80.2 39.2 79.1 39.2 78.7 39.0 77.7 37.5 74.2 36.6 71.7 36.0 69.8 35.8 68.3 35.8 67.3 35.9 66.5 36.1 65.8 36.4 65.0 37.1 64.1 38.1 63.1 38.9 62.4 39.1 62.1 39.1 61.8 38.8 60.8 37.2 54.6 36.9 52.6 36.8 51.1 37.1 49.7 37.6 48.4 38.2 47.4 39.2 46.2 40.0 44.7 40.9 43.5 41.0 43.2 40.9 42.7 40.5 42.0 38.5 39.5 37.2 37.5 36.7 36.2 36.6 35.5 36.6 35.0 36.8 34.0 37.2 33.3 38.0 32.3 39.2 31.3 39.5 30.8 39.4 30.0 38.9 28.8 38.5 27.6 38.4 26.3 38.1 23.6 38.1 21.8 38.2 20.1 38.3 18.6 38.6 17.1 39.1 15.6 39.8 14.2 40.6 12.9 42.5 10.4 42.7 9.9 42.8 8.4 43.1 7.2 45.1 0.0 M38.9 107.0 38.8 103.8 38.8 97.1 38.9 94.1 39.4 89.1 39.7 86.9 40.6 83.7 41.2 82.2 41.9 81.1 42.0 80.7 41.8 79.7 40.8 77.0 39.7 73.7 39.3 72.0 39.1 70.5 39.1 69.5 39.2 68.5 39.4 67.8 39.6 67.0 40.3 66.0 41.4 64.8 42.2 64.2 42.3 64.1 42.3 63.8 40.9 59.3 40.2 56.9 39.9 54.9 39.9 53.1 40.1 51.9 40.7 50.5 41.4 49.4 42.7 47.7 43.9 45.7 44.4 45.0 44.4 44.7 44.3 44.2 44.1 43.7 42.5 41.5 41.0 39.0 40.4 37.7 40.1 36.7 40.0 36.0 40.1 35.5 40.4 34.5 40.7 34.0 41.4 33.3 42.6 32.3 42.8 32.0 42.8 31.8 42.3 31.0 41.8 29.8 41.3 27.8 40.9 24.3 40.9 21.8 41.1 20.4 41.4 18.6 42.2 15.9 43.1 13.9 44.0 12.4 44.8 11.4 45.0 10.9 45.1 9.2 45.4 7.7 47.4 0.0 M41.2 107.0 41.0 104.8 41.0 102.5 41.2 100.3 41.4 98.3 41.8 96.3 43.0 90.4 43.4 87.1 43.7 85.6 44.1 84.2 44.7 83.2 44.8 82.7 44.7 81.9 44.2 80.7 43.6 78.9 43.0 76.2 42.6 73.7 42.6 71.7 42.9 70.4 43.4 69.2 44.3 67.8 45.5 66.5 45.7 66.3 45.7 66.0 44.8 63.6 43.5 59.1 43.1 56.9 43.0 55.9 43.0 54.9 43.3 53.6 43.9 52.2 44.5 51.1 46.2 48.7 46.8 47.4 47.4 46.7 47.6 46.2 47.4 45.7 44.3 40.2 43.8 39.0 43.5 38.0 43.5 36.7 43.8 35.7 44.5 34.5 45.4 33.5 45.7 33.0 45.6 32.5 44.6 30.5 44.2 28.8 43.7 24.8 43.6 23.6 43.7 22.3 44.2 19.4 45.0 16.4 45.9 14.4 46.4 13.4 47.3 12.2 47.5 11.7 47.6 9.9 47.9 8.4 49.6 1.5 50.0 0.0 M43.7 107.0 43.6 102.8 43.7 101.0 43.9 99.6 44.4 97.3 45.8 93.3 46.8 87.1 47.2 86.1 47.8 85.2 47.8 84.9 47.6 83.9 47.0 82.7 46.5 81.2 46.0 79.4 45.6 77.0 45.7 75.7 45.8 74.7 46.1 73.2 46.7 72.0 47.6 70.8 48.3 70.0 48.9 69.5 49.1 69.3 49.1 69.0 48.9 68.0 47.4 63.8 46.9 61.8 46.6 60.3 46.5 59.1 46.5 56.9 46.8 55.4 47.4 53.6 48.4 51.6 50.3 48.4 50.4 47.9 49.9 46.4 47.5 41.2 47.1 40.2 46.9 39.2 46.8 38.0 47.1 36.7 47.8 35.5 48.2 35.0 48.9 34.4 49.0 34.0 49.0 33.8 48.4 33.0 47.6 31.5 47.1 29.8 46.6 25.6 46.5 24.1 46.6 22.3 47.0 19.4 47.7 16.9 48.6 14.9 49.1 14.0 50.0 12.9 50.3 12.2 50.4 10.7 50.6 9.2 52.0 3.0 52.3 1.5 52.8 0.0 M46.4 107.0 46.4 102.8 46.5 101.3 46.7 100.0 47.1 98.6 48.0 96.6 48.8 94.1 50.1 89.1 50.4 88.4 50.9 87.6 51.0 87.4 51.0 87.1 50.9 86.6 49.5 83.9 48.9 82.2 48.5 80.7 48.4 79.2 48.4 78.2 48.5 77.2 48.8 76.2 49.1 75.5 49.5 74.7 50.1 74.0 51.1 73.0 51.8 72.3 52.1 71.7 52.0 70.8 51.4 68.0 50.3 64.5 49.9 62.8 49.7 61.1 49.8 59.6 50.2 57.6 51.1 54.9 52.0 52.6 53.2 50.4 53.3 49.9 52.9 48.7 50.7 42.7 50.3 41.5 50.1 40.5 50.0 39.2 50.3 38.0 50.8 36.7 51.9 35.3 52.1 34.8 51.9 34.0 50.9 32.5 50.3 31.1 50.0 30.0 49.6 28.1 49.4 26.6 49.4 25.1 49.4 23.1 49.5 21.4 49.8 18.9 50.5 16.9 51.3 15.4 51.8 14.6 52.8 13.5 53.1 12.9 53.3 10.4 54.5 4.2 55.1 1.5 55.6 0.0 M49.4 107.0 49.6 102.5 49.8 101.3 50.2 99.8 50.6 98.3 52.7 91.9 53.2 90.9 54.0 89.9 54.0 89.6 53.9 88.9 52.6 86.4 51.7 84.2 51.3 82.7 51.1 81.2 51.1 80.2 51.2 79.4 51.4 78.7 51.7 78.0 52.1 77.2 52.6 76.6 53.2 76.0 54.1 75.3 54.2 75.0 54.3 74.5 54.2 69.5 54.0 68.3 53.0 63.8 52.9 62.3 53.0 61.1 53.4 59.1 54.3 56.6 55.1 54.9 56.5 52.6 56.6 52.1 56.5 51.6 55.0 47.9 54.2 45.9 53.5 43.7 53.2 42.0 53.1 40.5 53.2 39.7 53.4 39.0 54.0 37.7 55.3 36.0 55.4 35.7 55.5 35.3 55.3 34.8 54.4 33.3 53.8 32.0 53.3 30.8 52.6 28.5 52.4 27.1 52.2 25.3 52.2 22.8 52.3 21.1 52.6 19.3 53.2 17.6 53.8 16.4 54.5 15.4 55.6 14.2 55.8 13.7 56.0 11.4 56.3 9.2 57.5 3.2 58.3 0.0 M52.6 107.0 53.2 101.3 53.4 99.8 53.8 98.1 54.6 95.3 55.1 93.8 55.6 92.8 55.8 92.6 56.3 92.1 56.4 91.9 56.2 90.9 55.3 88.4 54.6 86.4 54.2 84.9 54.1 83.7 54.1 82.9 54.2 82.2 54.7 81.2 55.1 80.7 55.6 80.2 55.8 80.1 56.8 79.9 57.0 79.5 57.1 79.2 57.0 78.7 56.7 77.7 56.4 75.5 56.4 73.7 56.6 71.3 56.6 70.0 56.5 68.0 56.0 64.1 56.0 62.8 56.1 61.8 56.5 60.1 57.2 58.1 58.2 56.4 59.5 54.6 59.7 54.1 59.6 53.6 58.8 50.9 56.8 45.7 56.4 44.4 56.2 43.2 56.1 41.5 56.4 40.0 57.0 38.7 58.6 36.5 58.7 36.0 58.5 35.5 58.0 34.5 56.3 30.5 55.6 28.5 55.4 27.3 55.3 25.8 55.2 23.8 55.3 21.8 55.6 20.1 56.1 18.4 56.8 17.1 58.3 15.0 58.6 14.4 58.6 13.9 58.6 11.9 58.8 9.9 60.4 1.5 60.8 0.0 M55.7 107.0 56.3 101.0 56.6 99.1 57.0 97.3 57.4 96.1 57.8 95.2 58.1 94.8 58.8 94.4 58.9 94.1 58.8 93.3 57.7 90.6 57.2 88.9 57.0 87.4 57.1 86.4 57.3 85.6 57.5 85.4 58.0 85.0 58.5 84.8 60.0 84.7 60.3 84.4 60.2 83.7 59.9 82.4 59.0 77.7 58.8 76.0 58.8 74.7 59.1 69.3 59.2 65.0 59.4 63.3 59.7 61.6 60.3 59.8 61.5 57.6 62.5 56.1 62.6 55.9 61.0 50.2 59.6 45.7 59.3 43.9 59.2 42.5 59.5 41.0 60.2 39.5 61.5 37.5 61.6 37.0 59.1 30.3 58.5 28.5 58.2 26.3 58.2 23.6 58.5 21.4 59.1 19.4 59.9 17.6 61.3 15.4 61.5 14.9 61.2 12.7 61.3 10.4 61.5 8.9 62.3 4.7 63.1 0.0 M58.6 107.0 59.4 101.3 59.8 99.3 60.1 98.6 60.4 98.1 60.8 97.8 61.3 97.7 61.5 97.3 61.3 95.8 60.2 93.1 59.7 91.4 59.6 90.4 59.6 89.4 59.8 88.9 60.0 88.6 60.4 88.4 61.3 88.2 62.5 88.3 62.7 88.1 62.8 87.9 62.3 84.9 62.1 79.9 61.6 73.7 61.6 71.7 61.8 69.5 62.3 67.1 62.9 65.0 63.5 63.4 65.1 60.1 65.6 58.6 65.6 57.8 64.7 55.4 63.9 52.4 62.8 47.2 62.5 44.7 62.5 43.2 62.7 42.0 63.1 40.7 63.7 39.5 64.2 38.5 64.3 38.0 63.4 35.5 61.5 29.5 61.0 27.3 60.9 25.3 61.0 22.8 61.6 20.6 62.3 18.9 63.9 15.6 64.1 15.1 64.1 14.6 63.8 13.7 63.7 12.7 63.7 10.4 64.0 8.7 64.9 3.7 65.4 0.0 M62.0 107.0 62.1 106.5 63.0 104.0 63.3 103.5 64.0 103.0 64.2 102.5 64.2 102.0 64.1 101.0 62.5 94.6 62.4 93.6 62.4 92.8 62.6 92.4 63.0 92.0 63.7 91.8 65.2 91.9 65.4 91.6 65.3 90.9 64.8 88.6 64.6 86.9 64.6 84.9 65.0 80.9 65.1 78.9 65.0 77.7 64.4 73.5 64.4 72.0 64.5 70.5 65.0 68.8 65.6 67.3 66.5 65.8 68.4 63.1 69.0 62.1 69.2 61.6 69.1 61.1 69.0 60.6 67.5 57.1 66.8 54.9 66.3 52.9 65.8 50.4 65.4 46.7 65.4 45.4 65.4 44.2 65.9 42.2 66.5 40.5 67.0 39.5 67.1 39.0 66.0 36.5 64.4 31.5 63.7 28.3 63.4 25.6 63.5 23.3 64.0 21.1 64.7 19.4 66.4 16.1 66.5 15.6 66.5 15.1 66.2 12.7 66.2 10.4 66.4 8.7 67.2 4.7 67.7 0.0 M67.1 107.0 66.3 103.5 65.7 100.8 65.3 98.6 65.2 97.3 65.3 96.8 65.4 96.3 65.6 96.1 66.0 95.8 66.7 95.7 68.5 96.1 68.7 95.8 68.5 94.8 67.9 93.3 67.5 91.9 67.2 90.1 67.1 88.9 67.1 86.1 67.7 80.4 67.6 74.2 67.6 72.2 68.0 70.8 68.6 69.3 69.5 68.1 71.6 65.5 72.2 64.6 72.4 64.1 72.3 63.3 71.9 62.2 69.8 57.1 69.3 55.6 68.9 54.1 68.5 52.4 68.1 48.7 68.0 47.2 68.1 45.7 68.3 44.4 68.6 43.2 69.4 41.2 69.9 40.2 69.9 40.0 69.8 39.5 68.8 37.2 67.8 34.8 67.0 32.5 66.3 29.3 66.0 26.3 66.1 23.8 66.6 21.6 67.2 19.9 68.7 16.6 68.9 16.1 68.9 15.6 68.6 12.7 68.6 10.7 68.8 8.9 69.4 5.7 70.1 0.0 M69.1 107.0 68.4 102.8 68.4 101.5 68.6 100.8 69.0 100.2 69.5 99.9 70.5 99.6 72.2 99.4 72.5 99.3 72.6 99.1 72.4 98.6 71.1 96.1 70.5 94.6 70.0 92.6 69.7 90.6 69.6 88.9 69.7 87.1 70.2 82.9 70.4 79.2 70.7 76.7 71.2 74.7 71.9 73.0 72.7 71.7 75.0 68.8 75.8 67.5 75.9 67.0 75.5 65.5 74.5 62.6 72.0 56.4 71.6 55.1 71.2 53.6 71.0 51.9 70.8 49.9 70.8 48.2 70.9 46.7 71.3 44.4 71.8 42.9 72.6 41.0 72.6 40.2 72.5 39.7 70.3 34.8 69.6 32.8 69.0 30.3 68.7 27.8 68.7 26.3 68.8 24.8 69.2 22.3 70.0 20.1 71.5 16.9 71.5 16.1 71.1 13.4 71.1 11.2 72.5 0.0 M71.7 107.0 71.8 106.0 72.0 105.0 72.4 104.3 72.7 103.9 73.2 103.5 73.9 103.2 74.4 103.0 75.4 103.1 75.7 103.0 75.9 102.7 76.0 102.3 76.0 101.8 75.2 98.8 73.2 93.9 72.8 92.6 72.6 91.4 72.5 89.9 72.5 88.1 73.0 83.7 73.3 81.7 73.9 79.5 74.7 77.7 75.4 76.5 77.4 73.3 79.1 70.5 79.3 70.0 79.3 69.8 79.1 68.6 78.6 66.5 75.1 57.8 74.5 56.1 74.1 54.4 73.8 52.9 73.7 50.9 73.7 48.9 73.8 47.2 74.3 44.9 74.7 43.7 75.5 41.7 75.6 41.0 72.2 32.5 71.6 30.5 71.4 28.5 71.4 26.1 71.6 24.6 71.9 23.3 72.6 20.9 74.0 17.9 74.2 17.1 73.8 15.6 73.6 14.2 73.6 12.9 73.6 11.4 73.9 8.2 75.0 0.0 M78.9 107.0 78.3 104.0 78.3 100.3 78.0 98.1 77.7 96.2 76.6 92.6 76.3 91.1 76.2 89.1 76.2 86.9 76.6 84.7 77.4 82.4 78.3 80.7 80.3 77.5 81.1 76.0 82.4 73.1 82.5 72.2 81.8 68.5 81.2 66.5 80.6 64.8 79.0 61.3 78.2 59.6 77.6 57.6 77.1 55.9 76.9 54.4 76.8 52.6 76.8 50.6 77.0 48.4 77.2 46.9 77.5 45.7 78.1 43.7 78.6 42.5 78.7 42.0 78.3 40.7 74.8 32.0 74.3 30.3 74.0 28.5 74.0 27.6 74.1 26.3 74.3 25.1 74.6 23.8 75.4 21.4 77.0 18.1 77.0 17.6 76.6 16.4 76.2 14.4 76.0 12.9 76.0 10.9 76.2 8.4 77.4 0.0 M82.2 107.0 81.8 105.8 81.6 104.3 81.5 98.6 80.3 91.4 80.2 89.1 80.3 87.1 80.6 85.2 81.2 83.4 82.2 81.7 84.1 78.7 84.9 77.5 85.6 75.7 85.8 75.0 84.3 68.3 83.7 66.0 82.9 64.1 80.8 59.6 80.3 58.1 80.0 56.9 79.7 54.6 79.8 51.9 80.5 47.4 81.5 42.7 81.5 42.2 81.4 41.7 79.8 38.0 77.9 32.5 77.2 30.3 76.9 28.5 76.9 26.6 77.1 25.3 77.4 24.3 78.1 22.6 79.8 19.4 79.9 18.9 79.9 18.4 78.8 14.6 78.4 12.7 78.3 11.2 78.5 8.7 79.6 0.0 M96.6 107.0 96.5 106.8 96.0 106.4 95.3 106.1 94.3 105.8 93.0 105.6 90.3 105.5 89.3 105.3 88.3 104.8 87.6 104.2 87.1 103.6 86.7 103.0 85.9 101.0 84.5 96.3 84.0 93.6 83.8 91.6 83.8 89.4 84.0 87.4 84.3 85.6 84.8 84.4 85.3 83.2 88.3 78.3 88.5 77.7 88.5 77.2 88.3 74.7 87.8 72.2 86.3 66.3 85.3 63.3 83.3 58.8 82.7 56.9 82.6 55.4 82.6 53.6 83.2 49.4 83.8 44.9 84.0 43.2 84.1 42.5 83.9 41.7 82.5 38.2 81.4 35.0 80.4 31.3 79.9 28.8 79.9 26.8 80.3 25.1 80.9 23.3 82.4 20.1 82.6 19.4 82.5 18.6 81.0 13.7 80.8 12.4 80.6 11.2 80.7 8.7 81.8 0.0 M101.7 107.0 101.4 106.5 100.7 105.8 99.5 104.1 98.6 103.0 97.8 102.3 97.0 101.8 96.0 101.2 93.3 100.1 92.3 99.7 91.4 99.1 90.6 98.3 89.6 97.2 88.8 96.0 88.2 94.6 87.9 93.3 87.8 92.4 87.9 91.4 88.2 89.1 89.4 84.9 90.8 80.7 90.9 80.2 90.8 74.2 90.5 71.7 89.8 68.8 88.1 63.1 86.3 58.3 85.8 56.6 85.6 55.4 85.7 54.1 86.1 49.9 86.3 45.9 86.5 42.7 86.4 42.0 85.1 38.7 84.3 36.2 83.3 32.0 82.8 29.3 82.8 27.3 83.1 25.3 83.7 23.6 85.0 20.1 85.0 19.6 83.3 13.9 83.0 12.4 82.9 11.2 82.9 9.7 83.0 8.2 83.7 1.5 83.9 0.0 M109.1 107.0 108.9 106.6 107.4 105.0 106.7 104.1 105.7 102.9 105.0 102.3 104.0 101.0 103.5 100.3 102.9 99.6 101.9 98.1 101.5 97.3 100.8 96.3 100.4 95.6 99.4 94.1 98.7 93.3 98.2 92.6 97.5 91.9 96.4 90.4 95.6 88.6 95.4 87.1 93.9 82.9 93.5 81.4 93.3 80.2 93.3 78.9 93.4 73.5 93.4 72.0 93.2 70.5 92.7 68.5 91.5 64.8 89.5 58.1 89.0 55.6 88.9 53.4 89.0 49.4 88.9 44.7 89.0 42.7 88.8 42.0 88.1 40.5 87.5 39.0 86.8 36.7 86.1 33.5 85.6 30.3 85.5 28.1 85.7 26.1 86.1 24.6 87.2 21.4 87.3 20.6 87.2 19.9 86.2 16.9 85.5 14.4 85.2 12.7 85.0 11.2 85.0 9.4 85.2 7.4 85.8 1.7 86.1 0.0 M112.1 107.0 112.0 106.8 111.1 105.8 107.9 101.0 103.9 95.8 99.6 89.1 98.5 87.2 97.5 85.2 96.7 83.2 96.2 81.4 95.9 79.9 95.8 78.5 96.1 73.0 96.0 70.3 95.8 69.0 95.5 67.8 94.0 63.3 93.2 60.6 92.6 58.3 92.3 56.4 92.0 53.9 91.8 47.7 91.6 45.2 91.6 42.5 91.4 41.7 90.7 40.5 90.1 39.0 89.3 36.7 88.6 34.3 88.2 31.5 88.2 29.0 88.4 26.8 88.8 24.8 89.9 21.1 89.8 20.6 88.5 17.6 87.9 15.6 87.4 13.7 87.2 11.7 87.1 9.7 87.3 7.4 87.9 3.2 88.5 0.0 M115.3 107.0 115.2 106.8 114.2 105.8 113.9 105.3 112.8 103.5 110.7 99.8 109.7 98.3 108.7 97.1 105.5 93.5 104.0 91.5 102.0 88.5 100.8 86.6 100.0 84.9 99.4 83.4 98.9 81.7 98.7 80.2 98.5 78.7 98.6 71.7 98.4 69.0 97.8 66.3 96.2 61.6 95.7 59.6 95.2 57.6 95.0 55.9 94.8 53.6 94.8 48.9 94.3 44.7 94.3 43.4 94.5 42.2 94.3 41.7 93.7 40.7 92.9 39.0 92.0 36.7 91.3 34.5 90.9 32.3 90.8 30.3 90.9 28.3 91.4 26.1 92.3 22.3 92.4 21.6 92.2 20.9 90.9 18.1 90.1 16.1 89.6 14.2 89.3 12.2 89.3 10.2 89.5 7.7 89.9 4.5 90.7 0.0 M119.5 107.0 119.4 106.8 119.1 106.5 118.4 106.0 117.8 105.5 115.9 103.2 114.6 101.0 112.4 96.9 111.4 95.3 110.3 94.1 106.9 90.8 105.7 89.3 104.5 87.7 103.5 86.2 102.7 84.9 102.2 83.7 101.7 82.2 101.5 80.9 101.3 79.4 101.1 71.3 100.8 68.0 100.1 65.0 98.2 59.1 97.8 57.6 97.6 56.1 97.5 53.9 97.7 49.7 97.2 43.7 97.5 42.0 97.3 41.5 96.1 39.2 95.1 37.0 94.2 34.3 93.8 32.0 93.7 30.3 93.8 28.5 94.2 26.6 95.1 22.1 95.0 21.6 93.3 18.4 92.5 16.4 91.9 14.4 91.5 12.4 91.4 10.4 91.6 7.9 91.9 5.5 92.8 0.0 M124.1 107.0 124.0 106.8 123.7 106.5 122.7 105.8 119.8 103.0 118.8 102.0 117.9 100.8 116.6 98.8 114.6 94.7 113.6 92.9 112.2 91.1 108.7 87.6 107.0 85.6 106.3 84.7 105.7 83.7 105.3 82.7 104.9 81.7 104.6 79.9 103.8 71.0 103.3 67.0 102.5 63.8 100.8 58.3 100.4 56.1 100.3 54.4 100.5 48.7 100.2 43.4 100.4 41.2 100.2 40.7 99.6 40.0 99.1 39.2 98.1 37.2 97.3 34.8 96.8 32.3 96.7 30.8 96.8 29.0 97.7 22.6 97.7 22.1 97.5 21.6 96.6 20.4 95.8 18.9 95.2 17.4 94.3 14.9 93.8 12.4 93.7 10.4 93.8 7.9 94.1 5.5 94.8 0.0 M127.8 106.6 127.3 106.3 126.3 105.0 124.6 103.1 121.1 99.7 119.7 98.1 118.8 96.6 117.0 92.8 115.9 90.8 114.6 88.9 111.4 84.7 110.3 82.9 109.4 81.2 108.7 78.9 106.8 71.0 105.4 64.1 103.8 58.1 103.4 56.1 103.1 52.9 103.2 48.2 102.9 42.7 103.1 41.0 103.0 40.5 102.8 40.0 101.4 38.2 100.7 37.0 100.0 35.3 99.5 33.3 99.4 31.8 99.5 30.0 100.3 25.3 100.4 24.1 100.6 23.3 100.6 22.8 100.3 22.1 99.0 20.4 97.8 18.1 96.9 15.4 96.5 13.9 96.2 12.4 96.0 10.2 96.0 7.7 96.2 5.2 96.9 0.0 M127.8 101.9 127.6 101.8 127.3 101.4 126.3 99.9 122.8 96.0 121.5 94.3 117.2 87.6 115.1 84.2 113.4 80.9 112.5 78.9 111.8 77.0 109.8 70.0 108.9 66.5 107.8 61.1 106.6 55.6 106.3 53.4 106.0 50.9 105.5 43.7 105.5 41.7 105.8 40.0 105.7 39.5 105.5 39.0 104.7 38.4 104.1 37.7 103.1 36.2 102.4 34.8 102.0 33.0 101.9 31.8 102.1 30.3 103.0 26.1 103.2 24.3 103.6 23.3 103.7 23.1 103.5 22.8 102.5 21.8 101.5 20.6 100.9 19.6 100.4 18.6 99.9 17.4 99.4 15.9 98.7 12.7 98.5 10.2 98.4 7.7 98.6 5.5 99.1 0.0 M127.8 95.9 127.6 95.8 126.8 94.6 126.3 94.0 123.3 91.1 121.6 89.2 120.2 87.4 119.0 85.4 117.2 81.9 115.5 78.0 114.2 74.5 112.7 69.3 111.8 65.3 110.7 58.6 108.8 49.4 108.3 46.2 108.1 43.7 108.1 41.7 108.3 40.2 108.8 38.2 108.7 38.0 107.1 37.0 106.2 36.0 105.7 35.3 105.3 34.3 105.0 33.5 104.8 32.8 104.7 31.5 104.8 30.3 105.7 26.3 105.9 24.8 106.2 23.3 106.0 22.8 104.9 21.8 104.3 21.1 103.5 20.1 103.1 19.4 102.6 18.4 102.2 17.4 101.7 14.9 101.4 12.2 101.4 8.9 101.4 7.0 101.8 2.7 102.0 0.0 M127.8 91.1 127.6 91.0 126.6 89.7 125.3 88.6 123.3 86.5 122.1 84.9 121.1 83.4 119.8 80.9 117.9 76.4 116.9 73.7 116.1 71.0 115.4 68.3 114.8 65.0 113.7 57.1 113.2 54.1 112.7 51.9 111.5 47.4 111.0 44.9 110.8 42.9 110.8 40.7 111.0 39.0 111.5 37.2 111.5 37.0 111.5 36.7 111.2 36.5 109.9 35.8 109.3 35.3 108.9 34.7 108.5 34.0 108.2 33.3 107.8 31.3 107.8 29.5 108.0 27.3 108.2 25.6 108.7 23.8 108.7 23.3 108.4 22.8 106.8 21.4 105.7 19.9 105.0 18.4 104.5 16.6 104.4 14.6 104.6 12.7 105.0 11.2 106.1 7.4 106.2 7.0 106.0 5.2 104.2 0.5 104.1 0.0 M127.8 86.7 127.6 86.6 127.3 86.3 126.6 85.2 125.3 83.9 124.3 82.7 123.4 81.4 122.6 80.1 121.4 77.7 120.2 75.0 119.4 73.0 118.8 70.8 117.9 66.5 117.2 62.8 116.9 60.3 116.3 55.4 116.0 53.4 115.6 51.4 114.4 46.7 113.9 43.7 113.5 40.7 113.4 38.7 113.5 37.2 114.0 35.5 114.0 35.0 113.6 34.8 112.7 34.6 112.2 34.3 111.6 33.8 111.1 32.8 110.8 31.5 110.4 29.8 110.2 27.8 110.3 26.8 110.4 25.8 110.7 25.1 111.2 23.8 111.2 23.3 110.8 22.8 109.4 21.6 108.5 20.4 107.8 19.1 107.5 17.9 107.4 16.6 107.6 15.4 107.9 14.4 108.4 13.5 109.2 12.7 109.3 12.2 109.3 11.4 108.0 5.5 107.3 3.5 106.2 0.5 106.0 0.0 M127.8 82.3 127.6 82.2 127.3 81.9 126.6 80.8 125.2 78.9 124.1 77.1 123.2 75.2 122.5 73.5 122.0 71.7 120.1 64.5 119.7 62.6 119.3 60.6 118.9 55.1 118.6 52.9 117.6 47.4 116.8 41.7 115.8 36.7 115.7 35.3 115.9 34.3 116.0 33.8 115.9 33.5 115.6 33.3 114.4 33.1 114.2 33.0 114.0 32.8 113.5 31.5 112.5 28.1 112.4 27.1 112.5 25.8 112.8 25.1 113.5 23.8 113.6 23.3 113.5 23.1 113.2 22.8 111.7 21.6 111.2 20.9 110.7 19.9 110.5 19.4 110.5 18.6 110.6 17.9 110.9 17.1 111.6 16.4 112.2 16.1 112.4 15.9 112.4 15.6 112.3 14.9 111.8 13.9 111.2 11.9 109.7 5.0 108.0 0.0 M127.8 77.9 127.6 77.7 127.3 77.4 125.6 73.5 124.2 68.5 122.6 64.1 122.2 62.3 121.9 61.1 121.7 59.6 121.6 55.1 121.4 53.1 120.6 47.4 120.0 42.2 119.7 40.2 119.0 37.5 117.8 33.8 117.7 33.0 117.7 32.5 117.9 32.0 117.8 31.8 116.9 29.6 116.1 29.4 115.9 29.1 114.9 27.1 114.7 26.6 114.7 25.6 115.0 24.8 115.5 24.1 116.3 23.3 116.5 23.1 116.2 22.8 114.7 22.1 114.1 21.6 113.6 20.9 113.4 20.1 113.5 19.6 113.7 19.1 114.1 18.7 115.4 18.3 115.5 18.1 115.5 17.9 115.0 17.1 114.4 15.9 113.8 14.4 113.3 12.9 112.7 10.5 111.6 5.2 110.1 0.0 M127.8 70.0 127.6 69.7 126.6 66.3 125.3 63.3 124.7 61.3 124.5 59.3 124.6 55.1 124.4 52.4 123.4 46.4 122.6 41.0 122.2 38.7 121.6 35.7 120.1 30.8 120.1 30.0 120.4 29.0 120.4 28.3 120.1 27.9 119.4 27.8 119.1 25.9 118.9 25.3 118.6 25.2 118.4 25.3 117.6 25.5 117.4 25.3 117.2 24.8 117.3 24.3 117.7 23.8 118.3 23.3 118.5 23.1 118.5 22.8 118.3 22.6 118.0 22.3 117.0 21.8 116.7 21.6 116.5 21.1 116.5 20.9 116.6 20.5 116.9 20.4 118.1 20.3 118.5 20.1 118.6 19.9 118.0 19.1 117.0 17.6 116.4 16.4 115.7 14.6 115.1 12.4 113.7 6.0 112.2 0.0 M119.1 28.8 118.9 28.9 118.7 28.5 118.7 28.3 118.9 28.0 119.1 27.9 119.3 28.1 119.3 28.3 119.1 28.8 M127.8 61.3 127.6 60.7 127.5 59.6 127.6 57.2 127.7 55.9 127.7 54.6 126.8 49.1 125.8 44.4 125.0 38.7 124.4 35.5 123.7 32.5 122.1 27.1 121.8 25.3 121.6 24.6 121.4 24.1 121.1 23.6 120.8 23.4 120.3 23.1 120.3 22.8 120.5 22.3 120.5 21.6 120.0 20.6 120.0 19.9 119.2 18.6 119.0 17.6 118.6 16.6 117.3 10.2 115.9 5.2 114.6 0.0 M127.8 37.4 127.6 36.8 126.7 32.0 125.6 28.1 125.7 26.3 125.8 26.1 126.8 25.7 126.9 25.6 126.9 25.3 126.9 25.1 126.7 24.8 126.1 24.4 125.3 23.6 124.3 23.1 124.3 22.8 124.8 22.6 126.2 22.3 126.6 22.1 126.6 21.8 126.1 21.5 124.1 21.0 123.5 20.6 123.4 20.4 123.3 20.1 123.6 18.9 123.5 18.4 123.3 17.9 122.8 17.6 122.6 17.2 122.4 16.1 122.3 14.6 122.4 13.9 122.8 13.2 122.6 12.2 123.1 11.2 123.1 10.6 122.8 10.1 122.6 10.0 122.3 10.1 122.1 10.7 122.0 11.7 122.0 11.9 121.8 12.1 121.6 12.1 121.3 12.0 121.1 11.7 119.6 7.9 118.8 5.5 118.4 3.3 117.9 0.0 M123.9 17.4 124.1 17.2 124.2 16.9 124.2 16.1 124.1 15.7 123.8 15.5 123.6 15.6 123.4 15.9 123.4 16.4 123.6 17.4 123.8 17.5 123.9 17.4 M127.8 20.9 127.6 20.8 127.3 20.6 126.3 18.9 126.1 17.6 125.7 15.6 125.4 11.2 125.3 10.7 124.9 9.7 124.9 8.7 124.5 5.2 123.3 1.5 122.8 0.5 122.7 0.0 M124.1 10.8 123.8 10.6 123.8 10.2 123.8 9.8 124.1 9.6 124.3 9.7 124.5 9.9 124.3 10.4 124.1 10.8 M127.8 24.3 127.6 24.1 127.5 23.8 127.6 23.7 127.8 23.6 M127.8 12.2 127.6 11.7 127.3 10.4 126.5 5.5 124.8 0.0 M127.8 1.2 127.6 0.9 127.3 0.3 127.3 0.0" fill="none" stroke="#ee9a62" stroke-width="1.1" stroke-opacity="1"/></g>
<path d="M15 50 L40 56 L62 70 L75 88 L85 112 L15 112 Z" fill="#6a1404" opacity="0.32" filter="url(#bl4)"/>
<ellipse cx="32" cy="72" rx="12" ry="16" fill="#5a1004" opacity="0.3" filter="url(#bl4)" transform="rotate(0 32 72)"/>
<path d="M90 -2 L119 -2 L111 15 L106 12 L100 14 Z" fill="#3a0c02" opacity="0.8" filter="url(#bl15)"/>
<ellipse cx="122" cy="1" rx="7" ry="3" fill="#4a1004" opacity="0.5" filter="url(#bl2)" transform="rotate(0 122 1)"/>
<ellipse cx="118" cy="32" rx="8" ry="14" fill="#f4b078" opacity="0.3" filter="url(#bl4)" transform="rotate(0 118 32)"/>
<path d="M50 64 C51.5 65.4 55.37 69.2 59 72.4 C62.63 75.6 67.87 79.23 71.8 83.2 C75.73 87.17 79.73 92.6 82.6 96.2 C85.47 99.8 87.43 102.17 89 104.8 C90.57 107.43 91.5 110.8 92 112" fill="none" stroke="#4a1004" stroke-width="6" stroke-opacity="0.6" stroke-linecap="round" filter="url(#bl2)"/>
<path d="M101 38.4 C101.77 37.68 104.17 36.17 105.6 34.1 C107.03 32.03 108.75 29.52 109.6 26 C110.45 22.48 111.3 17.33 110.7 13 C110.1 8.67 106.78 2.17 106 0" fill="none" stroke="#f8d08a" stroke-width="7.8" stroke-opacity="0.35" stroke-linecap="round" filter="url(#bl2)"/>
<path d="M101 38.4 C101.77 37.68 104.17 36.17 105.6 34.1 C107.03 32.03 108.75 29.52 109.6 26 C110.45 22.48 111.3 17.33 110.7 13 C110.1 8.67 106.78 2.17 106 0" fill="none" stroke="#fbe2a4" stroke-width="3" stroke-opacity="0.6" stroke-linecap="round" filter="url(#bl05)"/>
<path d="M116.3 9.6 C117.08 8.83 119.38 6.6 121 5 C122.62 3.4 125.17 0.83 126 0" fill="none" stroke="#f8d08a" stroke-width="4.68" stroke-opacity="0.25" stroke-linecap="round" filter="url(#bl2)"/>
<path d="M116.3 9.6 C117.08 8.83 119.38 6.6 121 5 C122.62 3.4 125.17 0.83 126 0" fill="none" stroke="#fbe2a4" stroke-width="1.8" stroke-opacity="0.5" stroke-linecap="round" filter="url(#bl05)"/>
<path d="M21 5 C21.17 5.6 21.5 7.27 22 8.6 C22.5 9.93 23 11.6 24 13 C25 14.4 27.33 16.33 28 17" fill="none" stroke="#f8d08a" stroke-width="6.5" stroke-opacity="0.3" stroke-linecap="round" filter="url(#bl2)"/>
<path d="M21 5 C21.17 5.6 21.5 7.27 22 8.6 C22.5 9.93 23 11.6 24 13 C25 14.4 27.33 16.33 28 17" fill="none" stroke="#fbe2a4" stroke-width="2.5" stroke-opacity="0.4" stroke-linecap="round" filter="url(#bl05)"/>
<path d="M15 45 C16.17 45.25 17.57 45.35 22 46.5 C26.43 47.65 34.73 49.38 41.6 51.9 C48.47 54.42 56.72 58.72 63.2 61.6 C69.68 64.48 75.1 66.32 80.5 69.2 C85.9 72.08 90.57 75.13 95.6 78.9 C100.63 82.67 106.38 87.48 110.7 91.8 C115.02 96.12 119.28 101.77 121.5 104.8 C123.72 107.83 123.58 109.13 124 110" fill="none" stroke="#f8d08a" stroke-width="6.24" stroke-opacity="0.45" stroke-linecap="round" filter="url(#bl2)"/>
<path d="M15 45 C16.17 45.25 17.57 45.35 22 46.5 C26.43 47.65 34.73 49.38 41.6 51.9 C48.47 54.42 56.72 58.72 63.2 61.6 C69.68 64.48 75.1 66.32 80.5 69.2 C85.9 72.08 90.57 75.13 95.6 78.9 C100.63 82.67 106.38 87.48 110.7 91.8 C115.02 96.12 119.28 101.77 121.5 104.8 C123.72 107.83 123.58 109.13 124 110" fill="none" stroke="#fbe2a4" stroke-width="2.4" stroke-opacity="0.8" stroke-linecap="round" filter="url(#bl05)"/>
<path d="M45 80 C46.23 80.9 48.65 82.9 52.4 85.4 C56.15 87.9 63.53 91.77 67.5 95 C71.47 98.23 74.45 102.3 76.2 104.8 C77.95 107.3 77.7 109.13 78 110" fill="none" stroke="#f8d08a" stroke-width="4.68" stroke-opacity="0.25" stroke-linecap="round" filter="url(#bl2)"/>
<path d="M45 80 C46.23 80.9 48.65 82.9 52.4 85.4 C56.15 87.9 63.53 91.77 67.5 95 C71.47 98.23 74.45 102.3 76.2 104.8 C77.95 107.3 77.7 109.13 78 110" fill="none" stroke="#fbe2a4" stroke-width="1.8" stroke-opacity="0.55" stroke-linecap="round" filter="url(#bl05)"/>
</g>
<path d="M25.4 28 C28 20.5 40 19.2 50 19.5 C65 20 85 24 97.5 32.5 C102 36 101.5 40 97 41.5 C85 44.5 65 43 47 39.7 C35 37.2 26 33 25.4 28 Z" fill="none" stroke="#fff" stroke-width="2.4" stroke-dasharray="0.01 3.85" stroke-linecap="round"/>
<circle cx="107.1" cy="60.9" r="19" fill="none" stroke="#fff" stroke-width="2" stroke-dasharray="5 5.6 21.2 6.6 15.6 5.6 22.2 9.6 14.6 5.6 7.6 0"/>
<rect x="34" y="90" width="25" height="4" fill="#fff"/>
<text x="33.3" y="83" font-family="'DejaVu Sans', 'Liberation Sans', sans-serif" font-size="10.4" fill="#fff" stroke="#fff" stroke-width="0.35">1 µm</text>
<g clip-path="url(#cpb)">
<rect x="193" y="2" width="106.5" height="106.4" fill="#c86632"/>
<path d="M296.9 2.0 297.0 2.2 297.5 3.2 298.5 5.7 299.5 8.8 299.8 9.4 300.0 9.6 M293.5 2.0 293.7 2.5 294.4 3.5 295.2 5.2 297.3 10.4 298.8 13.6 299.8 16.4 300.0 16.7 M289.0 2.0 289.1 2.2 290.1 3.0 290.8 3.7 291.8 5.2 292.8 7.0 296.1 14.4 297.9 19.1 299.5 23.2 299.8 23.7 300.0 23.8 M275.9 2.0 276.4 2.2 282.2 3.5 284.9 4.3 286.1 4.9 287.1 5.5 288.1 6.2 288.8 7.0 289.6 7.9 290.4 9.2 292.6 13.3 293.8 16.1 295.8 21.4 296.9 23.8 297.8 25.3 298.8 26.7 299.5 27.9 299.8 28.2 300.0 28.3 M250.5 2.0 250.9 2.2 252.2 2.5 256.1 2.9 257.8 3.2 261.5 4.2 263.5 4.5 266.0 4.7 271.2 4.8 273.9 5.2 276.2 5.8 282.4 7.8 283.9 8.3 284.9 8.9 285.8 9.5 286.8 10.4 287.7 11.4 288.6 12.7 289.6 14.4 290.5 16.2 293.3 22.6 295.0 25.8 296.0 27.4 297.3 29.1 298.8 30.7 299.5 31.6 299.8 31.8 300.0 31.9 M240.6 2.0 240.9 2.2 241.5 2.5 244.0 3.2 246.9 4.3 251.1 5.5 256.6 6.5 261.3 7.5 263.8 7.9 266.5 8.2 271.2 8.5 273.2 8.8 275.2 9.2 279.9 10.7 281.4 11.2 282.6 11.8 283.6 12.5 284.7 13.4 285.6 14.4 286.6 15.8 288.0 18.1 290.0 22.4 291.4 24.8 293.0 27.6 294.3 29.6 295.6 31.0 297.0 32.5 298.8 34.0 299.5 34.7 300.0 35.0 M231.0 2.0 231.2 2.2 231.9 2.5 235.3 3.5 245.4 7.1 248.4 8.1 250.8 8.8 256.8 10.1 265.2 11.7 267.7 12.0 272.4 12.5 275.2 13.0 278.4 13.7 279.4 14.1 280.4 14.5 281.4 15.1 282.1 15.8 283.0 16.6 283.8 17.6 284.9 19.3 286.9 22.9 288.3 25.1 291.5 30.1 293.2 32.3 294.4 33.5 295.8 34.8 299.5 37.5 300.0 37.7 M223.0 2.0 223.2 2.2 223.8 2.5 226.0 3.2 229.5 4.8 234.0 6.6 240.4 8.6 246.4 10.6 255.1 13.2 257.5 13.9 262.0 14.7 267.2 15.8 275.9 16.9 277.4 17.2 278.6 17.8 280.0 18.6 281.1 19.9 282.0 21.1 283.9 24.1 284.9 25.6 290.4 32.8 292.1 34.7 293.5 36.1 295.3 37.4 297.5 38.9 298.8 39.6 299.5 40.1 300.0 40.3 M211.2 2.0 211.5 2.2 212.2 2.5 217.4 3.5 220.1 4.3 222.3 5.2 227.3 7.5 230.5 8.8 233.5 9.8 238.9 11.4 241.7 12.3 249.1 14.9 253.8 16.9 255.6 17.6 257.5 18.0 261.5 18.5 267.2 19.5 273.4 20.4 275.2 20.8 276.4 21.3 277.7 22.0 278.6 22.9 282.3 27.6 286.1 31.6 289.7 35.8 291.6 37.6 293.0 38.9 294.8 40.1 297.3 41.5 298.8 42.3 299.5 42.8 300.0 42.9 M205.1 2.0 205.3 2.2 205.7 2.5 208.9 4.1 210.1 4.6 212.6 5.5 217.3 6.7 219.3 7.3 221.3 8.2 225.5 10.2 227.8 11.1 233.0 13.0 240.9 15.5 245.1 17.0 247.9 18.1 252.1 20.2 254.1 21.0 255.6 21.4 257.1 21.7 269.5 23.8 271.4 24.3 272.9 24.9 274.7 25.9 276.4 27.1 279.1 29.2 282.4 31.9 285.4 34.6 290.1 39.5 292.1 41.3 293.3 42.1 294.8 43.0 298.8 45.0 299.5 45.5 300.0 45.7 M199.0 2.0 199.3 2.2 201.9 3.2 206.4 5.7 209.1 7.0 211.9 8.1 216.6 9.5 218.8 10.3 225.5 13.4 234.2 17.0 236.4 17.7 241.4 19.1 244.1 20.1 246.9 21.1 251.8 23.3 253.8 24.1 255.8 24.7 261.0 26.0 268.0 27.8 270.2 28.6 275.7 30.9 277.2 31.6 278.4 32.4 279.9 33.4 281.6 34.8 284.6 37.5 289.1 42.0 291.3 43.9 293.8 45.5 298.5 48.0 299.8 48.8 300.0 48.9 M193.0 3.1 193.5 3.2 199.1 5.2 201.4 6.3 206.2 8.5 208.9 9.8 218.6 13.4 227.3 17.3 231.5 19.4 233.2 20.2 235.0 20.7 239.2 21.8 241.7 22.6 246.9 24.5 253.3 27.1 257.3 28.5 264.7 30.8 269.5 32.4 274.2 33.6 276.2 34.3 278.2 35.5 280.1 37.0 282.4 39.0 287.3 43.9 289.8 46.0 292.3 47.7 298.5 51.4 299.8 52.3 300.0 52.4 M193.0 6.0 193.5 6.1 196.8 7.5 202.2 9.9 209.3 12.9 218.6 17.1 224.8 19.7 226.8 20.6 230.0 22.4 231.7 23.1 233.5 23.7 238.4 25.0 246.9 27.7 249.6 28.8 255.6 31.6 258.3 32.6 263.5 34.1 268.7 36.0 270.2 36.4 273.7 36.9 274.7 37.2 275.7 37.6 277.2 38.4 278.6 39.5 285.9 46.2 288.8 48.6 291.6 50.5 298.8 55.1 299.5 55.7 300.0 55.9 M193.0 9.1 193.5 9.2 195.2 10.1 198.7 11.9 200.2 12.6 201.7 13.2 205.2 14.4 207.2 15.2 209.0 16.2 213.4 18.5 215.5 19.6 218.3 20.9 223.8 23.0 228.3 25.2 230.2 26.1 232.7 26.9 237.7 28.2 243.9 30.0 245.6 30.6 248.1 31.6 254.1 34.7 257.3 36.0 262.8 37.6 267.7 39.3 272.8 40.5 273.9 40.8 274.8 41.2 276.4 42.1 278.2 43.4 281.9 46.5 286.1 50.3 288.1 51.8 290.4 53.4 298.8 58.4 299.5 59.0 300.0 59.2 M193.0 12.4 193.5 12.5 197.5 14.9 199.0 15.6 200.2 16.1 203.4 17.1 204.9 17.7 206.4 18.4 209.9 20.4 212.1 21.6 230.0 29.2 232.0 30.0 234.0 30.6 240.9 32.4 243.6 33.3 245.9 34.2 251.8 37.2 255.4 38.7 258.0 39.6 268.7 42.8 270.5 43.5 272.2 44.2 274.9 45.7 278.4 48.0 280.9 50.0 284.9 53.5 287.1 55.1 289.2 56.4 295.5 59.7 298.5 61.5 299.5 62.3 300.0 62.5 M193.0 15.8 193.5 16.0 196.2 17.6 197.7 18.3 203.1 20.4 208.9 23.4 214.4 25.5 222.8 29.1 231.5 33.2 234.2 34.1 239.7 35.4 242.4 36.2 245.1 37.3 252.3 40.7 254.8 41.8 257.5 42.7 266.0 45.4 268.7 46.5 274.9 50.0 277.4 51.5 279.4 53.0 283.9 56.7 286.6 58.6 288.8 59.8 293.3 62.0 295.3 63.1 296.8 64.2 298.3 65.6 298.8 66.1 299.5 67.0 299.8 67.3 300.0 67.4 M193.0 19.4 193.2 19.5 194.2 20.0 196.2 20.9 200.9 22.8 206.4 25.3 212.9 27.8 221.0 31.3 223.8 32.6 228.7 35.3 231.0 36.3 234.0 37.3 240.4 39.0 243.9 40.2 248.1 41.9 254.6 45.0 264.5 48.7 268.0 50.2 273.9 53.2 276.7 54.8 278.4 56.1 282.4 59.3 284.9 61.2 287.3 62.8 291.7 65.3 293.5 66.5 295.5 68.2 298.8 71.2 299.5 72.0 299.8 72.2 300.0 72.3 M193.0 22.8 193.5 23.0 194.2 23.3 198.0 24.7 203.9 27.4 210.1 29.6 213.7 31.0 219.8 33.8 227.0 37.6 230.7 39.3 234.5 40.6 243.6 43.3 246.9 44.5 248.9 45.4 252.6 47.4 254.6 48.4 265.0 52.7 272.2 55.9 273.9 56.9 275.4 57.9 281.4 62.6 286.8 66.5 292.3 70.3 298.5 75.3 299.8 76.5 300.0 76.6 M193.0 25.8 193.5 25.9 196.7 27.1 202.6 29.8 208.6 31.9 211.9 33.2 216.6 35.4 225.3 39.9 228.3 41.2 232.0 42.8 236.4 44.5 243.4 46.6 246.4 47.7 248.1 48.5 253.3 51.3 260.3 54.3 270.4 59.1 272.9 60.6 277.2 63.8 281.6 66.9 287.1 71.1 292.8 75.2 296.8 78.4 298.8 80.2 299.8 81.5 300.0 81.6 M193.0 28.4 193.5 28.5 195.7 29.4 201.4 32.1 207.2 34.2 210.1 35.4 213.1 36.9 218.6 39.9 221.5 41.4 224.4 42.7 229.5 45.0 234.2 47.2 236.4 48.1 241.9 49.6 244.9 50.7 246.9 51.5 251.6 53.8 256.6 55.9 258.7 56.9 260.3 57.9 264.0 60.2 268.9 63.1 273.4 66.1 278.2 68.9 280.1 70.3 281.6 71.4 285.8 74.9 294.8 81.6 296.8 83.4 298.8 85.4 299.5 86.3 299.8 86.6 300.0 86.6 M193.0 31.0 193.5 31.2 200.2 34.2 205.2 36.1 207.2 37.0 209.6 38.2 215.1 41.5 218.6 43.3 222.0 45.0 227.8 47.4 233.5 50.4 235.7 51.2 241.2 52.8 244.4 53.9 254.1 58.0 256.1 59.0 257.8 60.1 261.7 63.1 265.3 65.6 269.5 68.5 271.3 69.5 275.7 71.7 278.2 73.3 279.6 74.4 283.4 77.5 287.8 81.0 294.0 85.5 296.0 87.2 298.8 89.9 299.5 90.7 299.8 90.9 300.0 91.0 M193.0 33.8 193.5 33.9 199.0 36.3 203.7 38.2 205.4 39.0 207.6 40.3 213.4 44.1 215.6 45.3 218.3 46.6 220.6 47.6 226.3 49.9 231.0 52.4 232.7 53.2 234.7 54.0 240.7 55.9 243.4 56.9 251.5 60.6 253.3 61.5 254.9 62.6 258.5 65.3 262.6 68.0 266.0 70.6 267.3 71.5 269.5 72.7 274.4 74.9 275.7 75.6 277.2 76.6 279.9 78.7 287.3 85.0 288.8 86.1 292.1 88.3 293.5 89.4 298.8 94.1 299.5 94.9 299.8 95.1 300.0 95.2 M193.0 36.7 193.5 36.8 194.5 37.3 201.7 40.2 203.9 41.2 206.4 42.7 211.7 46.4 213.6 47.6 215.8 48.7 218.6 49.9 224.8 52.4 229.7 54.9 231.5 55.7 237.7 58.1 241.9 59.9 245.1 61.4 250.1 64.0 251.7 65.1 255.4 67.5 260.0 70.4 264.0 73.3 265.5 74.2 267.7 75.4 273.4 78.0 274.9 78.8 276.4 79.7 278.2 81.0 279.9 82.5 284.9 87.4 286.8 89.1 288.6 90.4 293.3 93.4 294.8 94.6 299.5 98.5 300.0 98.7 M193.0 39.9 193.5 40.1 194.5 40.6 200.4 42.7 202.4 43.6 204.9 45.0 210.6 48.9 214.4 51.0 227.0 56.9 234.5 60.1 239.2 62.4 244.6 64.9 247.4 66.4 252.8 69.8 257.5 72.7 261.7 75.5 263.3 76.5 273.4 81.6 275.8 82.9 277.2 84.0 278.6 85.3 284.1 91.1 286.1 92.9 287.8 94.0 291.3 95.8 293.0 96.8 294.5 97.9 299.5 101.7 300.0 101.9 M193.0 43.3 193.5 43.4 194.5 43.9 199.5 45.4 201.7 46.3 203.9 47.6 207.8 50.2 209.9 51.4 217.3 55.4 223.0 58.5 225.8 59.8 231.7 62.2 236.7 64.6 242.2 67.0 244.7 68.3 253.1 73.5 258.3 77.1 260.0 78.2 261.8 79.2 266.0 81.3 270.0 83.7 273.4 85.6 274.7 86.3 275.9 87.2 277.4 88.5 279.4 90.5 282.9 94.2 284.6 95.7 286.5 96.8 290.4 98.6 292.3 99.6 293.8 100.7 299.5 105.1 300.0 105.3 M193.0 46.6 193.2 46.6 194.5 47.2 199.0 48.4 200.9 49.3 202.7 50.2 206.4 52.6 208.1 53.6 214.6 57.0 220.8 60.5 223.3 61.8 225.5 62.8 230.0 64.8 234.0 66.6 240.2 69.0 242.7 70.3 244.4 71.3 250.1 75.2 256.1 79.4 258.2 80.7 262.7 83.2 264.7 84.4 269.5 88.0 274.7 91.4 276.9 93.0 278.6 94.5 281.8 97.3 283.4 98.6 285.1 99.5 289.1 101.2 290.8 102.2 292.6 103.3 298.0 107.5 299.8 108.6 300.0 108.7 M193.0 49.7 193.2 49.8 194.5 50.3 198.2 51.5 200.2 52.3 201.7 53.2 205.2 55.5 206.9 56.6 213.6 59.7 224.3 65.5 228.0 67.4 230.5 68.5 232.4 69.3 238.7 71.4 240.2 72.0 241.4 72.7 243.4 73.9 246.3 76.0 253.1 81.0 254.6 81.9 258.1 83.9 260.0 85.2 262.3 86.9 271.0 93.7 272.7 94.9 276.7 97.4 281.1 100.7 283.4 102.0 287.4 103.8 289.3 104.8 291.6 106.3 293.5 107.8 294.7 108.5 295.0 108.8 295.1 109.0 M193.0 52.7 193.2 52.8 194.2 53.3 197.0 54.3 198.5 55.0 200.0 55.8 202.9 57.9 204.5 58.9 206.0 59.6 210.1 61.4 212.4 62.4 218.6 65.8 223.5 68.7 225.7 69.8 229.0 71.2 236.7 73.9 238.7 74.8 241.2 76.1 243.4 77.5 245.4 78.8 251.8 83.5 255.8 86.0 257.3 87.0 261.3 90.1 265.2 93.1 269.7 96.8 271.7 98.3 275.9 100.8 280.6 103.9 282.6 105.0 286.8 106.8 289.9 108.5 290.2 108.8 290.4 109.0 M193.0 55.7 193.5 55.9 194.2 56.3 196.7 57.6 200.6 60.1 202.2 61.0 204.1 61.8 208.1 63.5 210.4 64.6 219.6 70.0 222.3 71.5 225.3 72.9 230.5 74.6 232.6 75.5 234.5 76.5 238.2 78.7 242.2 80.6 243.9 81.5 246.4 83.1 251.1 86.6 255.3 89.5 263.0 95.0 265.2 96.8 269.2 100.3 270.7 101.4 272.2 102.4 276.2 104.6 280.8 107.5 281.8 108.0 283.7 108.8 283.9 109.0 M193.0 59.0 193.5 59.2 194.2 59.7 197.3 61.6 199.7 62.9 201.7 63.8 206.2 65.5 208.6 66.7 210.5 67.8 216.1 71.5 220.0 73.7 223.0 75.1 228.0 76.7 230.0 77.5 231.7 78.5 235.0 80.9 236.4 81.8 238.2 82.7 242.4 84.5 244.6 85.7 246.1 86.7 247.6 87.7 253.3 92.3 258.8 95.9 261.8 98.1 264.3 100.1 268.0 103.7 269.5 104.9 271.2 105.9 276.9 108.5 277.2 108.8 277.4 109.0 M193.0 62.4 193.5 62.6 194.2 63.2 196.2 64.3 198.2 65.4 200.0 66.1 204.3 67.8 206.7 68.9 208.9 70.3 215.0 74.2 218.8 76.4 221.5 77.7 226.5 79.5 228.3 80.3 229.7 81.1 232.9 83.4 235.0 84.7 238.2 86.4 243.1 88.8 244.9 89.7 247.1 91.3 250.6 94.4 252.1 95.6 257.8 99.2 261.3 101.8 263.6 103.8 267.0 107.5 267.6 108.0 268.9 108.8 269.1 109.0 M193.0 65.8 193.2 65.8 194.5 66.7 197.5 68.2 202.9 70.6 205.7 72.0 208.9 73.8 214.0 77.0 216.6 78.4 226.0 82.9 231.4 86.2 237.9 90.0 243.4 93.0 245.4 94.4 248.5 97.1 250.1 98.3 251.7 99.3 256.6 102.1 259.5 104.1 260.8 105.1 262.0 106.2 263.4 107.8 264.2 108.5 264.4 108.8 264.5 109.0 M193.0 69.0 193.2 69.0 194.5 69.8 202.2 73.8 213.1 79.9 221.7 84.2 227.5 87.6 232.7 90.5 241.7 96.3 246.1 99.6 247.5 100.6 249.6 101.7 254.6 104.2 257.1 105.7 258.5 106.7 260.7 108.5 261.0 108.8 261.0 109.0 M193.0 72.1 193.5 72.2 194.2 72.8 198.5 75.1 205.4 79.3 218.8 86.4 225.5 90.6 230.2 92.8 232.0 93.8 236.9 97.0 243.1 101.4 244.9 102.6 247.4 103.9 253.3 106.7 256.5 108.5 256.8 108.8 256.9 109.0 M193.0 75.1 193.5 75.3 194.2 75.8 195.5 76.5 202.9 81.3 208.9 84.5 211.4 85.9 223.5 93.6 225.5 94.6 230.2 96.7 233.2 98.3 236.4 100.3 241.9 104.2 244.1 105.6 247.9 107.5 250.5 108.5 251.0 108.8 251.2 109.0 M193.0 78.3 193.5 78.5 194.2 79.1 200.4 83.4 202.3 84.4 206.4 86.4 208.4 87.5 210.1 88.6 214.7 91.9 220.4 95.3 223.5 97.1 231.2 101.0 234.5 102.8 236.9 104.4 241.2 107.5 243.5 108.8 243.7 109.0 M193.0 81.9 193.5 82.1 194.2 82.8 197.0 84.8 199.2 86.3 200.9 87.3 204.9 89.1 206.8 90.1 208.4 91.1 212.1 93.8 214.1 95.1 221.5 99.2 228.3 103.3 233.7 106.2 236.0 107.8 237.4 108.5 237.8 108.8 237.9 109.0 M193.0 85.8 193.2 85.9 194.5 86.9 198.1 89.1 204.3 92.4 206.4 93.5 212.9 97.7 219.8 101.4 222.0 102.8 226.5 106.0 229.0 107.5 231.5 108.6 231.8 108.8 231.9 109.0 M193.0 89.4 193.5 89.6 194.2 90.1 200.5 93.6 210.6 99.7 215.8 102.4 217.6 103.4 220.0 105.0 223.4 107.8 225.0 108.8 225.2 109.0 M193.0 92.5 193.5 92.6 197.8 95.1 199.6 96.3 203.2 99.1 205.4 100.6 207.9 101.9 213.1 104.3 215.1 105.4 216.8 106.6 218.4 107.8 219.6 108.5 220.0 108.8 220.1 109.0 M193.0 95.4 193.5 95.6 196.0 97.3 197.1 98.3 200.2 101.3 202.2 102.8 203.4 103.4 204.9 104.2 211.1 106.7 214.5 108.5 214.9 108.8 215.0 109.0 M193.0 99.4 193.2 99.5 193.5 99.7 194.5 101.0 196.4 103.0 197.6 104.0 198.7 104.8 200.0 105.5 201.4 106.2 205.4 107.8 207.9 108.5 208.5 108.8 208.7 109.0 M193.0 105.0 193.2 105.1 194.2 105.9 196.7 107.5 197.7 108.0 199.5 108.8 199.7 109.0 M193.0 108.8 193.3 109.0" fill="none" stroke="#963812" stroke-width="1.1" stroke-opacity="1" stroke-dasharray="2.2 1.3"/>
<path d="M298.6 2.0 298.6 2.2 299.1 3.2 299.8 5.3 300.0 5.5 M295.3 2.0 295.5 2.5 296.0 3.5 296.7 5.0 297.8 7.9 298.8 10.2 299.5 12.3 299.8 12.8 300.0 13.0 M291.6 2.0 291.6 2.2 292.6 3.5 294.1 6.2 298.5 16.7 299.5 19.9 299.8 20.4 300.0 20.7 M284.5 2.0 284.8 2.2 286.9 3.0 287.8 3.5 289.6 5.1 290.3 6.0 291.0 7.0 292.3 9.4 294.4 13.9 295.3 16.2 297.0 20.6 297.7 22.4 299.5 25.8 299.8 26.1 300.0 26.2 M259.7 2.0 260.0 2.2 260.9 2.5 263.8 2.9 266.0 3.1 271.5 3.1 273.3 3.2 274.7 3.5 276.9 4.1 283.6 6.1 285.1 6.7 286.3 7.4 287.3 8.2 288.1 9.0 288.8 10.0 289.8 11.5 290.9 13.4 291.9 15.4 294.5 21.9 295.8 24.6 297.5 27.3 298.8 28.8 299.5 29.8 299.8 30.1 300.0 30.2 M245.0 2.0 245.3 2.2 246.0 2.5 251.3 3.9 257.1 4.8 262.5 6.0 265.7 6.4 271.5 6.6 273.7 7.0 275.7 7.5 281.4 9.4 282.6 9.9 283.8 10.4 284.9 11.2 286.0 12.2 287.0 13.4 288.0 14.9 289.4 17.4 291.4 21.9 292.5 24.1 293.8 26.3 295.0 28.3 296.2 29.8 297.5 31.3 298.8 32.4 299.5 33.2 299.8 33.4 300.0 33.5 M235.8 2.0 236.1 2.2 239.6 3.2 242.7 4.5 246.4 5.8 248.9 6.6 251.1 7.2 260.8 9.1 264.3 9.7 267.0 10.1 271.5 10.4 273.4 10.7 278.6 12.0 280.1 12.5 281.4 13.1 282.4 13.7 283.4 14.5 284.2 15.4 285.1 16.6 286.3 18.6 288.6 22.9 290.1 25.3 292.3 28.8 293.8 31.0 295.0 32.3 296.3 33.6 299.5 36.1 300.0 36.4 M226.9 2.0 227.1 2.2 227.7 2.5 229.9 3.2 232.3 4.2 234.7 5.1 245.9 8.9 250.8 10.3 256.8 11.8 266.2 13.7 268.7 14.1 273.7 14.6 276.2 15.0 277.9 15.4 279.4 16.0 280.1 16.5 281.0 17.1 282.4 18.6 283.4 20.0 285.3 23.4 286.5 25.1 291.0 31.5 292.6 33.4 293.9 34.8 295.5 36.1 297.5 37.5 298.8 38.2 299.5 38.8 300.0 39.0 M217.9 2.0 218.3 2.2 221.1 2.9 222.0 3.3 229.0 6.4 232.7 7.9 240.7 10.3 250.1 13.5 255.6 15.4 257.5 15.9 262.0 16.6 267.5 17.7 274.9 18.6 276.4 19.0 277.7 19.5 278.9 20.3 279.9 21.3 280.6 22.2 282.5 25.1 283.6 26.6 287.1 30.6 290.0 34.3 291.6 36.0 293.0 37.3 294.8 38.6 297.3 40.1 298.8 40.9 299.5 41.4 300.0 41.6 M207.8 2.0 208.0 2.2 208.4 2.5 212.5 4.0 217.8 5.2 219.8 5.9 221.8 6.7 226.8 9.0 230.2 10.4 233.5 11.5 239.9 13.4 246.1 15.6 248.8 16.6 252.9 18.6 254.8 19.4 257.3 20.0 262.0 20.6 271.2 22.1 273.2 22.5 274.8 23.1 276.2 23.9 277.4 24.9 280.9 28.6 285.6 33.0 289.8 37.6 291.8 39.4 293.3 40.6 294.8 41.5 298.8 43.6 299.5 44.1 300.0 44.3 M202.5 2.0 202.6 2.2 203.1 2.5 204.7 3.2 206.8 4.5 209.9 5.9 212.4 6.8 216.8 8.1 218.8 8.7 220.8 9.6 225.2 11.7 227.3 12.6 235.2 15.5 241.7 17.5 244.9 18.6 247.1 19.5 251.5 21.6 253.3 22.4 256.3 23.2 268.2 25.7 270.2 26.3 271.9 27.1 274.7 28.4 276.9 29.7 278.6 30.8 280.4 32.1 284.1 35.2 285.8 36.9 289.6 40.8 290.8 41.9 292.1 42.8 294.3 44.2 298.8 46.5 299.8 47.2 300.0 47.2 M194.4 2.0 194.7 2.2 198.2 3.2 199.4 3.7 202.2 5.0 206.9 7.4 209.6 8.6 212.1 9.6 216.8 11.1 218.9 11.9 224.5 14.5 233.8 18.6 235.7 19.3 240.4 20.5 243.1 21.4 246.4 22.6 251.6 24.8 254.3 25.8 266.2 29.3 270.7 30.9 274.4 32.0 276.2 32.7 277.2 33.3 278.4 34.0 281.0 36.0 283.6 38.4 288.2 43.0 290.6 44.9 293.0 46.6 298.5 49.6 299.8 50.5 300.0 50.6 M193.0 4.6 193.5 4.7 195.5 5.4 198.2 6.5 207.4 10.6 217.8 14.9 226.0 18.4 230.7 20.9 232.5 21.6 234.2 22.2 238.9 23.4 246.6 26.0 249.1 26.9 255.6 29.7 258.5 30.8 264.0 32.4 269.0 34.2 270.5 34.5 273.9 35.2 274.9 35.5 275.9 35.9 277.4 36.7 279.1 38.0 286.6 44.9 289.3 47.2 291.8 49.0 298.5 53.2 299.5 53.9 300.0 54.2 M193.0 7.5 193.5 7.6 195.5 8.5 201.0 11.2 205.9 13.0 208.0 13.9 216.6 18.2 218.8 19.2 224.4 21.4 229.2 23.8 231.0 24.6 233.0 25.3 237.9 26.6 246.4 29.2 249.1 30.3 254.8 33.2 257.8 34.4 263.3 35.9 268.2 37.7 270.0 38.1 273.4 38.7 274.4 39.0 275.4 39.4 276.7 40.1 278.2 41.2 286.1 48.2 288.6 50.2 291.3 52.1 298.8 56.8 299.5 57.4 300.0 57.6 M193.0 10.7 193.5 10.9 199.2 14.0 200.7 14.6 204.2 15.7 205.9 16.4 207.5 17.1 211.4 19.4 213.8 20.6 217.1 22.1 223.3 24.6 229.5 27.4 233.2 28.7 241.9 31.1 244.4 31.9 246.9 32.9 252.6 35.8 256.1 37.3 258.1 38.0 262.8 39.3 267.0 40.7 271.5 42.0 273.9 42.9 275.9 44.0 278.6 46.0 281.4 48.2 285.6 52.0 287.6 53.5 289.8 54.9 295.5 58.1 298.8 60.0 299.8 60.7 300.0 60.8 M193.0 14.1 193.5 14.2 196.7 16.2 198.2 16.9 199.5 17.4 202.7 18.5 204.2 19.1 205.7 19.9 208.8 21.6 210.4 22.4 223.0 27.8 231.2 31.4 234.2 32.4 240.2 33.9 242.9 34.7 245.1 35.6 251.6 38.7 255.1 40.2 258.0 41.3 267.0 44.0 268.7 44.6 270.1 45.2 271.7 46.0 273.9 47.3 277.9 49.8 280.1 51.5 284.4 55.1 286.5 56.6 288.6 57.9 293.3 60.2 295.5 61.4 298.5 63.4 299.8 64.6 300.0 64.7 M193.0 17.6 193.5 17.8 194.5 18.4 197.0 19.6 202.4 21.8 207.6 24.3 213.9 26.8 222.5 30.5 225.0 31.7 229.5 34.0 231.2 34.8 233.7 35.6 239.4 37.0 242.4 37.9 247.1 39.9 254.8 43.4 265.0 46.9 267.7 48.1 274.4 51.6 276.2 52.6 278.4 54.2 282.9 57.8 285.6 59.8 287.8 61.1 292.1 63.3 294.2 64.6 295.3 65.4 296.3 66.3 298.8 68.7 299.5 69.7 299.8 69.9 300.0 70.0 M193.0 21.2 193.2 21.2 194.5 21.8 199.2 23.7 204.9 26.3 211.9 28.8 219.4 32.0 222.5 33.5 228.0 36.5 230.5 37.7 233.7 38.8 241.4 41.0 246.4 42.7 248.9 43.8 254.3 46.6 265.2 50.9 272.7 54.4 274.4 55.3 275.9 56.2 277.4 57.3 281.4 60.5 283.9 62.4 286.3 64.1 292.3 68.0 294.0 69.4 298.8 73.3 299.5 74.1 299.8 74.3 300.0 74.4 M193.0 24.3 193.5 24.5 197.2 25.9 203.2 28.6 209.4 30.7 212.6 32.0 218.6 34.8 226.8 39.0 230.7 40.8 235.7 42.6 243.6 45.0 246.6 46.1 248.5 46.9 252.3 49.1 254.3 50.0 262.5 53.5 271.5 57.5 272.9 58.3 274.4 59.3 278.4 62.4 283.1 65.8 287.1 68.9 293.0 73.1 298.5 77.5 299.5 78.6 299.8 78.8 300.0 78.9 M193.0 27.1 193.5 27.2 196.2 28.3 202.2 31.0 207.9 33.0 211.1 34.4 214.6 36.0 220.3 39.1 223.3 40.6 234.2 45.4 237.2 46.5 243.4 48.4 246.4 49.5 252.3 52.5 259.3 55.5 264.7 58.5 268.9 60.6 271.2 62.0 275.2 64.8 279.9 67.9 281.9 69.3 286.3 72.9 291.3 76.5 295.0 79.4 297.0 81.2 298.8 82.9 299.5 83.9 299.8 84.1 300.0 84.2 M193.0 29.7 193.5 29.8 195.5 30.7 200.9 33.2 206.2 35.2 208.7 36.3 211.6 37.7 217.1 40.8 220.3 42.5 223.3 43.9 228.7 46.3 234.0 48.9 236.2 49.7 241.4 51.2 244.6 52.3 250.8 55.1 255.3 56.9 257.3 57.9 259.3 59.1 263.0 61.8 267.0 64.3 271.0 67.0 272.7 68.0 276.9 70.3 279.1 71.8 285.2 76.7 294.5 83.7 296.5 85.5 298.8 87.7 299.5 88.5 299.8 88.8 300.0 88.8 M193.0 32.4 193.5 32.5 199.5 35.2 204.2 37.1 206.2 38.0 208.4 39.2 213.4 42.3 216.6 44.1 220.8 46.1 227.1 48.7 232.7 51.7 235.2 52.6 240.9 54.3 243.9 55.4 252.8 59.3 254.6 60.1 256.3 61.2 259.8 63.9 263.9 66.8 268.2 70.0 270.2 71.1 274.9 73.3 276.4 74.1 277.7 75.0 287.6 83.0 289.3 84.3 292.3 86.3 293.8 87.4 295.3 88.7 298.8 92.0 299.5 92.9 299.8 93.1 300.0 93.2 M193.0 35.2 193.5 35.3 194.2 35.7 202.4 39.1 204.7 40.1 207.0 41.5 212.4 45.2 214.4 46.3 216.6 47.5 219.3 48.7 225.5 51.1 230.5 53.7 232.5 54.6 240.7 57.5 243.3 58.6 249.9 61.8 251.8 62.8 253.3 63.8 256.8 66.3 261.3 69.2 265.0 72.0 266.5 73.0 268.7 74.2 273.7 76.3 275.2 77.1 276.7 78.1 278.4 79.4 280.5 81.2 286.8 86.9 288.6 88.2 291.8 90.3 293.3 91.4 295.0 92.8 299.5 96.8 300.0 97.0 M193.0 38.3 193.2 38.3 194.2 38.8 196.2 39.6 200.9 41.4 203.4 42.5 205.7 43.8 211.1 47.7 213.1 48.8 215.3 50.0 217.8 51.1 223.8 53.6 230.0 56.6 236.6 59.3 244.1 62.9 248.6 65.2 254.2 68.8 259.0 71.7 263.0 74.5 264.5 75.4 266.5 76.5 273.2 79.6 274.7 80.4 276.2 81.4 277.7 82.5 279.3 83.9 284.6 89.4 286.6 91.1 288.3 92.4 291.8 94.3 293.3 95.3 294.8 96.4 299.5 100.1 300.0 100.3 M193.0 41.6 193.5 41.8 194.5 42.2 200.0 44.0 201.9 44.9 204.4 46.3 209.9 49.9 214.1 52.3 224.5 57.5 227.0 58.6 232.7 60.9 237.9 63.6 243.1 65.9 245.9 67.3 255.5 73.3 261.5 77.2 273.4 83.5 275.4 84.7 276.8 85.7 278.1 86.9 283.4 92.5 285.4 94.3 287.1 95.4 291.1 97.3 292.8 98.3 294.3 99.3 299.5 103.4 300.0 103.6 M193.0 44.9 193.2 45.0 194.5 45.6 199.2 46.9 201.2 47.7 203.2 48.8 207.2 51.4 208.9 52.4 215.8 56.1 223.0 60.1 225.5 61.3 230.7 63.4 235.9 65.9 241.2 68.0 243.7 69.3 251.6 74.4 257.8 78.7 260.0 80.0 265.0 82.6 269.7 85.8 274.2 88.5 275.9 89.7 277.7 91.2 279.4 92.8 282.4 95.8 283.9 97.0 285.8 98.2 289.8 99.9 291.6 100.9 293.3 102.0 296.3 104.4 298.8 106.2 299.5 106.8 300.0 107.0 M193.0 48.2 193.2 48.2 194.5 48.8 198.7 50.0 200.4 50.7 202.2 51.7 205.7 54.0 207.4 55.0 214.1 58.3 220.8 62.0 224.3 63.9 232.5 67.7 234.5 68.4 239.2 70.0 240.7 70.7 242.2 71.5 244.1 72.8 248.4 75.7 254.3 80.1 256.1 81.1 260.3 83.6 262.5 85.0 271.0 91.5 277.2 95.5 280.8 98.6 282.1 99.6 284.1 100.7 288.3 102.6 290.3 103.6 292.3 105.0 295.9 107.8 297.2 108.5 297.5 108.8 297.6 109.0 M193.0 51.2 193.5 51.4 194.5 51.9 197.7 52.9 199.5 53.7 200.9 54.6 203.9 56.6 205.7 57.7 207.2 58.5 211.1 60.2 213.1 61.2 219.6 64.6 225.0 67.7 227.0 68.7 228.9 69.5 231.0 70.3 237.9 72.7 239.4 73.3 240.9 74.1 242.9 75.3 245.6 77.2 252.3 82.2 256.9 84.9 258.5 86.0 266.0 91.8 270.2 95.2 271.7 96.3 276.2 99.1 280.9 102.3 282.9 103.4 286.6 105.0 288.6 106.1 292.3 108.5 292.6 108.8 292.8 109.0 M193.0 54.2 193.5 54.4 194.2 54.8 195.7 55.4 197.7 56.4 199.0 57.1 201.9 59.1 203.7 60.1 205.2 60.8 209.1 62.4 211.5 63.6 222.3 69.8 224.0 70.7 226.8 71.9 232.2 73.8 234.7 74.8 236.9 75.9 243.1 79.2 245.9 80.9 251.3 85.0 256.6 88.4 260.1 91.1 264.5 94.3 269.5 98.5 271.5 100.0 275.9 102.7 280.6 105.6 284.5 107.5 287.0 108.5 287.4 108.8 287.6 109.0 M193.0 57.3 193.5 57.5 194.2 58.0 195.7 58.8 199.0 60.9 200.7 61.8 202.7 62.7 207.2 64.5 209.4 65.6 211.1 66.5 217.1 70.3 221.1 72.6 224.0 73.9 229.2 75.7 231.2 76.5 233.0 77.5 235.9 79.5 237.4 80.4 242.4 82.6 244.4 83.7 247.1 85.5 254.1 90.7 260.0 94.8 262.3 96.4 264.5 98.2 268.5 101.8 270.2 103.2 271.7 104.1 276.2 106.4 278.3 107.8 279.7 108.5 280.1 108.8 280.3 109.0 M193.0 60.7 193.5 60.9 194.2 61.5 196.7 63.0 198.8 64.1 200.7 64.9 205.2 66.6 207.6 67.8 209.6 69.0 215.6 72.9 219.6 75.2 222.3 76.4 227.5 78.2 229.4 79.0 230.7 79.8 233.9 82.2 235.7 83.3 237.9 84.5 242.7 86.6 244.9 87.8 246.1 88.6 247.5 89.6 252.6 93.9 254.0 94.8 258.3 97.5 261.7 100.1 264.0 102.0 267.4 105.5 268.7 106.6 269.7 107.3 270.5 107.7 273.0 108.5 273.6 108.8 273.8 109.0 M193.0 64.1 193.2 64.2 194.5 65.0 197.8 66.8 203.4 69.1 205.9 70.3 208.6 71.9 214.6 75.7 217.8 77.5 220.6 78.8 225.5 80.8 227.3 81.6 228.6 82.4 231.9 84.7 234.2 86.0 238.4 88.4 242.9 90.6 244.4 91.4 246.4 92.9 249.6 95.8 251.1 97.0 252.6 98.0 257.3 100.8 259.3 102.1 260.8 103.3 262.8 105.1 265.2 107.8 266.3 108.8 266.4 109.0 M193.0 67.4 193.2 67.5 194.2 68.1 197.2 69.7 202.2 72.1 204.9 73.5 208.4 75.4 214.8 79.1 224.0 83.7 234.0 89.4 243.1 95.1 244.6 96.2 247.6 98.6 249.4 99.8 251.1 100.8 255.3 103.0 257.8 104.5 260.4 106.5 261.6 107.8 262.5 108.5 262.7 108.8 262.8 109.0 M193.0 70.5 193.5 70.7 194.2 71.2 199.8 74.2 205.2 77.3 210.4 80.2 219.6 84.9 221.8 86.2 226.3 88.9 232.0 91.9 234.0 93.1 239.7 97.0 245.9 101.4 248.1 102.7 252.8 104.9 255.1 106.0 256.2 106.8 258.7 108.5 259.0 108.8 259.1 109.0 M193.0 73.6 193.5 73.8 194.2 74.3 197.2 76.0 204.2 80.3 211.8 84.4 217.3 87.6 219.6 88.9 224.5 92.1 226.3 93.0 230.2 94.8 232.5 96.0 236.4 98.5 242.4 102.7 244.6 104.2 246.9 105.3 250.1 106.8 253.8 108.5 254.2 108.8 254.3 109.0 M193.0 76.7 193.5 76.9 201.7 82.3 203.7 83.4 207.7 85.4 209.8 86.7 215.3 90.4 222.0 94.6 224.5 96.0 230.0 98.5 233.0 100.0 236.2 102.0 241.4 105.7 243.9 107.3 244.9 107.8 247.1 108.8 247.3 109.0 M193.0 80.0 193.5 80.3 194.2 80.9 198.0 83.6 200.0 84.9 201.7 85.9 205.7 87.7 207.4 88.7 209.3 89.9 213.1 92.7 215.1 94.0 227.8 101.1 234.0 104.4 236.8 106.3 238.8 107.8 240.2 108.5 240.6 108.8 240.7 109.0 M193.0 83.9 193.5 84.1 194.5 84.9 198.5 87.7 200.2 88.6 204.4 90.7 206.4 91.7 207.9 92.7 211.6 95.3 213.3 96.3 220.8 100.3 222.8 101.6 227.5 104.7 233.0 107.8 234.6 108.5 234.9 108.8 235.1 109.0 M193.0 87.7 193.5 87.9 194.2 88.5 197.0 90.1 205.4 94.8 212.1 98.9 217.1 101.4 218.8 102.4 221.1 103.9 225.7 107.5 226.6 108.0 228.2 108.8 228.3 109.0 M193.0 91.0 193.5 91.2 194.2 91.6 196.7 92.9 198.7 94.1 204.4 97.9 207.6 99.8 210.1 101.2 214.6 103.4 216.3 104.4 219.1 106.3 220.9 107.8 222.1 108.5 222.4 108.8 222.5 109.0 M193.0 93.9 193.5 94.1 195.2 95.1 197.1 96.3 198.4 97.3 201.7 100.2 203.7 101.6 206.2 102.9 210.9 104.9 212.9 105.9 214.4 106.8 215.8 107.8 217.1 108.5 217.4 108.8 217.6 109.0 M193.0 97.1 193.5 97.4 195.2 98.9 198.5 102.3 199.4 103.0 200.5 103.8 201.8 104.5 203.4 105.3 207.9 107.0 211.6 108.5 212.0 108.8 212.2 109.0 M193.0 102.4 193.2 102.5 194.1 103.5 194.7 104.0 196.2 105.2 197.5 106.0 200.3 107.5 201.6 108.0 203.3 108.5 204.0 108.8 204.2 109.0 M193.0 107.1 193.2 107.1 194.2 107.9 195.6 108.5 196.0 108.8 196.2 109.0" fill="none" stroke="#f2a870" stroke-width="1.1" stroke-opacity="1" stroke-dasharray="2.2 1.3"/>
<path d="M196 48 C197.13 49.05 198.07 50.37 202.8 54.3 C207.53 58.23 218.28 65.83 224.4 71.6 C230.52 77.37 235.57 83.5 239.5 88.9 C243.43 94.3 246.25 100.15 248 104 C249.75 107.85 249.67 110.67 250 112" fill="none" stroke="#4a1004" stroke-width="9" stroke-opacity="0.35" stroke-linecap="round" filter="url(#bl3)"/>
<path d="M190 44 C192.13 45.72 197.07 49.7 202.8 54.3 C208.53 58.9 218.28 65.83 224.4 71.6 C230.52 77.37 235.57 83.5 239.5 88.9 C243.43 94.3 246.25 100.15 248 104 C249.75 107.85 249.67 110.67 250 112" fill="none" stroke="#4a1004" stroke-width="9" stroke-opacity="0.55" stroke-dasharray="1.4 1.8" filter="url(#bl05)"/>
<path d="M190 92 C192.5 93.33 200.83 97 205 100 C209.17 103 213.33 108.33 215 110" fill="none" stroke="#4a1004" stroke-width="8" stroke-opacity="0.35" stroke-linecap="round" filter="url(#bl3)"/>
<path d="M188 88 C190.83 89.67 200 94.33 205 98 C210 101.67 215.83 108 218 110" fill="none" stroke="#4a1004" stroke-width="7" stroke-opacity="0.45" stroke-dasharray="1.4 1.8" filter="url(#bl05)"/>
<ellipse cx="196" cy="14" rx="5" ry="12" fill="#4a1004" opacity="0.3" filter="url(#bl3)" transform="rotate(0 196 14)"/>
<ellipse cx="296" cy="3" rx="8" ry="5" fill="#4a1004" opacity="0.4" filter="url(#bl2)" transform="rotate(0 296 3)"/>
<ellipse cx="282" cy="70" rx="14" ry="26" fill="#f4b47c" opacity="0.2" filter="url(#bl4)" transform="rotate(0 282 70)"/>
<path d="M190 2 C191 2.17 192.07 1.9 196 3 C199.93 4.1 207.1 6.6 213.6 8.6 C220.1 10.6 227.8 13.02 235 15 C242.2 16.98 249.57 19.03 256.8 20.5 C264.03 21.97 274.8 23.25 278.4 23.8" fill="none" stroke="#f6c48a" stroke-width="7" stroke-opacity="0.3" stroke-linecap="round" filter="url(#bl2)"/>
<path d="M190 2 C191 2.17 192.07 1.9 196 3 C199.93 4.1 207.1 6.6 213.6 8.6 C220.1 10.6 227.8 13.02 235 15 C242.2 16.98 249.57 19.03 256.8 20.5 C264.03 21.97 274.8 23.25 278.4 23.8" fill="none" stroke="#fbe2a4" stroke-width="0.9" stroke-opacity="0.45" stroke-linecap="round" filter="url(#bl05)"/>
<path d="M189.8 4.49 C190.73 4.65 193.68 5.03 195.39 5.43 C197.11 5.82 198.29 6.3 200.1 6.88 C201.91 7.45 204.12 8.2 206.25 8.88 C208.37 9.57 210.83 10.35 212.86 10.99 C214.89 11.62 216.51 12.12 218.42 12.7 C220.32 13.29 222.32 13.9 224.31 14.5 C226.3 15.1 228.34 15.71 230.34 16.28 C232.34 16.86 234.32 17.4 236.3 17.95 C238.29 18.5 240.27 19.05 242.26 19.57 C244.26 20.1 246.26 20.63 248.27 21.13 C250.28 21.62 252.16 22.08 254.3 22.53 C256.43 22.98 258.68 23.41 261.07 23.82 C263.45 24.23 266.27 24.63 268.61 24.97 C270.95 25.31 274.04 25.71 275.13 25.86" fill="none" stroke="#fbe2a4" stroke-width="0.9" stroke-opacity="0.45" stroke-linecap="round" filter="url(#bl05)"/>
<path d="M188 26 C189.38 26.33 192.03 26.93 196.3 28 C200.57 29.07 207.12 30.77 213.6 32.4 C220.08 34.03 228 36.53 235.2 37.8 C242.4 39.07 250.33 40 256.8 40 C263.27 40 268.97 39.43 274 37.8 C279.03 36.17 283.75 33.62 287 30.2 C290.25 26.78 292.77 21.62 293.5 17.3 C294.23 12.98 292.32 7.52 291.4 4.3 C290.48 1.08 288.57 -0.95 288 -2" fill="none" stroke="#f6c48a" stroke-width="6" stroke-opacity="0.25" stroke-linecap="round" filter="url(#bl2)"/>
<path d="M188 26 C189.38 26.33 192.03 26.93 196.3 28 C200.57 29.07 207.12 30.77 213.6 32.4 C220.08 34.03 228 36.53 235.2 37.8 C242.4 39.07 250.33 40 256.8 40 C263.27 40 268.97 39.43 274 37.8 C279.03 36.17 283.75 33.62 287 30.2 C290.25 26.78 292.77 21.62 293.5 17.3 C294.23 12.98 292.32 7.52 291.4 4.3 C290.48 1.08 288.57 -0.95 288 -2" fill="none" stroke="#fbe2a4" stroke-width="1" stroke-opacity="0.6" stroke-linecap="round" filter="url(#bl05)"/>
<path d="M187.49 28.14 C188.39 28.35 190.9 28.94 192.88 29.42 C194.85 29.9 197.19 30.49 199.35 31.04 C201.51 31.59 203.57 32.12 205.86 32.7 C208.14 33.28 210.93 33.98 213.06 34.53 C215.18 35.08 216.68 35.49 218.6 36.01 C220.52 36.53 222.56 37.11 224.58 37.63 C226.6 38.16 228.66 38.7 230.74 39.15 C232.81 39.6 234.85 39.98 237.03 40.34 C239.2 40.7 241.54 41.04 243.79 41.31 C246.03 41.58 248.32 41.81 250.49 41.96 C252.66 42.11 254.56 42.21 256.8 42.2 C259.04 42.19 261.65 42.13 263.94 41.93 C266.23 41.72 268.39 41.46 270.55 40.99 C272.72 40.51 274.81 39.93 276.93 39.1 C279.04 38.26 281.32 37.21 283.26 35.98 C285.21 34.75 287.04 33.36 288.6 31.71 C290.15 30.07 291.52 28.1 292.62 26.1 C293.72 24.11 294.7 22.04 295.2 19.77 C295.71 17.49 295.86 14.83 295.67 12.45 C295.47 10.06 294.85 7.84 294.04 5.47 C293.22 3.09 291.32 -0.59 290.78 -1.81" fill="none" stroke="#fbe2a4" stroke-width="1" stroke-opacity="0.6" stroke-linecap="round" filter="url(#bl05)"/>
<path d="M186 31 C187 31.6 188.33 32.77 192 34.6 C195.67 36.43 202.6 39.43 208 42 C213.4 44.57 218.07 45.78 224.4 50 C230.73 54.22 239.9 61.9 246 67.3 C252.1 72.7 256.67 77.72 261 82.4 C265.33 87.08 269.1 91.47 272 95.4 C274.9 99.33 277.07 103.23 278.4 106 C279.73 108.77 279.73 111 280 112" fill="none" stroke="#f6c48a" stroke-width="9" stroke-opacity="0.4" stroke-linecap="round" filter="url(#bl2)"/>
<path d="M187.22 29.17 C188.19 29.75 191.2 31.67 193.02 32.65 C194.85 33.64 196.23 34.17 198.16 35.07 C200.1 35.96 202.57 37.06 204.65 38.02 C206.74 38.97 208.8 39.97 210.67 40.8 C212.53 41.63 214.05 42.17 215.84 42.98 C217.64 43.79 219.56 44.61 221.45 45.65 C223.34 46.69 225.38 48.01 227.17 49.23 C228.97 50.45 230.49 51.64 232.22 52.97 C233.96 54.3 235.81 55.79 237.57 57.23 C239.33 58.66 241.14 60.19 242.79 61.59 C244.44 63 245.82 64.18 247.46 65.66 C249.11 67.14 251.03 68.91 252.65 70.48 C254.27 72.06 255.75 73.6 257.2 75.1 C258.64 76.6 259.88 77.94 261.31 79.49 C262.74 81.04 264.32 82.74 265.78 84.39 C267.24 86.04 268.75 87.77 270.08 89.39 C271.42 91.01 272.51 92.33 273.78 94.1 C275.04 95.88 276.57 98.18 277.68 100.02 C278.79 101.86 279.68 103.22 280.43 105.15 C281.18 107.09 281.88 110.55 282.17 111.63" fill="none" stroke="#fbe2a4" stroke-width="1.1" stroke-opacity="0.75" stroke-linecap="round" filter="url(#bl05)"/>
<path d="M186 31 C187 31.6 188.33 32.77 192 34.6 C195.67 36.43 202.6 39.43 208 42 C213.4 44.57 218.07 45.78 224.4 50 C230.73 54.22 239.9 61.9 246 67.3 C252.1 72.7 256.67 77.72 261 82.4 C265.33 87.08 269.1 91.47 272 95.4 C274.9 99.33 277.07 103.23 278.4 106 C279.73 108.77 279.73 111 280 112" fill="none" stroke="#fbe2a4" stroke-width="1.1" stroke-opacity="0.75" stroke-linecap="round" filter="url(#bl05)"/>
<path d="M184.78 32.83 C185.81 33.45 189.05 35.51 190.98 36.55 C192.9 37.59 194.36 38.16 196.34 39.07 C198.31 39.98 200.73 41.06 202.82 42.02 C204.91 42.98 207 43.99 208.88 44.82 C210.77 45.66 212.37 46.24 214.11 47.03 C215.85 47.81 217.59 48.55 219.35 49.52 C221.1 50.49 222.95 51.68 224.65 52.83 C226.35 53.99 227.85 55.15 229.53 56.45 C231.22 57.75 233.05 59.22 234.78 60.63 C236.51 62.05 238.31 63.56 239.93 64.94 C241.56 66.33 242.93 67.49 244.54 68.94 C246.14 70.39 247.99 72.1 249.57 73.63 C251.15 75.16 252.6 76.66 254.01 78.14 C255.43 79.61 256.66 80.95 258.08 82.48 C259.49 84.01 261.06 85.7 262.5 87.32 C263.93 88.94 265.4 90.63 266.69 92.19 C267.98 93.76 269.02 95.02 270.22 96.7 C271.42 98.37 272.87 100.57 273.89 102.26 C274.92 103.95 275.71 105.16 276.37 106.85 C277.03 108.53 277.59 111.45 277.83 112.37" fill="none" stroke="#fbe2a4" stroke-width="1.1" stroke-opacity="0.75" stroke-linecap="round" filter="url(#bl05)"/>
<path d="M186 66 C187 66.57 187.4 66.3 192 69.4 C196.6 72.5 206.4 79.2 213.6 84.6 C220.8 90 230.8 97.57 235.2 101.8 C239.6 106.03 239.2 108.63 240 110" fill="none" stroke="#f6c48a" stroke-width="6" stroke-opacity="0.25" stroke-linecap="round" filter="url(#bl2)"/>
<path d="M186 66 C187 66.57 187.4 66.3 192 69.4 C196.6 72.5 206.4 79.2 213.6 84.6 C220.8 90 230.8 97.57 235.2 101.8 C239.6 106.03 239.2 108.63 240 110" fill="none" stroke="#fbe2a4" stroke-width="1" stroke-opacity="0.55" stroke-linecap="round" filter="url(#bl05)"/>
<path d="M185.17 67.82 C186.13 68.36 189.32 70.1 190.92 71.08 C192.52 72.06 193.31 72.7 194.79 73.71 C196.27 74.72 198.04 75.94 199.78 77.15 C201.53 78.37 203.46 79.72 205.28 81.02 C207.1 82.32 208.94 83.64 210.71 84.94 C212.48 86.24 214.1 87.47 215.89 88.82 C217.68 90.18 219.62 91.65 221.45 93.06 C223.28 94.48 225.19 95.96 226.86 97.31 C228.54 98.66 229.96 99.72 231.49 101.14 C233.03 102.56 234.97 104.26 236.07 105.85 C237.18 107.44 237.78 109.89 238.13 110.7" fill="none" stroke="#fbe2a4" stroke-width="1" stroke-opacity="0.55" stroke-linecap="round" filter="url(#bl05)"/>
</g>
<g clip-path="url(#cpc)">
<rect x="362.1" y="0" width="106.4" height="106.2" fill="#ca5e24"/>
<path d="M364.5 107.0 364.4 106.5 363.9 105.8 363.3 104.7 362.6 102.7 362.3 102.3 362.1 102.1 M367.8 107.0 367.7 106.5 366.4 104.0 363.3 99.0 362.3 96.7 362.1 96.4 M371.0 107.0 370.9 106.5 370.0 104.3 368.9 102.0 366.5 98.6 365.9 97.3 365.3 96.1 363.3 93.9 362.3 92.1 362.1 91.9 M374.5 107.0 373.3 103.8 372.4 101.8 371.5 100.3 369.5 97.6 366.5 94.1 365.3 92.6 363.6 89.8 362.6 87.6 362.3 87.2 362.1 87.0 M377.0 107.0 376.9 106.8 376.3 105.8 374.8 102.5 373.6 100.3 371.9 97.6 368.9 93.6 367.4 91.4 363.4 84.2 362.3 81.8 362.1 81.6 M379.3 107.0 379.2 106.8 378.5 105.6 376.6 101.8 375.5 99.8 371.1 92.8 369.9 90.9 365.6 82.2 364.6 79.7 364.1 77.5 363.8 74.7 363.8 74.0 364.0 72.7 364.0 72.2 362.6 70.2 362.3 69.9 362.1 69.8 M381.8 107.0 381.6 106.5 380.9 105.5 377.5 99.3 372.9 91.6 371.8 89.4 370.7 86.9 368.7 81.9 367.8 79.2 367.2 75.5 367.1 74.2 367.3 73.2 367.2 72.7 366.9 72.2 365.3 70.5 363.6 68.3 362.3 66.1 362.1 65.9 M384.7 107.0 384.5 106.5 383.6 105.5 382.2 103.3 379.5 98.3 376.0 92.3 374.3 89.1 373.0 85.9 371.9 82.2 370.6 76.2 370.5 75.2 370.5 74.0 370.3 73.2 370.0 72.7 369.1 71.7 367.2 69.5 365.3 66.8 363.6 63.5 363.1 62.2 362.3 59.8 362.1 59.5 M388.0 107.0 387.9 106.8 387.7 106.5 387.0 105.8 385.5 103.8 384.2 101.8 381.1 95.8 377.7 89.9 376.5 87.4 375.8 85.6 375.3 83.7 374.9 79.9 374.2 76.5 374.2 75.5 374.1 75.0 373.3 73.7 370.6 70.8 369.3 69.0 368.2 67.3 367.3 65.5 366.7 64.1 366.2 62.6 365.1 57.6 364.5 53.4 364.6 52.4 364.5 51.9 364.2 50.9 363.1 49.0 362.6 47.9 362.3 47.5 362.1 47.4 M391.5 107.0 391.5 106.8 391.3 106.5 390.5 105.8 388.3 103.0 386.7 100.5 385.7 98.7 383.5 93.8 380.1 87.4 379.4 85.6 379.1 84.2 378.3 79.7 378.2 78.5 378.2 77.5 378.1 77.0 372.2 69.8 371.1 68.3 370.3 66.8 369.7 65.0 369.3 63.1 369.2 61.3 369.3 58.3 369.1 56.6 369.0 56.1 368.4 54.9 366.4 51.6 363.5 46.4 362.6 44.5 362.3 44.1 362.1 43.9 M362.1 25.3 362.3 25.2 363.3 23.7 364.0 23.1 364.1 22.6 363.9 21.8 363.3 20.5 362.6 17.8 362.3 17.2 362.1 17.0 M395.4 107.0 395.1 106.5 394.4 105.8 390.9 101.3 389.9 99.8 389.1 98.3 387.2 93.8 384.2 87.9 383.3 85.6 382.8 84.2 382.4 82.7 382.3 81.4 382.4 80.4 382.3 79.9 381.5 78.6 374.7 70.0 373.6 68.3 372.8 66.8 372.2 65.0 372.1 64.3 372.1 63.3 372.3 61.8 372.7 60.3 373.2 59.3 373.2 58.8 372.6 57.6 369.3 53.1 367.7 50.6 365.9 47.2 364.5 44.2 363.6 41.7 363.4 40.7 363.4 40.0 363.5 39.2 363.7 38.5 364.1 37.5 364.7 36.5 364.8 36.0 364.6 35.7 363.8 34.9 363.3 34.2 362.3 32.2 362.1 32.1 M398.8 107.0 398.6 106.5 397.9 105.8 394.1 100.3 392.7 97.8 390.6 93.5 388.4 89.3 387.5 87.4 387.0 85.9 386.6 84.7 386.6 84.2 386.6 83.4 386.5 82.9 385.7 81.7 378.1 71.3 376.9 69.5 376.0 68.0 375.3 66.3 375.1 65.3 375.0 64.5 375.1 63.6 375.2 62.8 375.8 61.3 376.2 60.3 376.1 59.8 374.1 56.6 370.9 52.1 369.3 49.7 367.8 46.9 366.8 44.4 366.4 42.5 366.4 40.7 366.5 40.0 366.8 39.0 367.6 37.5 367.6 37.0 367.3 36.5 365.7 34.3 364.8 32.8 364.2 31.0 364.0 30.3 364.0 29.5 364.2 28.3 364.6 27.3 365.3 26.4 366.8 25.1 367.0 24.6 366.8 23.8 366.3 22.6 365.1 18.9 363.4 13.9 363.0 11.9 362.8 9.4 362.9 7.0 363.1 5.7 363.3 4.7 363.7 3.7 364.9 1.2 365.4 0.2 365.5 0.0 M402.4 107.0 402.3 106.8 401.2 105.5 398.5 101.5 397.1 99.3 396.1 97.6 394.9 95.1 392.6 89.6 391.9 87.1 391.1 85.9 388.4 82.7 386.6 80.2 381.3 72.0 379.7 69.3 378.8 67.3 378.5 66.3 378.4 65.5 378.4 64.8 378.5 64.1 379.2 62.1 379.1 61.6 379.0 61.1 378.7 60.6 378.2 59.8 376.7 57.3 371.5 49.4 370.4 47.4 369.7 45.4 369.3 43.7 369.2 42.7 369.2 42.0 369.5 40.7 370.0 39.2 370.4 38.5 370.5 38.2 370.5 38.0 368.8 35.5 367.8 33.8 367.2 32.3 367.1 31.0 367.2 30.0 367.6 29.2 368.3 28.3 369.9 26.8 370.0 26.6 370.1 26.1 369.9 25.6 369.3 24.6 368.7 23.1 367.3 18.6 366.4 14.4 366.1 12.7 366.0 10.9 366.0 8.7 366.4 6.7 367.0 5.0 368.1 2.5 368.3 2.0 368.3 1.2 368.0 0.0 M408.0 107.0 408.0 106.8 407.3 105.6 406.6 105.0 406.0 103.8 405.8 103.7 405.5 103.7 405.0 103.9 404.8 103.9 403.3 102.5 402.1 101.2 400.8 99.6 399.3 97.1 398.8 96.1 398.3 94.9 398.0 93.3 398.2 92.6 398.1 92.1 396.3 89.6 392.8 85.6 390.8 83.2 389.5 81.4 388.3 79.4 386.9 77.0 385.2 73.5 384.2 71.3 383.4 69.3 383.0 68.0 382.9 67.0 382.8 65.3 383.0 64.1 382.8 63.1 380.9 60.6 376.5 53.4 374.3 49.4 373.6 47.9 373.1 46.7 372.6 44.9 372.5 43.9 372.5 43.2 373.0 40.7 373.5 39.6 373.6 39.2 373.4 38.7 371.8 36.7 370.8 35.0 370.3 33.8 370.1 32.5 370.2 31.8 370.3 31.3 370.8 30.3 371.8 29.2 372.9 28.3 373.1 28.1 373.1 27.8 372.0 25.6 370.1 20.4 369.6 18.4 369.3 16.4 369.1 14.6 369.1 12.9 369.2 11.4 369.4 9.9 369.6 8.7 370.0 7.4 370.7 6.0 371.2 5.0 371.3 4.5 371.2 3.7 370.3 0.0 M409.8 107.0 409.6 106.5 408.8 105.5 407.5 103.6 404.6 98.6 402.6 95.6 394.0 84.7 392.6 82.7 391.7 81.2 390.9 79.7 390.2 78.2 389.6 76.5 389.1 74.7 388.7 73.0 388.4 71.3 388.2 68.5 388.2 67.5 388.1 67.0 384.7 62.6 382.6 59.6 381.4 57.8 380.2 55.9 379.2 53.9 378.4 52.1 377.7 50.4 377.0 47.9 376.7 45.7 376.8 42.5 377.0 42.0 377.3 41.5 377.4 41.0 377.1 40.5 376.5 39.7 375.4 38.5 374.1 36.7 373.4 35.3 373.1 34.5 373.0 33.8 373.0 33.0 373.1 32.5 373.4 31.8 373.7 31.3 374.8 30.0 375.8 29.3 375.9 29.0 375.9 28.8 375.5 28.1 374.8 26.6 373.6 23.1 372.6 20.4 372.1 18.6 371.8 16.9 371.7 15.6 371.8 14.2 372.0 12.7 372.2 11.4 372.9 9.4 374.2 7.0 374.3 6.2 374.3 5.7 374.0 4.7 373.6 3.2 373.0 0.0 M412.0 107.0 411.7 106.5 411.1 105.8 408.3 101.8 404.4 96.1 399.6 89.4 397.8 86.6 395.6 83.0 394.3 80.4 393.9 79.2 393.7 78.2 393.5 77.0 393.5 76.0 393.6 74.5 393.9 73.2 393.8 72.7 393.3 71.5 392.6 70.2 391.6 68.7 387.1 62.8 384.2 58.6 382.5 55.6 381.8 54.1 381.4 52.9 380.9 50.9 380.7 49.2 380.7 47.9 380.9 46.2 380.9 44.7 381.0 44.1 381.3 43.2 381.2 42.5 380.7 41.7 378.2 39.0 377.1 37.5 376.3 36.0 375.9 34.8 375.9 33.8 376.1 33.0 376.3 32.5 377.3 31.3 378.2 30.4 378.5 30.0 378.4 29.5 377.6 27.8 377.1 26.6 376.4 23.8 375.1 19.6 374.7 18.1 374.6 16.9 374.5 15.6 374.6 14.6 374.8 13.4 375.0 12.5 375.7 10.7 376.3 9.7 377.1 8.4 377.2 7.9 377.2 7.4 376.6 4.7 376.0 0.0 M415.4 107.0 415.2 106.5 414.3 105.5 412.9 103.5 411.6 101.3 410.8 99.8 410.7 99.1 410.8 98.6 411.0 98.5 411.8 98.7 412.2 98.6 412.4 98.3 412.3 98.1 410.8 96.6 410.3 95.7 408.6 93.8 404.9 88.6 404.5 87.9 403.0 85.6 402.6 84.8 401.2 82.7 400.7 81.7 400.1 80.8 398.1 77.5 397.2 75.7 395.4 71.4 394.2 69.3 393.3 67.8 389.9 63.3 387.8 60.3 385.8 56.9 385.2 55.6 384.7 54.4 384.2 52.4 384.0 50.6 384.5 45.7 384.8 44.2 384.6 43.7 383.8 42.7 381.9 40.5 380.2 38.2 379.3 36.7 379.0 35.5 379.0 34.5 379.3 33.5 380.0 32.5 381.0 31.5 381.3 31.0 381.2 30.5 380.1 28.3 379.6 26.6 378.3 21.1 377.9 19.1 377.7 17.4 377.7 15.4 377.8 14.4 378.0 13.4 378.7 11.7 379.9 9.7 380.1 9.2 380.0 8.7 379.7 7.2 379.4 5.5 378.9 0.0 M420.6 107.0 420.5 106.8 419.8 105.8 419.0 104.3 417.8 101.8 416.8 100.3 415.0 98.3 412.0 95.4 410.6 93.8 408.7 91.4 406.0 87.4 402.7 81.7 399.6 76.5 398.7 74.5 397.4 71.0 396.5 69.3 395.1 67.1 392.4 63.3 390.9 61.1 389.3 58.1 388.2 55.6 387.6 53.6 387.4 51.6 387.7 47.4 387.8 46.9 388.1 46.4 388.2 46.2 388.1 45.9 387.4 44.7 384.7 41.2 383.3 39.2 382.6 37.7 382.2 36.5 382.2 35.5 382.5 34.5 383.4 33.3 384.2 32.5 384.4 32.3 384.5 32.0 384.4 31.8 383.7 30.8 383.2 29.8 382.5 27.8 381.5 23.6 381.0 20.4 380.8 17.1 381.0 14.9 381.6 12.9 382.2 11.4 382.7 10.4 382.8 9.9 382.4 8.7 382.0 6.7 381.5 0.0 M422.9 107.0 422.7 106.5 421.9 105.5 419.4 100.8 418.2 99.1 416.9 97.6 413.7 94.5 412.2 92.9 410.5 90.6 408.5 87.6 407.0 85.2 404.3 80.2 401.7 76.0 401.1 74.7 398.5 68.8 397.5 67.0 395.1 63.3 394.0 61.6 392.9 59.3 392.0 57.1 391.3 54.9 390.9 52.9 390.9 51.1 391.0 49.2 391.2 48.2 391.0 47.4 390.6 46.6 387.5 42.0 386.6 40.5 385.8 39.0 385.5 37.7 385.4 36.7 385.7 35.7 386.3 34.5 387.2 33.5 387.3 33.0 387.1 32.5 386.1 30.8 385.6 29.3 384.4 24.8 384.0 22.3 383.9 19.1 384.1 15.9 384.5 13.7 384.9 12.4 385.3 11.4 385.5 10.9 385.4 10.4 384.8 8.7 384.5 6.7 383.8 0.0 M425.9 107.0 425.9 106.8 424.9 105.8 424.7 105.4 423.4 103.3 421.4 99.8 420.0 97.8 418.5 96.0 415.3 93.1 414.1 91.9 412.7 90.1 411.1 87.9 409.1 84.4 405.9 78.5 403.0 73.7 402.3 72.2 400.4 67.8 397.5 62.6 396.9 61.3 396.2 59.8 395.5 57.3 394.9 54.9 394.7 53.1 394.6 51.1 394.6 50.4 394.5 49.9 393.9 48.7 389.8 42.0 389.0 40.2 388.7 39.0 388.6 37.7 388.8 36.7 389.4 35.5 389.8 35.0 390.3 34.5 390.5 34.3 390.5 34.0 390.4 33.8 389.9 33.0 389.1 31.8 388.4 30.0 387.4 26.1 387.0 23.6 386.8 20.6 387.0 17.1 387.3 14.9 387.7 13.4 388.2 12.2 388.2 11.7 388.1 10.9 387.5 9.4 387.0 7.2 386.6 4.5 386.1 0.0 M429.7 107.0 429.6 106.8 428.2 105.5 427.1 104.0 423.2 98.1 421.7 96.1 419.7 93.9 416.2 90.7 414.6 88.9 413.0 86.6 411.4 83.9 408.2 78.2 405.0 72.7 404.1 70.8 402.3 66.1 400.0 61.1 399.4 59.3 399.0 57.3 398.8 54.6 399.0 53.4 398.9 52.9 398.1 51.6 396.6 49.6 394.9 46.9 393.2 43.9 392.2 41.7 391.9 40.7 391.7 39.7 391.6 39.0 391.7 38.2 392.2 37.0 392.6 36.2 393.3 35.3 393.4 34.8 393.2 34.0 392.2 32.5 391.3 30.5 390.4 27.3 389.9 24.8 389.6 21.4 389.6 19.6 389.8 18.1 390.2 15.6 390.6 14.2 391.1 12.9 391.2 12.4 391.0 11.7 390.5 10.4 389.7 7.3 388.9 3.7 388.4 0.0 M434.7 107.0 434.6 106.8 434.3 106.5 433.0 105.8 431.4 104.4 429.6 102.6 422.4 93.4 420.8 91.6 417.7 88.6 416.0 86.6 414.2 84.2 412.7 81.9 408.0 73.5 407.2 72.0 406.6 70.5 406.0 68.5 404.9 64.1 403.3 59.1 403.0 57.6 402.9 55.6 402.8 55.1 401.8 53.6 397.3 47.2 396.2 45.2 395.4 43.4 395.0 42.2 394.7 41.2 394.6 40.2 394.7 39.5 394.9 38.7 395.1 38.0 395.7 37.0 396.4 36.0 396.5 35.7 396.6 35.3 396.4 34.8 395.2 32.8 394.4 31.0 393.5 28.3 392.9 25.8 392.6 23.8 392.5 21.8 392.4 20.4 392.5 18.9 393.0 16.6 393.6 14.9 394.1 13.7 394.2 12.9 393.2 9.9 392.1 6.0 391.4 2.7 390.9 0.0 M438.9 107.0 438.6 106.5 436.8 104.7 432.6 101.3 430.1 98.8 427.4 95.7 423.4 90.9 418.2 85.2 416.5 83.0 415.0 80.8 413.5 78.4 412.0 75.5 410.5 72.5 409.7 70.5 409.3 69.0 409.0 67.5 408.7 62.3 408.3 60.6 407.9 59.3 407.0 57.8 404.7 54.6 400.1 47.4 399.1 45.8 398.4 44.4 398.0 43.2 397.8 42.2 397.7 41.2 397.8 40.2 398.0 39.5 398.3 38.7 399.0 37.5 399.7 36.5 399.8 36.0 399.6 35.5 399.1 34.8 398.3 33.3 396.8 29.8 396.2 28.1 395.9 26.3 395.6 24.3 395.4 22.3 395.4 20.9 395.5 19.4 395.7 18.1 396.0 17.1 396.6 15.6 397.1 14.4 397.2 13.9 396.3 10.9 394.5 4.2 394.0 2.2 393.6 0.0 M442.2 107.0 442.0 106.5 441.4 105.8 440.6 104.5 438.8 102.4 437.3 101.0 434.3 98.6 432.9 97.3 431.1 95.6 429.4 93.7 422.4 85.6 420.3 82.9 417.8 79.4 416.7 77.6 415.7 75.7 415.0 74.0 414.3 72.0 413.8 70.3 413.5 68.8 413.3 67.3 413.1 64.1 412.7 63.1 411.7 61.3 408.0 56.1 406.3 53.6 403.2 48.2 401.7 45.2 401.2 43.9 401.0 42.9 400.9 42.0 400.9 41.2 401.1 40.5 401.4 39.7 402.0 38.5 402.6 37.5 402.7 37.0 401.6 34.5 399.4 29.0 398.8 26.8 398.5 24.1 398.5 21.6 398.7 19.6 399.2 17.6 400.1 15.1 400.2 14.4 400.0 13.7 399.4 12.2 398.8 10.2 396.9 2.7 396.4 0.0 M446.5 107.0 446.4 106.8 446.2 106.5 445.2 105.5 441.4 100.3 439.8 98.4 438.3 96.9 434.8 94.1 433.2 92.6 429.8 88.9 426.5 85.6 424.9 83.7 423.8 81.9 420.6 76.5 419.6 74.5 419.1 73.2 418.8 72.0 418.0 68.3 417.5 67.0 414.1 61.6 410.6 56.6 409.1 54.4 407.3 51.1 405.7 47.9 404.7 45.2 404.4 43.9 404.3 42.9 404.3 42.0 404.5 41.0 405.0 39.5 405.5 38.5 405.6 38.0 404.4 35.5 402.3 29.8 401.7 27.6 401.4 25.3 401.4 22.8 401.6 20.6 402.2 18.4 402.8 16.4 403.2 15.4 403.3 14.9 402.2 12.7 401.4 10.4 399.6 2.5 399.2 0.0 M450.9 107.0 450.6 106.5 450.0 105.8 448.5 103.6 444.8 98.8 442.2 95.1 440.9 93.6 439.8 92.3 436.3 89.4 430.9 84.4 429.6 83.2 428.8 82.2 428.0 80.9 426.3 77.7 424.4 74.5 423.2 72.0 422.5 70.8 419.2 65.8 412.2 55.4 410.6 52.6 409.2 49.9 408.5 48.2 408.0 46.7 407.7 45.4 407.6 44.2 407.6 43.2 407.7 42.2 408.1 40.5 408.6 39.5 408.6 39.0 408.0 38.0 407.2 36.5 405.6 32.3 404.6 28.8 404.3 27.3 404.1 25.8 404.0 23.6 404.2 21.4 404.7 19.4 405.8 16.0 405.9 15.1 405.7 14.6 405.2 13.7 404.7 12.4 404.0 10.2 402.3 2.2 401.9 0.0 M453.3 107.0 453.1 106.5 452.5 105.8 450.7 103.0 449.2 100.9 445.3 96.0 442.3 92.0 437.6 86.3 432.8 80.9 429.6 76.5 425.6 71.5 422.1 66.3 418.7 61.5 415.5 56.6 413.9 53.9 412.5 51.1 411.8 49.4 411.2 47.9 410.9 46.7 410.7 45.4 410.7 44.2 410.8 43.2 411.2 41.5 411.6 40.5 411.6 40.0 411.4 39.5 410.0 37.0 408.4 33.5 407.6 30.8 406.9 27.8 406.7 24.8 406.8 22.3 407.3 20.1 408.5 16.4 408.6 15.9 408.4 15.1 407.1 11.9 406.5 10.2 404.4 0.0 M455.9 107.0 455.7 106.5 454.8 105.5 451.7 100.5 450.5 98.7 446.0 93.6 439.1 85.1 435.3 80.7 434.0 78.9 431.4 75.2 427.1 69.9 424.2 65.5 421.2 61.6 419.9 59.6 417.7 55.9 416.1 52.6 415.2 50.6 414.6 48.9 414.2 47.4 414.0 46.2 413.9 44.9 414.0 43.9 414.3 42.5 414.7 41.2 414.7 40.7 414.3 39.7 411.9 35.5 411.1 33.8 410.3 31.5 409.8 29.3 409.6 27.8 409.5 26.1 409.5 24.6 409.6 23.1 410.0 20.9 411.2 16.9 411.3 16.1 410.0 12.9 409.2 10.4 408.7 8.4 408.0 4.5 406.9 0.0 M458.9 107.0 458.8 106.8 458.6 106.5 457.7 105.5 456.5 103.8 453.5 98.8 452.1 96.8 450.8 95.3 447.3 91.8 443.8 87.9 441.5 85.2 437.2 79.7 436.0 78.0 433.2 73.7 429.1 68.8 425.9 64.3 422.9 60.3 421.7 58.3 420.5 56.1 419.6 53.9 418.7 51.4 417.9 49.2 417.5 47.4 417.4 46.2 417.4 44.9 417.5 43.4 417.9 42.0 417.9 41.2 416.0 37.7 414.0 34.0 413.1 31.8 412.6 29.8 412.4 28.5 412.3 27.1 412.3 25.6 412.5 24.1 413.0 21.4 414.1 17.6 414.2 17.1 414.0 16.4 413.2 14.6 412.6 12.9 411.9 10.7 409.5 0.0 M462.4 107.0 462.3 106.8 462.1 106.5 461.0 105.5 458.5 102.3 457.2 100.3 454.8 96.3 453.5 94.5 452.2 93.1 448.7 90.0 446.5 87.8 444.5 85.7 442.8 83.6 439.3 78.7 435.1 72.3 434.1 71.0 431.4 67.8 430.1 66.2 427.9 63.1 425.0 59.3 424.2 58.0 423.4 56.6 422.8 55.1 422.2 53.1 421.5 50.1 421.1 47.9 421.0 46.4 421.0 45.2 421.1 43.4 421.4 42.5 421.4 42.0 421.2 41.6 420.4 40.5 419.3 38.5 417.4 34.8 416.1 31.8 415.4 29.5 415.2 28.3 415.2 27.1 415.2 25.8 415.4 24.6 416.0 22.1 416.9 19.4 417.3 18.4 417.4 17.9 416.0 14.9 414.8 11.7 413.8 7.4 412.1 0.0 M465.9 107.0 465.8 106.8 465.6 106.5 464.8 105.8 461.4 101.9 460.2 100.3 458.8 98.3 456.4 94.2 454.9 92.2 453.1 90.4 447.3 85.3 445.8 83.8 444.4 82.2 442.0 78.7 437.0 70.8 435.8 69.2 433.1 66.0 431.9 64.5 427.6 58.6 426.8 57.3 426.3 56.4 425.8 55.1 425.3 53.6 424.9 51.9 424.5 49.2 424.2 45.9 424.2 44.4 424.3 42.9 424.2 42.2 424.0 41.7 423.2 40.5 422.1 38.5 420.6 35.3 419.1 31.5 418.7 30.0 418.4 28.8 418.3 26.8 418.4 25.8 418.6 24.6 419.3 22.6 420.6 19.4 420.7 18.9 420.4 18.1 418.5 14.3 417.3 11.2 416.4 7.9 414.6 0.0 M469.1 106.6 468.6 106.3 467.6 104.8 461.9 98.1 460.7 96.3 458.2 92.4 456.4 90.1 454.0 87.6 448.2 82.6 447.0 81.3 445.8 79.8 442.5 75.3 438.6 69.0 433.6 62.6 430.6 58.1 429.3 55.9 428.8 54.6 428.3 53.1 427.5 49.4 427.0 46.2 427.0 44.4 427.0 43.2 427.0 42.5 426.6 41.7 425.9 40.5 425.0 38.7 423.8 36.0 422.5 32.3 422.1 30.8 421.8 29.3 421.6 27.3 421.8 25.6 422.4 23.6 423.7 20.1 423.8 19.6 423.8 19.1 423.6 18.6 420.8 13.4 419.7 10.9 418.9 8.2 417.1 0.0 M469.1 102.3 468.9 102.2 467.6 100.2 463.4 95.2 459.7 90.4 457.9 88.1 455.2 85.2 450.9 81.2 449.0 79.2 447.3 77.4 445.5 75.3 443.8 72.9 440.3 67.3 436.7 62.6 435.5 60.8 433.8 58.1 432.5 55.6 431.8 54.1 431.3 52.6 430.4 49.2 430.0 47.4 429.8 45.7 429.7 44.2 429.7 42.9 429.6 42.5 429.4 42.0 428.5 40.5 427.8 39.2 426.8 36.7 425.7 33.5 425.1 30.5 424.8 28.3 424.8 27.1 425.0 26.1 425.5 23.8 426.6 20.4 426.6 19.9 425.3 17.1 423.1 12.9 422.0 10.4 421.2 7.4 419.6 0.0 M469.1 97.3 468.9 97.2 467.6 95.3 462.4 89.7 456.7 83.3 451.2 77.7 448.3 74.5 446.8 72.7 445.1 70.5 441.7 65.3 438.2 60.3 436.9 58.3 435.9 56.4 435.1 54.6 434.4 52.9 433.3 49.2 432.5 45.4 432.3 44.2 432.4 42.9 432.2 42.2 430.6 39.5 429.7 37.5 428.8 35.0 428.2 32.5 427.9 29.5 427.9 27.1 428.3 24.8 429.2 21.4 429.3 20.9 429.2 20.4 429.0 19.9 425.6 13.2 424.5 10.4 423.9 8.7 423.4 6.7 422.3 2.5 421.9 0.0 M469.1 92.7 468.9 92.6 468.6 92.3 467.6 91.1 464.4 88.1 462.4 86.1 458.0 81.2 448.7 71.2 446.9 68.8 443.8 64.0 440.8 59.7 439.8 58.1 439.0 56.6 438.3 55.1 437.6 53.4 435.4 46.4 435.1 44.7 435.0 43.9 435.1 42.5 435.0 42.0 433.6 39.8 432.4 37.5 431.6 35.4 431.1 33.3 430.8 30.8 430.8 28.1 431.1 25.8 432.1 21.6 432.2 21.1 432.0 20.6 431.1 19.4 429.1 15.6 427.9 13.2 427.0 10.9 426.3 8.9 425.5 6.2 424.6 2.5 424.1 0.0 M469.1 88.9 468.9 88.8 467.9 87.7 464.6 84.8 462.9 83.1 450.8 69.8 449.5 68.1 448.2 66.3 443.1 58.3 441.8 56.1 440.9 53.9 438.2 45.4 437.8 43.4 438.0 42.0 437.7 41.5 437.2 40.7 436.6 39.8 435.5 37.7 434.6 35.5 434.0 33.3 433.8 31.3 433.8 29.3 434.1 26.8 435.0 22.6 435.0 22.1 435.0 21.6 434.6 20.9 433.6 19.4 431.7 16.1 430.5 13.7 429.6 11.7 428.8 9.4 428.1 7.0 426.9 2.5 426.4 0.0 M469.1 85.4 468.9 85.3 468.6 85.1 467.9 84.2 465.1 81.9 463.1 79.9 457.9 74.2 453.0 68.5 451.5 66.5 450.1 64.3 445.8 57.3 444.4 54.6 443.2 51.6 441.2 45.4 440.9 43.4 440.9 41.2 440.8 41.0 439.5 39.5 438.6 37.7 437.7 35.5 437.2 33.5 436.9 31.5 437.0 29.5 437.2 27.3 438.0 22.6 438.0 22.1 437.8 21.6 436.2 19.6 434.8 17.4 433.4 14.6 432.1 11.9 431.3 9.7 430.5 7.2 429.4 2.7 428.9 0.0 M469.1 82.1 468.9 82.0 468.6 81.8 467.9 81.0 465.6 79.1 462.8 76.2 459.4 72.5 456.3 68.5 454.3 65.8 452.7 63.3 448.0 55.1 446.7 52.6 445.3 49.2 444.0 44.9 443.7 42.7 443.7 42.0 443.8 41.2 443.8 40.7 443.5 40.2 442.0 38.5 441.3 37.2 440.5 35.5 440.1 33.8 439.9 32.0 439.9 30.3 440.2 28.5 440.8 25.1 440.9 24.1 441.1 23.3 441.1 22.8 440.7 22.1 439.1 20.1 437.6 17.9 436.1 15.1 434.6 11.9 433.7 9.4 432.8 6.7 432.1 3.7 431.4 0.0 M469.1 79.1 468.9 79.0 468.6 78.8 467.9 78.0 466.5 76.7 463.2 73.2 460.7 70.3 458.3 67.0 456.9 65.0 455.8 63.1 452.7 57.3 449.7 51.9 448.5 49.4 447.3 46.4 446.6 43.9 446.5 42.9 446.4 41.5 446.7 40.2 446.7 39.7 446.5 39.4 445.7 38.7 445.0 38.0 443.9 36.5 443.1 35.0 442.7 33.5 442.6 32.0 442.8 30.3 443.8 26.1 444.0 24.3 444.3 23.3 444.3 23.1 444.2 22.8 442.0 20.6 440.8 19.1 439.5 16.9 437.9 13.7 436.4 10.2 435.4 7.2 434.5 4.0 433.8 0.0 M469.1 75.9 468.9 75.9 468.6 75.6 467.9 74.7 466.6 73.4 463.8 70.3 461.5 67.3 459.7 64.8 458.0 61.8 454.5 54.4 451.5 48.9 450.5 46.9 449.7 44.7 449.4 43.4 449.3 42.5 449.2 41.5 449.3 40.5 449.8 38.7 449.9 38.2 449.7 38.0 448.2 37.2 447.7 36.7 447.0 36.0 446.0 34.1 445.7 32.8 445.6 31.5 445.7 30.3 446.8 26.1 447.0 24.6 447.3 23.6 447.2 23.1 447.0 22.8 445.2 21.4 443.8 19.9 442.6 18.1 441.4 15.9 439.1 10.7 437.8 7.4 436.8 4.0 436.0 0.0 M469.1 72.4 468.9 72.3 468.6 72.0 467.9 70.9 463.8 66.3 462.4 64.5 461.3 62.8 459.9 60.1 456.8 52.9 454.1 47.7 453.2 45.9 452.8 44.7 452.4 43.4 452.0 41.2 452.2 39.2 452.4 38.2 452.9 37.2 452.9 37.0 452.9 36.7 452.7 36.5 451.1 35.7 450.5 35.3 450.1 34.8 449.7 34.0 449.4 33.3 449.0 31.3 449.0 30.3 449.1 28.8 449.5 26.3 450.1 23.8 450.1 23.3 449.7 22.8 448.0 21.6 446.5 20.1 445.3 18.6 444.3 16.9 441.0 9.2 440.2 7.0 439.2 3.7 438.3 0.0 M469.1 68.5 468.9 68.4 468.6 68.2 467.9 67.1 466.6 65.8 465.1 64.1 464.1 62.8 463.2 61.3 462.1 59.2 459.8 53.1 456.6 46.2 456.0 44.4 455.4 42.7 455.0 41.0 454.8 39.5 454.8 38.5 454.9 37.5 455.2 36.2 455.6 35.3 455.6 35.0 455.6 34.8 455.2 34.6 454.0 34.4 453.2 33.9 452.9 33.5 452.6 32.8 452.2 31.3 451.8 28.8 451.8 27.3 452.1 25.6 452.9 23.8 452.9 23.3 452.4 22.8 450.9 21.8 449.5 20.6 448.2 19.1 447.3 17.6 446.4 15.6 444.7 10.7 442.3 5.0 441.4 2.5 440.7 0.0 M469.1 65.0 468.9 64.9 468.6 64.6 467.9 63.5 466.8 62.3 466.0 61.1 465.2 59.6 460.8 48.7 459.7 45.7 457.8 39.2 457.4 37.2 457.2 35.3 457.7 33.3 457.5 33.0 457.2 32.9 456.2 32.9 455.9 32.9 455.7 32.8 455.6 32.5 455.2 30.8 454.4 27.6 454.3 26.6 454.6 25.3 454.8 24.8 455.7 23.6 455.8 23.3 455.7 23.1 453.8 22.1 452.8 21.4 451.7 20.1 450.9 18.9 450.4 17.6 450.0 16.1 449.7 12.9 449.7 11.4 449.3 10.7 448.9 9.7 448.3 8.7 447.7 7.5 447.1 6.7 445.0 3.3 444.5 2.2 444.0 1.1 443.6 0.5 443.5 0.0 M469.1 60.9 468.9 60.8 468.4 59.8 466.1 54.1 463.9 48.7 462.7 45.2 459.6 33.3 459.8 32.0 459.9 31.0 460.2 30.8 460.3 30.5 460.4 30.3 460.4 30.0 460.2 29.9 459.9 30.0 459.7 30.8 459.4 30.8 459.2 30.7 458.9 30.4 458.8 30.0 458.9 29.8 459.3 29.5 459.5 29.3 459.5 28.5 459.2 27.8 459.2 27.7 458.9 27.6 458.2 27.5 457.2 26.5 457.0 26.1 457.0 25.3 457.2 24.6 457.6 24.1 458.6 23.3 458.7 23.1 458.7 22.8 458.2 22.6 457.2 22.3 456.2 21.8 455.5 21.4 454.8 20.4 454.5 19.9 454.5 19.4 454.5 19.1 454.7 18.7 454.9 18.4 455.2 18.3 456.4 18.1 456.4 17.9 455.9 17.4 454.7 15.6 453.2 13.7 452.4 12.4 451.4 10.7 449.0 6.0 446.1 1.2 445.5 0.5 445.4 0.0 M460.1 27.1 460.2 26.6 459.9 26.3 459.7 26.4 459.6 26.6 459.5 27.1 459.7 27.3 459.9 27.2 460.1 27.1 M469.1 53.8 468.9 53.6 468.6 53.0 467.9 50.9 466.4 47.5 465.5 44.9 464.9 42.5 462.9 32.3 462.5 29.5 462.4 28.5 462.8 26.8 462.7 25.8 462.5 25.3 461.9 24.8 461.8 24.3 461.7 24.0 461.4 23.9 460.9 23.9 460.7 23.9 460.2 24.3 459.9 24.3 459.8 24.1 460.2 23.6 460.5 22.8 460.7 22.7 461.2 22.3 461.4 22.1 461.4 21.8 461.2 21.5 460.9 21.5 460.7 21.5 460.2 22.0 459.9 22.1 459.3 21.8 458.7 21.4 458.6 21.1 458.8 20.9 459.7 20.7 460.2 20.4 460.3 20.1 460.3 19.9 460.1 19.6 459.4 19.0 457.4 16.6 455.2 13.7 453.2 10.5 450.4 5.2 447.9 1.2 447.3 0.5 447.1 0.0 M461.2 27.0 460.9 26.3 460.9 26.1 461.2 25.7 461.3 26.1 461.4 26.6 461.4 26.8 461.2 27.0 M469.1 47.1 468.9 46.8 468.6 46.2 467.7 42.5 467.0 39.0 465.7 30.5 464.7 26.3 464.5 25.6 464.1 24.6 464.1 24.2 464.4 24.1 464.6 24.2 464.9 24.6 465.1 24.7 465.9 24.9 466.6 24.8 466.8 24.6 466.7 24.1 466.5 23.8 466.1 23.6 465.1 23.4 464.6 22.4 463.9 21.9 463.4 21.2 463.1 21.0 462.5 20.6 462.1 19.7 461.9 19.3 461.2 18.9 460.9 18.7 460.5 17.9 459.7 16.8 455.4 10.6 454.2 8.6 451.5 4.0 449.8 1.2 449.2 0.5 449.0 0.0 M463.2 17.9 463.2 17.4 463.1 16.9 462.9 16.7 462.6 17.1 462.6 17.6 462.9 18.0 463.1 18.0 463.2 17.9 M467.0 22.1 467.0 21.8 466.4 21.6 465.9 21.6 465.5 21.8 465.6 22.1 465.9 22.2 466.4 22.2 467.0 22.1 M469.1 21.4 467.0 20.6 466.6 20.4 466.0 19.4 465.8 18.9 465.8 16.4 465.6 15.5 465.4 15.3 465.1 15.3 464.8 15.4 464.5 15.9 464.4 16.8 464.1 17.0 463.9 16.5 463.6 14.9 463.4 14.2 463.1 13.9 462.9 13.8 462.1 13.9 461.7 13.7 459.9 12.1 458.2 10.2 456.9 8.8 455.7 7.2 451.8 1.2 451.1 0.5 450.9 0.0 M469.1 24.8 468.9 24.7 468.0 23.8 467.8 23.6 467.7 23.3 468.4 23.1 469.1 23.0 M469.1 17.5 468.9 17.4 468.0 15.6 467.4 14.6 467.1 14.1 466.4 11.2 466.1 11.0 465.9 11.2 465.4 12.5 465.1 12.7 464.9 12.2 464.7 10.7 464.6 10.2 464.4 9.9 464.1 9.7 463.6 9.7 463.3 9.9 462.9 10.4 462.6 10.4 462.1 9.9 460.2 8.3 458.2 6.4 456.4 4.4 454.9 2.6 454.0 1.2 453.4 0.5 453.1 0.0 M469.1 11.7 468.9 11.6 468.1 10.6 467.4 9.8 467.1 9.4 466.0 7.0 465.6 5.7 465.4 5.2 465.1 5.0 464.9 4.9 464.6 4.9 464.4 5.1 463.9 6.2 463.6 6.6 463.4 6.6 462.6 6.3 461.4 5.5 459.9 4.2 458.4 2.7 457.1 1.2 456.2 0.5 455.9 0.2 455.9 0.0 M462.5 0.0 462.4 0.2 462.1 0.4 461.9 0.5 461.7 0.5 461.0 0.2 460.8 0.0 M469.1 7.2 468.9 7.1 468.6 6.8 467.9 5.8 466.9 4.7 464.4 1.2 463.5 0.5 463.2 0.2 463.2 0.0 M469.1 3.5 468.9 3.4 468.6 3.2 466.8 1.2 465.9 0.5 465.7 0.2 465.6 0.0 M469.1 0.3 468.8 0.2 468.7 0.0" fill="none" stroke="#8a2a08" stroke-width="1.2" stroke-opacity="1"/>
<path d="M362.9 107.0 362.6 106.1 362.3 105.6 362.1 105.4 M366.2 107.0 366.0 106.5 363.3 101.6 362.6 100.1 362.3 99.7 362.1 99.5 M369.4 107.0 369.3 106.5 367.6 103.0 365.0 99.1 364.1 97.3 363.8 96.3 363.5 95.8 362.6 94.4 362.3 94.1 362.1 94.0 M372.7 107.0 371.4 103.3 370.4 101.0 367.7 97.1 366.4 95.6 365.4 94.6 363.8 92.6 363.3 91.8 362.3 89.7 362.1 89.5 M375.9 107.0 375.8 106.8 375.3 105.8 373.8 102.5 372.2 99.8 370.3 97.1 367.5 93.6 366.5 92.1 363.3 86.8 362.6 85.1 362.3 84.7 362.1 84.5 M378.1 107.0 378.1 106.8 377.4 105.8 375.8 102.3 374.7 100.3 373.2 97.8 369.9 93.1 368.8 91.4 363.6 81.5 363.0 79.7 362.5 77.0 362.4 73.7 362.4 73.2 362.6 72.5 362.6 72.0 362.3 71.5 362.1 71.4 M380.5 107.0 380.3 106.5 379.6 105.5 376.6 99.8 372.1 92.4 370.1 88.6 367.3 82.4 366.7 80.9 366.2 79.4 365.8 77.7 365.5 75.2 365.5 74.2 365.6 73.0 365.4 72.2 365.1 71.7 364.2 70.8 363.3 69.7 362.3 68.1 362.1 68.0 M383.2 107.0 383.2 106.8 382.4 105.8 381.3 104.0 378.6 99.1 374.8 92.5 373.3 89.9 372.2 87.4 370.6 83.2 370.0 81.2 369.6 79.4 368.9 76.2 368.8 75.2 368.8 74.2 369.0 73.5 369.0 73.2 369.0 73.0 366.7 70.5 365.1 68.5 363.6 66.2 363.1 65.3 362.3 63.5 362.1 63.3 M386.3 107.0 386.1 106.5 385.2 105.5 383.8 103.5 383.0 102.1 380.4 97.3 376.5 90.6 374.9 87.4 374.2 85.2 373.5 82.7 373.0 79.2 372.4 76.2 372.3 75.2 372.3 74.5 372.2 74.0 371.9 73.5 368.8 70.0 367.2 67.8 366.5 66.5 365.7 65.0 365.1 63.6 364.5 61.8 363.6 59.1 363.2 57.3 362.9 55.6 362.7 52.6 362.7 50.4 362.6 49.9 362.3 49.2 362.1 48.9 M389.7 107.0 389.6 106.8 389.4 106.5 388.7 105.8 386.9 103.5 385.3 101.0 384.4 99.4 382.1 94.6 379.2 89.4 378.3 87.6 377.5 85.6 377.1 83.9 376.8 80.9 376.2 77.5 376.2 76.5 376.1 76.0 375.3 74.7 372.6 71.7 370.8 69.5 369.7 67.8 368.9 66.3 368.3 64.8 367.8 63.1 366.6 54.4 366.3 53.1 365.5 51.6 363.6 48.4 362.6 46.3 362.3 45.9 362.1 45.7 M362.1 22.8 362.3 22.7 362.6 22.5 362.8 22.1 362.9 21.8 362.6 20.6 362.3 20.1 362.1 19.9 M362.1 37.9 362.3 37.7 363.1 36.0 363.1 35.5 362.8 34.8 362.3 34.1 362.1 34.0 M393.5 107.0 393.4 106.8 393.2 106.5 392.5 105.8 389.2 101.6 388.1 100.0 387.2 98.3 385.3 93.8 382.8 88.9 381.6 85.9 380.9 83.9 380.6 82.7 380.3 80.4 380.3 79.2 379.9 78.0 373.5 70.0 372.5 68.5 371.7 67.0 371.0 65.3 370.8 64.3 370.7 63.3 370.7 61.8 371.0 60.1 371.4 58.3 371.3 57.8 370.7 56.6 368.0 52.6 366.3 49.9 363.3 44.2 362.3 41.4 362.1 41.1 M362.1 3.4 362.3 3.2 362.6 2.6 363.5 0.0 M397.1 107.0 396.9 106.5 396.3 105.8 392.8 101.0 391.8 99.6 391.0 98.1 389.0 93.8 386.5 89.1 385.4 86.6 384.9 85.2 384.5 83.7 384.4 82.9 384.4 81.9 384.1 80.9 376.1 70.3 374.8 68.3 374.0 66.5 373.6 65.0 373.5 63.8 373.8 62.1 374.6 60.1 374.6 59.6 374.5 59.1 374.3 58.6 373.3 57.1 369.9 52.4 368.2 49.7 367.1 47.7 366.3 45.9 365.6 44.2 365.2 42.7 364.9 41.2 365.0 39.7 365.2 39.0 365.5 38.2 366.1 37.2 366.1 36.7 365.7 35.7 364.7 34.5 363.7 33.0 363.3 32.3 363.1 31.5 362.8 30.5 362.7 28.8 362.8 27.6 363.2 26.6 363.6 25.8 365.3 24.1 365.5 23.8 365.5 23.3 364.1 19.1 363.1 16.6 362.3 14.1 362.1 13.7 M400.5 107.0 400.2 106.5 399.6 105.8 396.0 100.3 394.5 97.8 392.1 92.8 389.9 88.4 389.2 86.4 389.1 85.2 388.4 83.9 385.7 80.4 379.5 71.5 377.7 68.5 377.2 67.5 376.9 66.5 376.7 65.8 376.6 64.8 376.8 63.3 377.2 62.1 377.7 61.3 377.8 61.1 377.7 60.8 375.2 56.6 371.7 51.6 370.3 49.5 369.1 47.2 368.3 45.2 367.8 43.2 367.8 41.5 368.1 40.0 368.9 38.0 368.9 37.2 368.6 36.7 367.2 34.8 366.3 33.3 365.7 31.8 365.6 31.0 365.5 30.3 365.6 29.3 366.1 28.3 366.8 27.4 368.3 26.1 368.5 25.8 368.5 25.6 368.4 24.8 367.8 23.8 367.2 22.1 365.2 15.4 364.5 12.4 364.3 9.9 364.4 7.9 364.7 6.0 365.6 3.7 366.8 1.2 366.9 0.7 366.9 0.0 M404.8 107.0 404.7 106.8 404.5 106.5 403.8 106.0 403.3 105.5 401.3 103.0 399.4 100.3 397.9 97.8 396.8 95.6 395.9 93.1 395.3 91.4 395.3 90.9 395.4 90.1 395.1 89.4 393.9 87.9 390.2 83.7 388.3 81.2 386.3 78.0 382.5 71.5 381.2 68.8 380.8 67.8 380.6 66.8 380.5 65.3 380.9 62.8 380.8 62.1 380.5 61.6 379.9 60.8 373.3 50.1 372.1 47.9 371.2 45.9 370.8 44.2 370.8 42.5 371.3 40.2 371.8 39.0 371.8 38.5 371.7 38.0 370.6 36.5 369.8 35.3 369.2 34.0 368.8 32.8 368.6 31.5 368.8 30.5 369.3 29.7 370.1 28.8 371.5 27.6 371.7 27.3 371.7 27.1 371.6 26.8 371.0 25.8 370.2 24.1 368.6 19.4 368.0 16.4 367.6 12.7 367.7 10.2 368.0 7.9 368.5 6.2 369.6 3.7 369.8 3.2 369.7 2.5 369.1 0.0 M408.9 107.0 408.8 106.6 408.3 106.0 407.1 104.3 406.5 103.2 405.9 102.3 405.3 101.0 404.7 100.3 404.1 99.1 403.5 98.6 403.1 97.7 402.5 97.1 402.0 96.1 401.6 95.6 399.5 92.6 392.4 83.9 391.1 82.2 390.0 80.4 389.1 78.7 388.1 76.5 387.0 73.7 386.2 71.5 385.7 69.8 385.5 68.3 385.3 66.5 385.4 65.5 385.3 65.0 384.5 63.8 383.0 61.8 381.7 60.0 379.3 56.1 376.8 51.6 375.9 49.7 375.2 47.9 374.7 45.9 374.5 44.2 374.8 41.5 375.0 41.0 375.4 40.5 375.5 40.2 375.5 40.0 373.6 37.7 372.7 36.2 371.9 34.8 371.7 34.0 371.6 33.3 371.6 32.3 372.0 31.2 372.7 30.3 374.3 28.6 374.4 28.3 374.4 28.1 374.2 27.6 373.6 26.6 371.3 20.4 370.8 18.6 370.5 16.9 370.5 15.4 370.5 13.9 370.6 12.4 370.8 10.9 371.4 8.7 372.1 7.2 372.8 6.0 372.9 5.5 372.8 5.0 372.4 3.5 371.6 0.0 M410.8 107.0 410.6 106.5 410.0 105.8 406.8 101.1 404.0 96.6 397.3 87.6 394.7 83.9 393.4 81.9 392.6 80.4 392.1 79.2 391.6 77.8 391.3 76.5 391.2 75.2 391.1 73.7 391.3 70.5 391.1 69.8 390.7 69.0 389.8 67.8 386.4 63.3 382.9 58.3 381.8 56.6 380.9 54.9 380.2 53.4 379.6 51.9 379.1 49.7 378.9 47.7 378.9 43.7 379.0 43.2 379.4 42.2 379.4 42.0 379.2 41.5 378.8 41.0 376.6 38.5 375.5 37.0 374.7 35.5 374.4 34.3 374.4 33.5 374.5 33.0 374.9 32.0 376.1 30.5 376.9 29.8 377.1 29.3 376.9 28.5 376.4 27.8 376.2 27.3 375.7 25.8 375.0 23.3 373.8 20.1 373.4 18.4 373.1 16.9 373.1 15.6 373.2 14.4 373.3 13.2 373.6 11.9 374.3 10.1 374.8 9.2 375.7 7.7 375.8 7.2 375.8 6.7 375.1 4.0 374.5 0.0 M413.3 107.0 413.1 106.5 412.5 105.8 411.7 104.5 407.8 99.3 402.6 91.9 400.8 89.1 400.1 87.9 399.6 86.6 399.1 84.9 399.1 84.2 399.2 83.7 399.3 83.6 399.8 83.6 400.1 83.7 400.5 84.4 400.8 84.6 401.1 84.6 401.2 84.4 401.1 83.9 400.5 83.4 400.1 82.4 399.4 81.7 399.1 80.8 398.8 80.6 398.1 80.2 398.1 79.4 397.9 78.9 397.4 78.6 397.2 78.5 396.9 77.2 396.5 76.5 395.4 73.7 394.6 72.0 393.5 70.0 392.1 67.8 388.7 63.3 386.1 59.6 384.2 56.4 383.5 54.9 383.0 53.6 382.5 51.6 382.4 49.9 382.5 48.4 382.7 46.9 382.7 45.4 383.1 43.7 383.0 43.2 382.7 42.7 380.1 39.7 378.7 38.0 377.8 36.5 377.6 35.7 377.4 35.0 377.5 34.0 377.8 33.0 378.7 31.8 379.7 30.8 379.8 30.3 379.7 29.8 378.8 28.1 378.3 26.6 377.8 24.3 376.5 19.6 376.2 18.1 376.1 16.9 376.1 14.9 376.2 13.9 376.5 12.9 377.2 11.2 378.4 9.2 378.6 8.4 378.6 7.9 378.2 6.5 378.0 5.2 377.5 0.0 M419.5 107.0 419.3 106.5 418.2 105.0 417.4 103.3 417.0 102.3 416.2 100.8 414.2 98.7 411.3 95.8 409.2 93.3 405.3 87.9 398.8 77.0 397.8 75.0 396.1 70.7 395.4 69.3 394.1 67.3 391.1 63.3 389.4 60.8 387.5 57.6 386.4 55.1 385.9 53.1 385.7 51.1 385.8 49.9 386.0 47.9 386.1 46.4 386.5 45.4 386.5 44.9 385.6 43.7 383.8 41.5 381.8 38.7 381.0 37.2 380.6 36.0 380.6 35.0 380.9 34.0 381.4 33.3 382.7 31.8 382.8 31.3 382.6 30.8 381.9 29.5 381.0 27.1 379.9 22.3 379.5 20.1 379.3 18.1 379.3 15.9 379.5 14.2 380.0 12.7 381.2 10.2 381.4 9.7 381.3 8.9 381.0 7.7 380.7 6.0 380.2 0.0 M421.7 107.0 421.4 106.5 420.7 105.5 418.4 101.0 417.5 99.7 416.3 98.3 412.9 95.1 411.3 93.3 409.4 90.9 407.3 87.6 405.8 85.2 403.5 80.9 400.7 76.5 399.9 74.7 398.6 71.5 397.5 69.0 396.4 67.2 393.7 63.3 392.5 61.3 391.2 58.8 390.0 56.1 389.4 53.9 389.1 51.9 389.1 50.9 389.4 48.2 389.7 47.2 389.7 46.9 389.1 45.7 386.2 41.7 384.9 39.7 384.2 38.2 383.8 37.0 383.8 36.0 384.1 35.0 384.8 34.0 385.7 33.1 385.8 32.8 385.6 32.0 384.7 30.3 384.0 28.5 382.9 24.3 382.5 21.6 382.4 18.4 382.5 15.6 382.9 13.7 383.9 11.0 384.0 10.4 383.9 9.7 383.5 8.2 383.2 6.5 382.6 0.0 M424.3 107.0 424.1 106.5 423.2 105.5 421.9 103.3 420.3 100.3 419.2 98.6 417.7 96.8 414.5 93.8 413.1 92.4 411.5 90.4 409.9 87.9 408.0 84.7 405.2 79.4 402.1 74.2 399.4 68.3 398.6 66.8 395.7 62.1 394.9 60.3 394.2 58.6 393.3 55.9 392.9 53.6 392.7 51.9 392.7 50.1 392.8 49.2 392.7 48.7 392.3 47.7 388.9 42.5 388.1 41.0 387.4 39.5 387.1 38.2 387.0 37.2 387.3 36.2 387.7 35.3 388.6 34.0 388.7 33.8 388.8 33.3 388.6 32.8 387.7 31.5 387.0 29.8 385.9 25.3 385.5 23.1 385.3 20.1 385.5 16.6 385.9 14.2 386.8 11.7 386.8 11.2 386.1 8.9 385.7 7.0 385.4 4.5 384.9 0.0 M427.8 107.0 427.7 106.8 426.5 105.5 425.3 103.8 422.4 99.1 421.0 97.1 419.2 95.1 415.2 91.4 414.1 90.1 413.0 88.7 410.9 85.4 407.4 78.9 404.4 74.0 403.3 71.8 401.3 67.0 398.9 62.3 397.9 60.1 397.4 58.3 397.0 56.4 396.8 54.1 396.8 52.1 396.6 51.1 394.9 48.7 393.2 45.9 391.4 42.7 390.6 41.0 390.3 40.0 390.1 39.2 390.1 38.5 390.2 37.7 390.6 36.7 391.1 35.7 391.8 34.8 391.9 34.3 391.7 33.8 390.7 32.3 389.9 30.5 388.9 26.8 388.5 24.3 388.2 21.1 388.2 19.4 388.4 17.6 388.9 14.9 389.8 12.2 389.7 11.7 389.3 10.9 388.8 9.4 388.3 7.2 387.7 4.0 387.2 0.0 M432.1 107.0 431.9 106.8 430.2 105.5 428.6 103.7 427.1 101.8 423.9 97.1 421.5 94.1 420.2 92.7 417.0 89.6 415.6 88.1 414.0 85.9 411.6 82.2 406.5 73.2 405.8 71.7 405.3 70.5 403.6 65.3 401.8 61.1 401.2 59.3 400.9 57.3 400.8 55.9 401.0 54.4 400.8 53.9 400.0 52.6 397.4 49.0 396.1 47.2 394.9 44.9 393.8 42.7 393.4 41.5 393.2 40.5 393.1 39.5 393.2 38.7 393.4 38.0 393.9 37.0 394.4 36.2 395.0 35.5 395.2 35.3 395.2 35.0 395.1 34.7 394.2 33.5 393.5 32.3 393.0 31.3 391.9 27.8 391.4 25.6 391.2 23.6 391.0 21.6 391.0 19.9 391.2 18.4 391.4 16.9 391.7 15.6 392.3 14.2 392.8 13.2 392.8 12.9 391.9 10.2 391.0 7.2 390.1 3.2 389.6 0.0 M437.0 107.0 436.9 106.8 436.7 106.5 432.4 103.1 431.2 102.0 430.1 100.9 422.8 92.1 418.6 87.6 417.1 85.9 415.5 83.9 414.0 81.7 412.2 78.8 409.8 74.2 408.8 72.2 408.1 70.5 407.4 68.0 406.5 62.6 405.6 59.1 405.2 57.3 405.0 56.9 404.5 55.9 398.4 46.9 397.6 45.4 397.0 44.2 396.5 42.9 396.3 42.0 396.2 41.0 396.2 40.0 396.4 39.2 396.6 38.5 397.2 37.5 398.0 36.2 398.1 35.7 397.9 35.0 397.0 33.5 396.3 32.0 395.4 29.7 394.8 28.1 394.4 26.1 393.9 22.1 393.9 20.6 394.0 19.1 394.2 17.9 394.4 16.9 395.0 15.4 395.6 14.2 395.7 13.4 395.6 12.9 395.1 11.7 394.6 9.9 393.2 4.7 392.6 2.2 392.2 0.0 M440.5 107.0 440.3 106.5 438.8 104.6 438.0 103.8 436.8 102.7 432.7 99.3 431.1 97.7 429.1 95.6 424.7 90.4 419.9 84.9 417.7 82.2 416.2 79.9 414.8 77.7 413.7 75.5 412.4 72.7 411.6 70.5 411.2 69.0 411.0 67.5 410.9 62.3 410.5 61.3 409.5 59.7 407.2 56.6 405.4 53.9 401.1 46.9 400.0 44.7 399.6 43.7 399.4 42.7 399.3 41.7 399.3 40.7 399.8 39.2 400.3 38.2 401.1 37.1 401.2 36.5 400.9 35.7 400.2 34.3 398.4 30.3 397.8 28.5 397.3 26.1 397.0 22.6 397.0 20.4 397.3 18.6 397.8 16.9 398.8 14.4 398.8 13.9 398.2 12.7 397.4 10.2 395.6 3.0 395.0 0.0 M444.1 107.0 444.1 106.8 443.2 105.8 441.4 103.0 439.7 101.0 438.1 99.4 434.1 96.1 431.9 94.0 428.2 89.9 424.7 86.1 423.5 84.7 422.3 82.9 418.8 77.5 418.0 76.0 417.3 74.5 416.8 73.0 416.4 71.5 415.9 69.0 415.5 66.3 415.1 65.0 414.2 63.6 412.8 61.3 409.3 56.4 407.5 53.6 405.4 49.9 403.6 46.2 403.1 44.9 402.8 43.9 402.6 42.9 402.6 42.0 402.7 41.2 403.0 40.2 404.0 38.0 404.0 37.2 403.9 36.7 403.2 35.5 400.8 29.3 400.3 27.1 400.0 24.8 400.0 22.6 400.2 20.4 400.7 18.1 401.7 15.4 401.7 14.6 400.8 12.4 400.1 10.2 398.3 2.7 397.8 0.0 M449.3 107.0 449.1 106.5 448.0 105.5 445.9 103.0 441.7 97.6 440.1 95.6 438.6 94.2 434.3 90.6 431.1 87.4 428.4 84.9 426.9 83.2 425.9 81.7 424.1 78.2 421.8 74.2 421.1 72.5 420.5 70.0 419.9 68.8 415.1 61.3 410.8 55.1 409.2 52.4 407.7 49.4 406.9 47.7 406.4 46.2 406.1 44.9 406.0 43.7 406.0 42.0 406.4 40.7 406.9 39.2 406.9 38.5 406.8 38.0 405.8 36.0 403.9 30.8 403.2 28.3 402.8 25.8 402.7 23.3 402.9 21.1 403.3 19.4 404.5 15.6 404.6 15.1 404.4 14.6 403.3 12.2 402.7 10.2 400.9 2.2 400.5 0.0 M452.1 107.0 451.9 106.5 451.2 105.8 448.2 101.5 445.3 97.7 441.7 92.8 439.3 89.8 436.8 87.1 433.7 84.4 432.4 83.2 431.5 82.2 430.7 81.2 429.8 79.7 427.9 76.2 424.7 72.1 423.7 70.8 421.0 66.5 413.9 56.1 412.4 53.6 410.9 50.6 410.2 48.9 409.6 47.4 409.3 46.2 409.2 44.9 409.1 43.9 409.2 42.9 409.4 42.0 409.9 40.2 410.0 39.7 409.9 39.2 409.7 38.7 408.8 37.2 407.1 33.3 406.2 30.3 405.5 27.3 405.3 24.6 405.5 22.1 405.9 20.1 407.1 16.4 407.2 15.6 407.0 14.9 405.8 11.9 405.2 9.9 403.2 0.0 M454.6 107.0 454.5 106.8 453.7 105.8 451.0 101.4 449.5 99.4 445.8 94.9 442.6 90.9 439.3 86.9 434.2 80.9 430.5 76.0 426.4 70.8 423.2 66.0 420.2 61.9 418.7 59.6 415.9 55.1 414.3 51.9 413.5 50.1 412.9 48.4 412.6 47.2 412.4 45.9 412.3 44.9 412.4 43.7 412.6 42.5 413.1 40.7 413.1 40.2 413.1 40.0 411.9 38.0 410.7 35.7 409.9 34.0 409.0 31.5 408.4 28.8 408.2 27.1 408.1 25.6 408.1 24.1 408.1 22.8 408.5 20.9 409.8 16.6 409.8 15.9 409.6 15.1 408.5 12.4 407.8 10.2 407.4 8.4 406.6 4.2 405.7 0.0 M457.3 107.0 457.1 106.5 456.2 105.5 452.7 99.8 451.3 97.8 450.2 96.5 447.5 93.7 446.0 92.0 442.0 87.3 437.0 81.2 435.1 78.7 432.1 74.2 428.1 69.3 425.1 65.0 421.3 59.8 419.8 57.3 418.3 54.4 417.4 52.1 416.5 49.9 416.1 48.4 415.7 46.9 415.6 45.7 415.6 44.4 415.9 42.7 416.3 41.5 416.3 41.0 413.6 36.0 412.6 34.0 411.8 31.8 411.2 29.8 411.0 28.3 410.9 26.8 410.9 25.3 411.0 23.6 411.5 20.9 412.2 18.6 412.6 17.4 412.7 16.9 412.6 16.1 411.3 12.9 410.6 10.7 410.1 8.7 409.4 5.2 408.2 0.0 M460.6 107.0 460.5 106.8 460.3 106.5 459.3 105.5 457.7 103.4 456.4 101.5 454.1 97.6 452.7 95.6 451.5 94.2 448.2 91.2 446.0 88.9 443.5 86.1 441.5 83.7 437.7 78.5 435.3 74.7 434.1 73.0 429.9 67.8 426.8 63.6 424.1 60.1 423.0 58.3 422.1 56.6 421.3 54.9 420.6 52.6 419.8 49.9 419.3 47.7 419.2 46.4 419.2 45.2 419.3 43.7 419.7 42.2 419.6 41.7 419.1 40.7 418.4 39.5 417.2 37.4 415.4 33.8 414.5 31.5 414.0 29.6 413.8 28.3 413.7 27.1 413.9 24.6 414.4 21.8 415.6 17.9 415.7 17.1 415.5 16.6 415.0 15.6 414.4 14.2 413.4 11.4 410.8 0.0 M464.2 107.0 464.1 106.8 463.9 106.5 463.0 105.8 461.1 103.5 459.3 101.3 457.9 99.2 455.7 95.3 454.2 93.3 452.7 91.8 448.7 88.3 446.8 86.5 445.0 84.7 443.6 82.9 440.8 78.9 436.0 71.5 434.8 70.0 432.4 67.1 431.1 65.5 426.2 58.8 425.4 57.6 424.9 56.6 424.3 55.1 423.7 53.4 423.3 51.1 422.9 48.7 422.7 47.2 422.6 45.7 422.7 44.4 422.9 42.7 422.8 42.2 422.6 41.7 420.8 38.7 419.1 35.3 417.7 32.0 417.3 30.8 417.0 29.5 416.8 28.3 416.7 27.3 416.8 26.1 416.9 24.8 417.5 22.6 418.9 18.9 419.0 18.1 418.8 17.6 418.2 16.6 417.2 14.6 416.3 12.2 415.3 8.4 413.4 0.0 M467.7 107.0 467.6 106.8 466.5 105.8 465.6 104.6 462.1 100.6 460.9 99.1 459.7 97.3 457.4 93.3 455.7 91.1 453.5 88.9 447.7 83.9 446.3 82.5 445.0 81.0 443.7 79.2 441.5 75.9 437.8 69.9 436.6 68.3 434.1 65.3 432.8 63.6 428.9 58.1 427.8 56.1 427.2 54.9 426.8 53.4 426.0 49.4 425.6 46.2 425.6 44.4 425.7 43.2 425.6 42.5 425.4 42.0 423.5 38.5 422.1 35.5 420.8 31.8 420.3 30.3 420.1 29.0 420.0 27.1 420.2 25.1 420.8 23.1 422.2 19.6 422.2 18.9 422.0 18.4 419.9 14.4 418.6 11.2 417.7 8.2 415.9 0.0 M469.1 104.6 468.9 104.5 467.6 102.6 462.8 96.8 459.2 91.6 457.2 89.1 454.7 86.5 448.7 81.1 447.5 79.7 445.2 77.0 443.1 74.0 439.4 68.0 435.7 63.3 434.3 61.3 432.1 57.8 430.8 55.6 430.3 54.4 429.8 52.9 428.9 49.2 428.4 46.2 428.3 44.2 428.4 42.9 428.3 42.5 426.4 39.0 425.3 36.5 424.1 32.8 423.4 29.8 423.2 27.8 423.4 25.8 423.9 23.8 425.2 20.4 425.2 20.1 425.2 19.6 424.7 18.4 421.8 12.9 420.9 10.7 420.1 7.9 418.4 0.0 M469.1 99.9 468.9 99.7 468.6 99.4 467.6 97.7 457.7 86.1 455.4 83.7 449.9 78.2 447.6 75.7 446.0 73.8 444.3 71.5 441.0 66.4 436.8 60.6 435.5 58.3 434.1 55.9 433.4 54.1 432.8 52.6 431.8 49.2 431.1 45.2 431.0 44.2 431.0 42.9 431.0 42.5 430.7 42.0 430.0 40.7 429.3 39.5 428.3 37.2 427.4 34.5 426.7 31.5 426.4 28.8 426.4 26.6 426.8 24.6 427.8 21.1 427.9 20.6 427.9 20.1 427.6 19.4 424.3 12.9 423.3 10.4 422.3 7.2 421.2 2.5 420.7 0.0 M469.1 94.8 468.9 94.7 467.6 93.1 463.9 89.5 462.1 87.7 457.7 82.6 452.8 77.5 447.7 72.0 446.1 69.8 442.8 64.8 439.5 60.1 438.4 58.3 437.5 56.6 436.6 54.6 435.8 52.4 434.9 49.7 434.1 46.7 433.7 44.7 433.7 42.7 433.6 42.2 432.1 39.7 431.0 37.5 430.2 35.3 429.7 33.0 429.3 30.3 429.4 27.6 429.6 25.6 430.7 21.4 430.7 20.9 427.3 14.2 425.7 10.7 425.1 8.7 424.4 6.3 423.5 2.5 423.0 0.0 M469.1 90.8 468.9 90.7 467.9 89.5 464.6 86.6 462.4 84.4 449.7 70.4 448.6 69.0 447.4 67.3 444.8 63.2 441.8 58.8 440.4 56.4 439.3 53.9 438.1 49.9 436.8 45.9 436.5 44.9 436.4 43.9 436.4 43.2 436.6 42.2 436.5 42.0 435.5 40.5 434.1 38.0 433.1 35.5 432.6 33.5 432.3 31.3 432.3 28.8 432.7 26.1 433.6 22.1 433.5 21.4 433.2 20.6 431.8 18.4 430.5 16.1 429.3 13.7 428.4 11.4 427.6 9.2 426.8 6.5 425.7 2.5 425.2 0.0 M469.1 87.1 468.9 87.0 467.9 85.9 464.9 83.3 463.0 81.4 457.0 75.0 451.8 69.0 450.5 67.3 449.2 65.5 444.4 57.8 443.2 55.6 442.6 54.1 441.9 52.1 439.8 45.7 439.4 43.7 439.5 42.2 439.4 41.7 439.2 41.2 437.8 39.2 437.1 37.7 436.2 35.5 435.6 33.3 435.3 31.3 435.4 29.3 435.7 26.8 436.3 23.3 436.6 22.3 436.5 21.8 434.7 19.1 433.3 16.9 432.0 14.4 430.9 11.9 430.1 9.7 429.3 7.2 428.1 2.5 427.6 0.0 M469.1 83.7 468.9 83.6 468.6 83.4 467.9 82.6 465.1 80.2 462.6 77.7 458.5 73.2 454.5 68.3 452.8 66.0 451.2 63.6 447.0 56.4 445.5 53.6 444.3 50.4 442.7 45.2 442.3 43.2 442.3 42.5 442.4 41.5 442.4 41.0 442.0 40.5 441.0 39.4 440.0 37.7 439.2 35.7 438.7 33.8 438.4 32.0 438.4 30.3 438.6 28.5 439.2 25.1 439.4 23.1 439.5 22.6 439.4 22.1 439.1 21.6 438.0 20.4 436.2 17.6 434.7 14.9 433.4 11.9 432.4 9.4 431.7 7.0 430.9 3.7 430.1 0.0 M469.1 80.6 468.9 80.5 468.6 80.3 467.9 79.5 466.4 78.2 462.9 74.7 460.1 71.5 457.4 68.0 455.7 65.5 454.2 63.1 449.0 53.8 447.7 51.1 446.4 47.9 445.4 44.7 445.2 43.4 445.1 42.5 445.2 40.2 445.0 39.7 443.7 38.5 442.6 37.0 441.9 35.5 441.4 33.8 441.3 32.3 441.3 30.5 441.6 29.0 442.3 25.6 442.5 24.1 442.7 23.3 442.6 22.8 442.1 22.1 440.7 20.6 439.3 18.6 437.8 16.1 436.2 12.7 435.0 9.7 434.1 7.0 433.3 4.0 432.6 0.0 M469.1 77.5 468.9 77.5 468.6 77.2 467.9 76.4 466.4 75.0 463.7 72.0 461.2 69.0 459.1 66.0 458.0 64.3 457.0 62.6 453.7 56.1 450.5 50.1 449.4 47.9 448.4 45.2 447.9 42.9 447.8 42.0 447.9 40.7 448.0 40.2 448.4 39.2 448.4 39.0 448.0 38.6 446.8 37.8 445.7 36.7 445.0 35.6 444.6 34.8 444.3 33.9 444.1 33.0 444.1 31.8 444.2 30.5 444.5 29.0 445.3 26.1 445.5 24.3 445.8 23.6 445.8 23.1 445.5 22.6 444.4 21.8 443.7 21.1 442.2 19.4 440.9 17.4 439.7 14.9 437.8 10.7 436.6 7.4 435.7 4.0 434.9 0.0 M469.1 74.2 468.9 74.1 468.6 73.9 467.9 72.9 466.6 71.5 463.4 67.8 461.9 65.8 460.5 63.8 458.9 60.8 455.4 53.2 452.7 48.2 451.8 46.4 451.4 45.2 451.0 43.9 450.7 42.7 450.6 41.7 450.7 40.7 450.8 39.5 451.0 39.0 451.4 38.2 451.4 37.7 451.2 37.4 449.6 36.5 448.6 35.5 447.9 34.3 447.4 32.3 447.3 31.0 447.4 29.8 448.3 25.1 448.7 23.8 448.7 23.3 448.4 22.8 446.7 21.6 445.0 19.9 443.8 18.1 442.8 16.4 440.2 10.4 439.1 7.4 438.0 4.0 437.2 0.0 M469.1 70.5 468.9 70.3 468.6 70.1 467.9 69.0 464.4 65.1 463.2 63.6 462.1 61.9 460.9 59.3 458.1 52.6 454.8 45.7 454.3 44.4 453.8 42.9 453.6 41.7 453.4 40.5 453.4 39.2 453.5 38.5 453.9 37.2 454.3 36.2 454.4 36.0 454.3 35.7 454.0 35.5 452.7 35.2 451.8 34.5 451.5 34.0 451.2 33.5 450.9 32.8 450.7 31.8 450.5 29.8 450.5 27.6 450.8 25.8 451.5 24.1 451.5 23.6 451.4 23.3 451.0 22.8 449.3 21.6 447.7 20.1 446.6 18.6 445.7 17.1 445.0 15.6 443.5 11.7 441.3 6.3 440.2 3.0 439.5 0.0 M469.1 66.7 468.9 66.6 468.6 66.4 467.9 65.4 466.9 64.3 466.0 63.3 465.0 61.8 464.1 60.3 463.2 58.3 461.5 53.9 459.0 47.9 457.9 45.2 456.6 41.0 456.3 39.5 456.1 38.2 456.0 37.2 456.1 36.2 456.4 35.3 456.8 34.3 456.8 34.0 456.7 33.8 456.4 33.7 454.9 33.6 454.7 33.5 454.3 33.0 453.9 32.0 453.1 28.3 453.1 27.3 453.2 26.1 453.5 25.1 454.2 23.8 454.2 23.3 453.7 22.8 452.2 21.8 451.0 20.9 449.9 19.6 449.0 18.1 448.5 17.1 448.1 15.9 447.1 11.9 446.5 10.2 445.7 8.4 443.8 4.7 442.1 0.5 442.0 0.0 M469.1 63.1 468.9 63.0 468.6 62.7 467.1 60.3 466.6 59.3 462.5 49.2 461.6 46.7 459.0 37.2 458.3 34.5 458.3 34.0 458.5 33.5 458.6 33.0 458.4 32.7 457.6 32.3 457.4 32.0 457.4 31.8 457.7 31.6 458.4 31.5 458.6 31.3 458.6 30.8 458.2 30.0 457.9 29.8 457.4 29.9 456.9 30.1 456.9 30.0 456.7 29.7 456.4 28.5 455.7 27.1 455.6 26.3 455.8 25.3 456.2 24.6 457.2 23.3 457.3 23.1 457.0 22.8 455.2 22.1 454.4 21.6 453.7 20.9 452.9 19.9 452.4 18.6 452.4 17.6 452.6 16.9 452.9 16.4 453.2 16.2 453.6 16.1 453.7 15.9 453.4 15.1 451.8 12.9 451.1 11.7 450.0 9.7 448.5 6.6 444.7 0.5 444.5 0.0 M469.1 57.7 468.9 57.4 467.9 54.4 466.6 51.7 465.1 48.1 464.4 45.9 463.8 43.7 461.3 32.8 461.2 31.5 461.2 30.5 461.3 30.0 461.7 29.0 461.7 28.2 461.4 27.9 460.9 27.8 460.7 27.9 460.6 27.8 460.5 26.3 460.3 25.6 460.2 25.3 459.9 25.2 459.7 25.3 458.9 25.7 458.7 25.6 458.4 25.3 458.3 24.8 458.5 24.3 459.5 23.3 459.7 23.1 459.7 22.8 459.4 22.6 459.0 22.3 457.7 21.9 457.3 21.6 456.8 21.1 456.6 20.6 456.5 20.1 456.7 19.8 456.9 19.7 457.2 19.7 458.7 19.7 458.8 19.6 458.8 19.1 458.5 18.6 457.9 18.1 456.6 16.9 454.9 14.6 453.9 13.2 452.1 10.2 449.5 5.2 447.0 1.2 446.4 0.5 446.2 0.0 M462.2 26.6 462.2 26.3 462.1 26.0 462.0 26.3 462.1 26.7 462.2 26.6 M460.2 29.1 459.9 28.8 459.9 28.3 460.0 28.1 460.4 27.8 460.6 28.1 460.6 28.5 460.4 29.0 460.2 29.1 M469.1 50.4 468.9 50.2 468.6 49.7 467.1 45.4 466.4 43.2 465.5 38.5 463.8 28.3 463.4 26.8 463.1 25.1 462.9 24.3 462.6 23.8 462.1 23.4 461.4 23.1 461.8 22.3 461.8 21.8 461.6 21.4 461.1 20.9 461.0 20.6 461.0 20.1 460.8 19.6 459.8 18.6 456.9 14.6 455.4 12.4 453.5 9.2 451.2 5.0 448.8 1.2 448.2 0.5 448.0 0.0 M469.1 25.8 468.9 25.7 468.1 24.6 467.4 24.1 466.6 23.5 465.9 23.1 465.8 22.8 466.1 22.7 467.6 22.6 468.1 22.4 468.4 22.1 468.3 21.8 468.1 21.6 467.6 21.4 465.4 20.9 464.8 20.6 464.6 20.4 464.5 20.1 464.7 19.1 464.7 18.6 464.6 18.4 463.9 17.8 463.1 15.5 462.9 15.3 462.6 15.4 461.9 16.5 461.7 16.4 461.2 15.7 460.2 14.8 459.2 13.7 457.4 11.5 455.4 8.7 450.9 1.5 450.1 0.5 449.9 0.0 M465.1 16.4 465.1 16.6 465.1 16.4 M469.1 42.4 468.9 42.0 468.6 40.7 467.3 30.0 467.2 28.5 467.3 28.1 467.8 26.6 468.1 26.4 469.1 26.4 M469.1 20.0 468.6 19.7 467.8 18.9 467.3 17.6 466.6 16.8 466.4 16.1 466.3 14.6 466.1 13.9 465.9 13.8 465.1 14.0 464.9 14.0 464.7 13.7 464.2 12.2 464.4 10.9 464.4 10.7 464.1 10.2 463.9 10.2 463.6 10.4 463.5 10.7 463.2 11.7 463.1 11.8 462.9 12.0 462.6 12.0 462.1 11.8 460.9 10.9 458.2 8.2 456.4 6.3 454.9 4.3 452.8 1.2 452.2 0.5 452.0 0.0 M469.1 14.3 468.9 14.2 468.1 13.0 467.4 12.1 466.8 10.7 466.4 10.0 466.1 9.8 465.9 9.9 465.4 10.7 465.1 10.6 464.9 9.7 464.6 9.3 463.4 9.0 461.7 7.7 459.9 6.2 458.4 4.8 456.2 2.3 455.4 1.2 454.6 0.5 454.4 0.2 454.4 0.0 M465.6 8.9 465.7 8.7 465.5 8.2 465.4 7.9 465.1 7.7 465.0 7.9 464.9 8.2 465.1 8.7 465.4 9.0 465.6 8.9 M469.1 9.4 468.9 9.3 468.6 9.0 467.4 7.4 466.4 5.9 465.7 4.5 464.1 2.4 463.9 2.3 463.6 2.4 462.9 3.1 462.6 3.2 462.1 3.2 461.7 3.0 460.9 2.6 460.2 2.1 458.2 0.5 458.0 0.2 457.9 0.0 M469.1 5.2 468.9 5.1 468.6 4.9 467.9 4.0 464.6 0.5 464.4 0.2 464.4 0.0 M469.1 1.8 468.9 1.7 468.1 1.0 467.5 0.5 467.2 0.2 467.1 0.0" fill="none" stroke="#ee9246" stroke-width="1.05" stroke-opacity="1"/>
<path d="M444 -2 L470 -2 L470 18 L458 16 L450 8 Z" fill="#3a0c02" opacity="0.75" filter="url(#bl15)"/>
<ellipse cx="418" cy="100" rx="8" ry="9" fill="#4a1004" opacity="0.5" filter="url(#bl2)" transform="rotate(40 418 100)"/>
<ellipse cx="369" cy="98" rx="9" ry="10" fill="#4a1004" opacity="0.45" filter="url(#bl2)" transform="rotate(0 369 98)"/>
<path d="M363 44 C366.67 45.83 378.5 51.67 385 55 C391.5 58.33 396.5 59.83 402 64 C407.5 68.17 413.33 74 418 80 C422.67 86 427.33 95 430 100 C432.67 105 433.33 108.33 434 110" fill="none" stroke="#4a1004" stroke-width="6" stroke-opacity="0.35" stroke-linecap="round" filter="url(#bl3)"/>
<path d="M363 80 C365.83 81.83 375.17 86.67 380 91 C384.83 95.33 390 103.5 392 106" fill="none" stroke="#4a1004" stroke-width="6" stroke-opacity="0.35" stroke-linecap="round" filter="url(#bl3)"/>
<path d="M372 28 C376.67 29 390.33 32.33 400 34 C409.67 35.67 421.67 38 430 38 C438.33 38 446.67 34.67 450 34" fill="none" stroke="#f6b060" stroke-width="6" stroke-opacity="0.15" stroke-linecap="round" filter="url(#bl3)"/>
<path d="M410 48 C413.33 50.33 424.17 56.67 430 62 C435.83 67.33 440.83 73.67 445 80 C449.17 86.33 453.33 96.67 455 100" fill="none" stroke="#f6b060" stroke-width="8" stroke-opacity="0.2" stroke-linecap="round" filter="url(#bl3)"/>
<path d="M355 1 C356.67 1.27 355.67 0.85 365 2.6 C374.33 4.35 397.73 8.52 411 11.5 C424.27 14.48 436 18.15 444.6 20.5 C453.2 22.85 459.6 24.75 462.6 25.6" fill="none" stroke="#f4b050" stroke-width="5" stroke-opacity="0.35" stroke-linecap="round" filter="url(#bl2)"/>
<path d="M355 1 C356.67 1.27 355.67 0.85 365 2.6 C374.33 4.35 397.73 8.52 411 11.5 C424.27 14.48 436 18.15 444.6 20.5 C453.2 22.85 459.6 24.75 462.6 25.6" fill="none" stroke="#fbd88a" stroke-width="1.6" stroke-opacity="0.7" stroke-linecap="round" filter="url(#bl05)"/>
<path d="M459.6 28.6 C460.17 26.33 462.6 19.77 463 15 C463.4 10.23 462.17 2.5 462 0" fill="none" stroke="#f4b050" stroke-width="4" stroke-opacity="0.3" stroke-linecap="round" filter="url(#bl2)"/>
<path d="M459.6 28.6 C460.17 26.33 462.6 19.77 463 15 C463.4 10.23 462.17 2.5 462 0" fill="none" stroke="#fbd88a" stroke-width="1.4" stroke-opacity="0.7" stroke-linecap="round" filter="url(#bl05)"/>
<path d="M355 22 C356.47 22.6 357.97 24.1 363.8 25.6 C369.63 27.1 379.97 28.85 390 31 C400.03 33.15 414.9 38.53 424 38.5 C433.1 38.47 438.67 33.05 444.6 30.8 C450.53 28.55 457.1 25.97 459.6 25" fill="none" stroke="#f4b050" stroke-width="5" stroke-opacity="0.3" stroke-linecap="round" filter="url(#bl2)"/>
<path d="M355 22 C356.47 22.6 357.97 24.1 363.8 25.6 C369.63 27.1 379.97 28.85 390 31 C400.03 33.15 414.9 38.53 424 38.5 C433.1 38.47 438.67 33.05 444.6 30.8 C450.53 28.55 457.1 25.97 459.6 25" fill="none" stroke="#fbd88a" stroke-width="1.2" stroke-opacity="0.4" stroke-linecap="round" filter="url(#bl05)"/>
<path d="M355 33 C356.33 33.58 358 34.33 363 36.5 C368 38.67 378.83 43.08 385 46 C391.17 48.92 395 50.5 400 54 C405 57.5 410.33 63 415 67 C419.67 71 424.33 74.33 428 78 C431.67 81.67 434.33 85 437 89 C439.67 93 442.17 98.17 444 102 C445.83 105.83 447.33 110.33 448 112" fill="none" stroke="#f4b050" stroke-width="7" stroke-opacity="0.45" stroke-linecap="round" filter="url(#bl2)"/>
<path d="M355 33 C356.33 33.58 358 34.33 363 36.5 C368 38.67 378.83 43.08 385 46 C391.17 48.92 395 50.5 400 54 C405 57.5 410.33 63 415 67 C419.67 71 424.33 74.33 428 78 C431.67 81.67 434.33 85 437 89 C439.67 93 442.17 98.17 444 102 C445.83 105.83 447.33 110.33 448 112" fill="none" stroke="#fbd88a" stroke-width="2" stroke-opacity="0.8" stroke-linecap="round" filter="url(#bl05)"/>
<path d="M355 66 C356.47 66.53 359.63 66.87 363.8 69.2 C367.97 71.53 374.22 77 380 80 C385.78 83 392.43 83.43 398.5 87.2 C404.57 90.97 412.82 98.47 416.4 102.6 C419.98 106.73 419.4 110.43 420 112" fill="none" stroke="#f4b050" stroke-width="6" stroke-opacity="0.4" stroke-linecap="round" filter="url(#bl2)"/>
<path d="M355 66 C356.47 66.53 359.63 66.87 363.8 69.2 C367.97 71.53 374.22 77 380 80 C385.78 83 392.43 83.43 398.5 87.2 C404.57 90.97 412.82 98.47 416.4 102.6 C419.98 106.73 419.4 110.43 420 112" fill="none" stroke="#fbd88a" stroke-width="1.6" stroke-opacity="0.7" stroke-linecap="round" filter="url(#bl05)"/>
</g>
<rect x="20.8" y="0" width="106.7" height="106.6" fill="none" stroke="#6a2a10" stroke-width="0.8" stroke-opacity="0.8"/><rect x="193" y="2" width="106.5" height="106.4" fill="none" stroke="#6a2a10" stroke-width="0.8" stroke-opacity="0.8"/><rect x="362.1" y="0" width="106.4" height="106.2" fill="none" stroke="#6a2a10" stroke-width="0.8" stroke-opacity="0.8"/>
<rect x="135.3" y="16.6" width="7.6" height="73" fill="url(#cmap)" stroke="#a0a0a0" stroke-width="0.7"/>
<text x="134.2" y="11.6" font-family="'DejaVu Sans', 'Liberation Sans', sans-serif" font-size="10.4" fill="#1a1a1a" stroke="#1a1a1a" stroke-width="0.2">81.2</text>
<text x="134.2" y="104.7" font-family="'DejaVu Sans', 'Liberation Sans', sans-serif" font-size="10.4" fill="#1a1a1a" stroke="#1a1a1a" stroke-width="0.2">80.4</text>
<text transform="translate(156.2 54.5) rotate(-90)" text-anchor="middle" font-family="'DejaVu Sans', 'Liberation Sans', sans-serif" font-size="11.6" fill="#1a1a1a" stroke="#1a1a1a" stroke-width="0.2" textLength="52" lengthAdjust="spacingAndGlyphs">Defl. [nm]</text>
<rect x="306.8" y="17.9" width="7.6" height="73.7" fill="url(#cmap)" stroke="#a0a0a0" stroke-width="0.7"/>
<text x="305.5" y="13.1" font-family="'DejaVu Sans', 'Liberation Sans', sans-serif" font-size="10.4" fill="#1a1a1a" stroke="#1a1a1a" stroke-width="0.2">81.0</text>
<text x="305.5" y="107" font-family="'DejaVu Sans', 'Liberation Sans', sans-serif" font-size="10.4" fill="#1a1a1a" stroke="#1a1a1a" stroke-width="0.2">80.2</text>
<text transform="translate(326.5 55.3) rotate(-90)" text-anchor="middle" font-family="'DejaVu Sans', 'Liberation Sans', sans-serif" font-size="11.6" fill="#1a1a1a" stroke="#1a1a1a" stroke-width="0.2" textLength="52" lengthAdjust="spacingAndGlyphs">Defl. [nm]</text>
<rect x="475" y="16" width="7.6" height="73.4" fill="url(#cmap)" stroke="#a0a0a0" stroke-width="0.7"/>
<text x="474" y="11.9" font-family="'DejaVu Sans', 'Liberation Sans', sans-serif" font-size="10.4" fill="#1a1a1a" stroke="#1a1a1a" stroke-width="0.2">80.8</text>
<text x="474" y="103.7" font-family="'DejaVu Sans', 'Liberation Sans', sans-serif" font-size="10.4" fill="#1a1a1a" stroke="#1a1a1a" stroke-width="0.2">79.9</text>
<text transform="translate(498.9 53.2) rotate(-90)" text-anchor="middle" font-family="'DejaVu Sans', 'Liberation Sans', sans-serif" font-size="11.6" fill="#1a1a1a" stroke="#1a1a1a" stroke-width="0.2" textLength="52" lengthAdjust="spacingAndGlyphs">Defl. [nm]</text>
<text x="0.0" y="16.2" font-family="'DejaVu Sans', 'Liberation Sans', sans-serif" font-size="13" fill="#1a1a1a" stroke="#1a1a1a" stroke-width="0.3">a</text>
<text x="169.8" y="18.6" font-family="'DejaVu Sans', 'Liberation Sans', sans-serif" font-size="13" fill="#1a1a1a" stroke="#1a1a1a" stroke-width="0.3">b</text>
<text x="340" y="16.6" font-family="'DejaVu Sans', 'Liberation Sans', sans-serif" font-size="13" fill="#1a1a1a" stroke="#1a1a1a" stroke-width="0.3">c</text>
<text x="0.3" y="135" font-family="'DejaVu Sans', 'Liberation Sans', sans-serif" font-size="13" fill="#1a1a1a" stroke="#1a1a1a" stroke-width="0.3">d</text>
<text x="170.6" y="136.8" font-family="'DejaVu Sans', 'Liberation Sans', sans-serif" font-size="13" fill="#1a1a1a" stroke="#1a1a1a" stroke-width="0.3">e</text>
<text x="341" y="136.6" font-family="'DejaVu Sans', 'Liberation Sans', sans-serif" font-size="13" fill="#1a1a1a" stroke="#1a1a1a" stroke-width="0.3">f</text>
<text x="-0.3" y="263.2" font-family="'Liberation Serif', serif" font-size="13" fill="#1a1a1a" stroke="#1a1a1a" stroke-width="0.3">g</text>
</svg></body></html>
